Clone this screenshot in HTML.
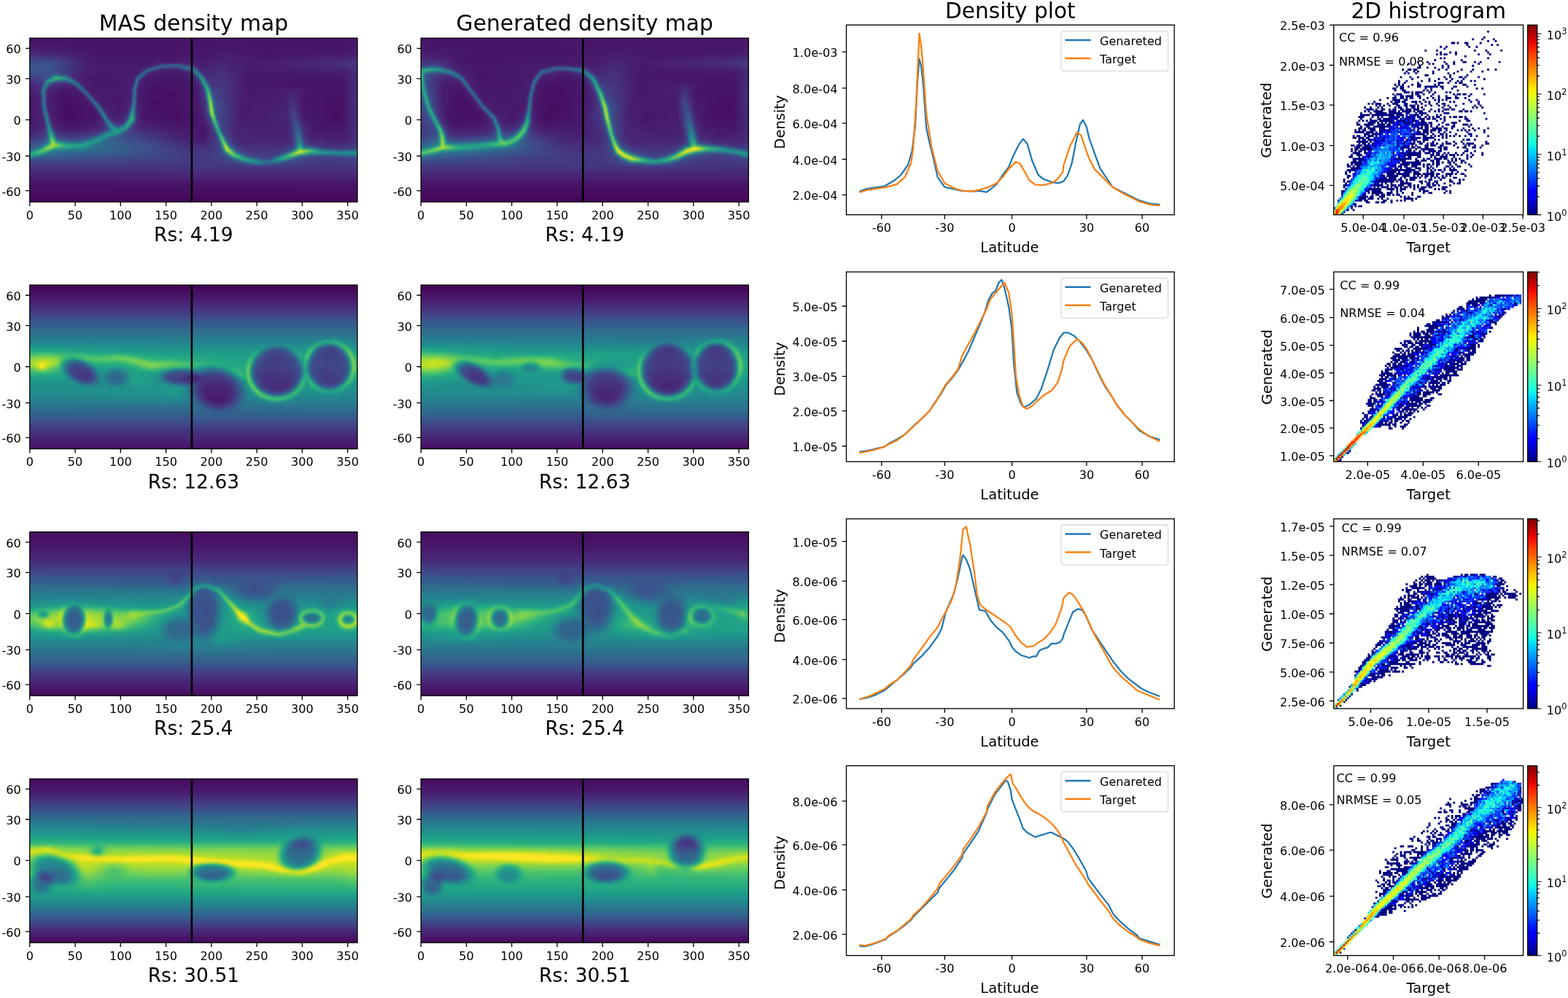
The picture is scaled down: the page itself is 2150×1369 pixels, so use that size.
<!DOCTYPE html><html><head><meta charset="utf-8"><title>figure</title><style>html,body{margin:0;padding:0;background:#fff;overflow:hidden}svg{display:block}#fig{position:relative;width:2150px;height:1369px;overflow:hidden;background:#fff}.mp{position:absolute;overflow:hidden}.mq{position:absolute}.mq i{display:block}</style></head><body><div id="fig"><div class="mp" style="left:40.8px;top:52.3px;width:449.2px;height:224.7px"><div class="mq" style="left:-4px;top:-4px;width:457.2px;filter:blur(0.9px)"><i style="height:7.00px;background:linear-gradient(90deg,#481366 5px,#481769 440px,#48196b 453px)"></i><i style="height:3.00px;background:linear-gradient(90deg,#481467 5px,#48186a 262px,#481669 439px,#481a6c 453px)"></i><i style="height:3.00px;background:linear-gradient(90deg,#481668 5px,#48176a 257px,#481669 438px,#481b6d 453px)"></i><i style="height:3.00px;background:linear-gradient(90deg,#48186a 5px,#481669 251px,#481769 438px,#481c6e 453px)"></i><i style="height:3.00px;background:linear-gradient(90deg,#481b6d 5px,#471265 211px,#48186a 281px,#481669 437px,#481d6e 453px)"></i><i style="height:3.00px;background:linear-gradient(90deg,#482071 5px,#471365 140px,#48196b 254px,#481568 289px,#481769 437px,#481e6f 453px)"></i><i style="height:3.00px;background:linear-gradient(90deg,#482676 5px,#481366 119px,#48196b 252px,#48196b 281px,#481668 433px,#481f71 453px)"></i><i style="height:3.00px;background:linear-gradient(90deg,#472d7c 5px,#482475 47px,#481466 108px,#48196b 250px,#481d6e 277px,#481567 332px,#481c6e 438px,#482273 453px)"></i><i style="height:3.00px;background:linear-gradient(90deg,#453681 5px,#46307e 39px,#481568 94px,#48196b 249px,#481f70 276px,#481668 321px,#482071 438px,#482676 453px)"></i><i style="height:3.00px;background:linear-gradient(90deg,#423f85 5px,#433d84 35px,#481769 91px,#481b6d 249px,#482172 275px,#48176a 314px,#482576 438px,#472b7a 453px)"></i><i style="height:3.00px;background:linear-gradient(90deg,#3f4788 5px,#3f4788 33px,#48196b 89px,#481a6c 191px,#481d6f 251px,#482474 274px,#48196b 310px,#472c7a 439px,#47307d 453px)"></i><i style="height:3.00px;background:linear-gradient(90deg,#3c4f8a 5px,#3c4f8b 32px,#481a6c 88px,#481a6c 172px,#472877 206px,#481b6d 232px,#482576 259px,#482071 282px,#481c6e 322px,#482979 422px,#463480 452px,#46337f 453px)"></i><i style="height:3.00px;background:linear-gradient(90deg,#3a538b 5px,#3a548c 31px,#481c6e 86px,#481a6c 162px,#482676 176px,#37598a 185px,#306a8d 206px,#472c7a 223px,#481c6e 241px,#482978 272px,#481a6c 306px,#482979 420px,#463480 442px,#463480 453px)"></i><i style="height:3.00px;background:linear-gradient(90deg,#39568c 5px,#39558c 31px,#481c6e 84px,#481a6c 157px,#472a78 167px,#2e6f8e 178px,#2f6b8e 182px,#38578a 186px,#404183 204px,#2c748e 214px,#2c728e 221px,#395489 229px,#482878 233px,#481e70 244px,#472b7a 272px,#481a6c 305px,#472b7a 437px,#453580 451px,#46337f 453px)"></i><i style="height:3.00px;background:linear-gradient(90deg,#39558c 5px,#3a538b 33px,#481d6f 81px,#481b6d 153px,#482475 160px,#3d4a87 163px,#34608c 165px,#2d718e 169px,#34608c 174px,#472a78 182px,#481f71 190px,#482474 209px,#3d4a87 218px,#25848e 229px,#2c738e 231px,#46327e 235px,#482374 239px,#472d7b 262px,#482173 284px,#481b6d 322px,#482676 436px,#46327f 451px,#46307d 453px)"></i><i style="height:3.00px;background:linear-gradient(90deg,#3b528b 5px,#3d4e8a 38px,#481d6e 78px,#481b6d 150px,#482373 156px,#45337e 158px,#2c738e 162px,#2e6d8e 164px,#3d4a86 167px,#482374 174px,#481a6c 198px,#482676 221px,#443781 226px,#3a538a 228px,#24878e 231px,#238b8d 232px,#2b758e 234px,#423f84 237px,#482978 240px,#482a79 256px,#472d7b 274px,#48196b 303px,#482071 435px,#472f7d 451px,#472d7b 453px)"></i><i style="height:3.00px;background:linear-gradient(90deg,#3d4d8a 5px,#3b528b 37px,#39558b 42px,#482374 68px,#481769 103px,#481d6f 150px,#462e7b 154px,#2d708e 158px,#2a778e 159px,#32668d 161px,#45327d 164px,#481f71 167px,#48186a 209px,#482777 227px,#443982 229px,#25858d 233px,#21918c 235px,#2b768e 237px,#414185 240px,#472b7a 243px,#472f7d 260px,#472b7a 277px,#48186b 304px,#481b6d 434px,#472d7b 451px,#472b7a 453px)"></i><i style="height:3.00px;background:linear-gradient(90deg,#404688 5px,#3c4f8b 31px,#2f6b8e 36px,#269588 40px,#34618c 53px,#3f4787 57px,#472b7a 62px,#481769 86px,#481d6f 147px,#472978 150px,#306b8d 154px,#2b768e 155px,#2a788e 156px,#355e8c 158px,#472c7a 161px,#481d6e 165px,#481668 210px,#482576 229px,#424085 232px,#218f8c 236px,#20968b 238px,#2a788e 240px,#424085 243px,#472c7b 246px,#47307d 273px,#48186b 301px,#48196b 434px,#472c7b 450px,#482a79 453px)"></i><i style="height:3.00px;background:linear-gradient(90deg,#433e85 5px,#3f4889 25px,#31668d 30px,#249489 34px,#37b877 38px,#3ebc74 40px,#20a187 51px,#20958b 55px,#3e4988 61px,#472a79 65px,#481769 84px,#481c6e 145px,#482978 148px,#365c8c 150px,#2c728e 151px,#297a8e 152px,#31678d 154px,#45327d 157px,#481f70 160px,#471365 196px,#481f70 228px,#472f7c 233px,#355e8c 236px,#1f9b8a 239px,#1fa088 240px,#20968b 241px,#3c4f8a 244px,#453580 246px,#472e7c 254px,#46317e 273px,#48186a 301px,#481669 433px,#472c7b 450px,#482a79 453px)"></i><i style="height:3.00px;background:linear-gradient(90deg,#453681 5px,#424186 23px,#3a548b 25px,#248e8b 28px,#26ab82 32px,#289e85 36px,#2c738d 41px,#2e6e8d 54px,#228d8c 58px,#25858d 61px,#443781 67px,#482172 71px,#481568 97px,#481e6f 145px,#482676 147px,#443882 148px,#2b748e 150px,#287d8e 151px,#2e6e8e 152px,#46337f 154px,#482172 156px,#471264 185px,#481c6e 228px,#472d7b 235px,#3e4988 237px,#20948b 240px,#20a486 241px,#21a287 242px,#297a8e 244px,#3e4b89 246px,#453681 248px,#453681 264px,#482374 285px,#48176a 315px,#481668 433px,#472d7b 450px,#482a79 453px)"></i><i style="height:3.00px;background:linear-gradient(90deg,#472f7d 5px,#433d84 22px,#39568c 24px,#1f9d89 27px,#1fa088 28px,#2e708d 32px,#414386 39px,#46337f 52px,#423e84 56px,#277f8e 63px,#287d8e 66px,#38578b 69px,#472978 72px,#481b6d 78px,#48186a 137px,#482475 146px,#46327f 147px,#2e6e8e 149px,#287d8e 150px,#2b748e 151px,#443882 153px,#482676 154px,#48186a 162px,#471365 214px,#482374 234px,#46317e 237px,#3a548b 239px,#238a8d 241px,#20a287 242px,#23a983 243px,#22a386 244px,#2c738e 246px,#3f4888 248px,#453580 251px,#46337f 274px,#48196b 300px,#481568 433px,#472d7b 450px,#472a79 453px)"></i><i style="height:3.00px;background:linear-gradient(90deg,#482979 5px,#463480 20px,#414487 22px,#238a8d 25px,#1f9a8a 26px,#20948b 27px,#424186 31px,#472f7c 38px,#482676 58px,#423c82 63px,#2a788e 68px,#287d8e 69px,#2f6b8d 71px,#45337e 74px,#481e70 77px,#481668 108px,#481e70 144px,#472d7c 146px,#31678e 148px,#287b8e 149px,#2a788e 150px,#423f85 152px,#482978 153px,#481c6e 156px,#471063 188px,#481a6c 230px,#472e7c 238px,#3f4988 240px,#209a89 243px,#25ab82 244px,#2aaf7f 245px,#229f87 246px,#2f6c8e 248px,#404688 250px,#453882 253px,#46337f 275px,#48196b 300px,#471265 405px,#481669 434px,#472d7c 450px,#472b7a 453px)"></i><i style="height:3.00px;background:linear-gradient(90deg,#482475 5px,#472f7d 19px,#404587 21px,#228b8d 24px,#20928c 25px,#2f6d8e 27px,#424085 29px,#472c7b 32px,#481d6f 58px,#482776 66px,#3c4e88 69px,#2d718e 71px,#29798e 72px,#2a778e 73px,#37598b 75px,#472777 78px,#481a6c 83px,#481a6c 139px,#482172 144px,#482979 145px,#423f85 146px,#2a788e 148px,#297b8e 149px,#31678e 150px,#472d7b 152px,#481e6f 154px,#471062 181px,#481a6c 231px,#472c7b 239px,#424086 241px,#2d708e 243px,#228e8c 244px,#24a784 245px,#31b57b 246px,#2aaf7f 247px,#229c88 248px,#3b518b 251px,#433e85 253px,#46317e 277px,#48196b 300px,#48186a 372px,#481466 432px,#472e7c 450px,#472b7a 453px)"></i><i style="height:3.00px;background:linear-gradient(90deg,#482071 5px,#472c7a 18px,#3f4888 20px,#287c8e 22px,#23898e 23px,#24878e 24px,#414286 27px,#472c7b 29px,#48186b 50px,#481e6f 68px,#45347f 71px,#30698d 74px,#2b768e 76px,#375b8b 78px,#472777 81px,#481a6c 85px,#481a6c 138px,#482676 144px,#453882 145px,#2b748e 147px,#287c8e 148px,#2e6e8e 149px,#46327e 151px,#481e70 153px,#470f62 178px,#481a6c 232px,#46317e 241px,#3e4b89 243px,#26828e 245px,#21a187 246px,#33b67a 247px,#3aba76 248px,#25aa83 249px,#238b8d 250px,#3a548b 252px,#424086 254px,#47307d 278px,#48196b 300px,#481d6e 356px,#481d6f 368px,#471063 428px,#472e7c 450px,#472b7a 453px)"></i><i style="height:3.00px;background:linear-gradient(90deg,#481d6f 5px,#472a79 18px,#453681 19px,#26828e 22px,#25848e 23px,#443b83 26px,#482777 28px,#481467 51px,#481e70 72px,#423c82 75px,#2d708e 78px,#2b748e 79px,#365c8c 81px,#482676 84px,#481a6c 88px,#481b6d 139px,#482172 143px,#472b7a 144px,#32648e 146px,#297b8e 147px,#2a798e 148px,#433d85 150px,#482878 151px,#481a6c 155px,#470e61 188px,#481a6c 233px,#46327e 242px,#3c4f8a 244px,#218e8d 246px,#29af7f 247px,#46c06f 248px,#43be71 249px,#24a784 250px,#25868e 251px,#3a528b 253px,#414286 255px,#46317e 278px,#48196b 300px,#481d6f 355px,#482575 365px,#481568 384px,#471365 432px,#472e7c 450px,#472b7a 453px)"></i><i style="height:3.00px;background:linear-gradient(90deg,#481b6d 5px,#482777 18px,#46327f 19px,#277f8e 22px,#25838e 23px,#2c718e 24px,#443983 26px,#482475 28px,#471265 50px,#481c6e 75px,#44357f 78px,#2e6f8e 81px,#2b748e 82px,#37598b 84px,#46307c 86px,#481c6e 89px,#48186a 135px,#482374 143px,#472f7d 144px,#306a8e 146px,#277e8e 147px,#2a778e 148px,#443b83 150px,#482777 151px,#48196b 156px,#470e61 194px,#481a6c 234px,#472f7d 242px,#414387 244px,#287b8e 246px,#20a187 247px,#42be72 248px,#5cc863 249px,#47c06f 250px,#22a386 251px,#33638d 253px,#3f4888 255px,#472a79 282px,#48186a 304px,#481d6e 354px,#482777 365px,#481668 381px,#471265 432px,#472e7c 450px,#472b7a 453px)"></i><i style="height:3.00px;background:linear-gradient(90deg,#481a6c 5px,#482576 18px,#472f7d 19px,#297b8e 22px,#26838e 23px,#2c738e 24px,#443a83 26px,#482374 28px,#471164 49px,#48196b 77px,#472877 80px,#33648d 83px,#2c738e 84px,#2b758e 85px,#3a548a 87px,#472c7a 89px,#481c6e 92px,#48186b 135px,#482575 143px,#463480 144px,#2d708e 146px,#27808e 147px,#2b768e 148px,#443982 150px,#482676 151px,#481769 157px,#470e61 200px,#481b6d 235px,#46327f 243px,#3d4d8a 245px,#228d8d 247px,#2fb37c 248px,#60ca61 249px,#6ece58 250px,#45bf70 251px,#209e88 252px,#34608d 254px,#3f4889 256px,#482978 283px,#48186a 305px,#481d6f 354px,#482a79 365px,#481668 380px,#471164 431px,#472f7c 450px,#472c7a 453px)"></i><i style="height:3.00px;background:linear-gradient(90deg,#48196b 5px,#482474 18px,#472c7b 19px,#423f85 20px,#2a788e 22px,#26828e 23px,#2b768e 24px,#433c84 26px,#472a79 27px,#481b6d 32px,#470f62 64px,#481c6e 81px,#472c7a 83px,#306a8d 86px,#2b768e 87px,#2b748e 88px,#433981 91px,#482172 93px,#481668 116px,#481e70 141px,#482777 143px,#443983 144px,#2b768e 146px,#26828e 147px,#2c748e 148px,#453781 150px,#482576 151px,#481668 158px,#470f61 206px,#481c6e 236px,#453781 244px,#37598c 246px,#20a087 248px,#4fc36a 249px,#7ed34e 250px,#79d152 251px,#3fbc73 252px,#20978a 253px,#2b758e 254px,#365d8d 255px,#3f4989 257px,#482475 286px,#48176a 312px,#481d6f 354px,#472e7c 364px,#481669 380px,#471163 431px,#472f7d 450px,#472c7a 453px)"></i><i style="height:3.00px;background:linear-gradient(90deg,#48186a 5px,#482374 18px,#472a79 19px,#443c84 20px,#2b748e 22px,#26828e 23px,#2a788e 24px,#423f85 26px,#472b7a 27px,#481d6f 30px,#470e61 58px,#481a6c 83px,#482474 85px,#3f4586 87px,#2d708e 89px,#2a798e 90px,#2c738e 91px,#45347f 94px,#482072 96px,#481668 124px,#482273 142px,#472b7a 143px,#423f86 144px,#297b8e 146px,#26838e 147px,#2c728e 148px,#453580 150px,#481f70 152px,#470e61 173px,#481769 233px,#472e7c 243px,#433d84 245px,#3d4c8a 246px,#238b8d 248px,#31b47b 249px,#76d053 250px,#9ad93d 251px,#7cd250 252px,#36b678 253px,#21908c 254px,#2d6f8e 255px,#3c4f8a 257px,#433e85 269px,#48196c 298px,#481e70 354px,#47307d 364px,#481769 379px,#471163 431px,#472f7d 450px,#472c7a 453px)"></i><i style="height:3.00px;background:linear-gradient(90deg,#48186a 5px,#482273 18px,#453882 20px,#2d718e 22px,#26818e 23px,#297a8e 24px,#414287 26px,#472d7b 27px,#481d6f 30px,#470d60 58px,#48196b 85px,#472877 88px,#31688d 91px,#2a788e 92px,#29798e 93px,#2f6d8e 94px,#462f7c 97px,#481d6f 100px,#48186a 133px,#482475 142px,#472f7d 143px,#31668e 145px,#277f8e 146px,#25838e 147px,#2d6f8e 148px,#463480 150px,#481f70 152px,#470e61 173px,#481769 233px,#46327e 244px,#414487 246px,#38588c 247px,#1f9f88 249px,#57c766 250px,#9eda3a 251px,#a9dc33 252px,#6dce59 253px,#26ab82 254px,#25848e 255px,#31678e 256px,#3d4d8a 258px,#48196c 298px,#481e70 354px,#46337f 364px,#481769 379px,#471063 431px,#472f7c 450px,#472c7a 453px)"></i><i style="height:3.00px;background:linear-gradient(90deg,#48186a 5px,#482172 18px,#453581 20px,#2e6e8e 22px,#27808e 23px,#287c8e 24px,#404688 26px,#472f7d 27px,#481f70 29px,#470e61 53px,#481668 84px,#482475 90px,#3f4787 92px,#2c738e 94px,#287c8e 95px,#2b768e 96px,#472b7a 100px,#481c6e 104px,#48196c 134px,#482878 142px,#453681 143px,#2e6f8e 145px,#25858e 146px,#25848e 147px,#3d4d8a 149px,#46337f 150px,#481f71 152px,#470e61 172px,#481669 233px,#46307e 244px,#423f85 246px,#3c4f8b 247px,#306a8e 248px,#21908c 249px,#3cbb75 250px,#91d743 251px,#bade28 252px,#96d83f 253px,#42be71 254px,#20958b 255px,#2c738e 256px,#365d8d 257px,#3e4b8a 259px,#48196c 298px,#482172 355px,#463480 365px,#481769 379px,#471063 431px,#472e7c 450px,#472b7a 453px)"></i><i style="height:3.00px;background:linear-gradient(90deg,#48186a 5px,#482072 18px,#46327f 20px,#306a8e 22px,#277f8e 23px,#277f8e 24px,#3d4c8a 26px,#46337f 27px,#482071 29px,#470e61 51px,#481467 84px,#482273 92px,#423e84 94px,#2f6c8e 96px,#297b8e 97px,#287d8e 98px,#365c8c 100px,#45347f 102px,#481f70 105px,#48186a 131px,#482978 141px,#3e4989 143px,#26828e 145px,#218e8d 146px,#25858e 147px,#3e4c8a 149px,#46337f 150px,#482072 152px,#470f61 170px,#481568 232px,#472b7a 243px,#443b84 246px,#355f8d 248px,#26818e 249px,#27ac81 250px,#78d152 251px,#bcdf27 252px,#b9de29 253px,#6ccd59 254px,#23a884 255px,#26818e 256px,#32668e 257px,#3d4e8a 259px,#481a6c 297px,#482273 355px,#453781 365px,#48176a 379px,#470f62 430px,#472e7c 450px,#472b7a 453px)"></i><i style="height:3.00px;background:linear-gradient(90deg,#48176a 5px,#482374 19px,#472b7a 20px,#365b8c 22px,#2a768e 23px,#26828e 24px,#297a8e 25px,#414387 27px,#472d7c 28px,#481d6e 31px,#470d60 57px,#481669 88px,#482172 94px,#443881 96px,#2a778e 99px,#277f8e 100px,#297a8e 101px,#443781 104px,#482273 106px,#481769 127px,#482475 139px,#463480 141px,#33628d 143px,#20938c 145px,#1f958c 146px,#25848e 147px,#463480 150px,#482173 152px,#470f62 168px,#481567 231px,#482a79 243px,#414287 247px,#39558c 248px,#2c738e 249px,#1f9c89 250px,#59c765 251px,#b3dd2d 252px,#cee11d 253px,#99d93d 254px,#3cbb75 255px,#21918c 256px,#2d708e 257px,#3b508b 259px,#481b6d 295px,#481d6f 331px,#482475 356px,#443a83 365px,#48186a 379px,#470f62 430px,#472e7c 450px,#472b7a 453px)"></i><i style="height:3.00px;background:linear-gradient(90deg,#48176a 5px,#482575 20px,#46307d 21px,#32658e 23px,#287c8e 24px,#26828e 25px,#2b758e 26px,#433d84 28px,#472a79 29px,#481b6d 33px,#470c5f 62px,#48196b 92px,#482777 97px,#3e4a88 99px,#297a8e 101px,#25838e 102px,#33638d 104px,#453580 106px,#482273 108px,#48186a 128px,#472a7a 139px,#404587 141px,#20928c 144px,#1f9e88 145px,#1f988b 146px,#3e4a89 149px,#482978 151px,#481466 160px,#470f62 211px,#481d6f 239px,#453580 246px,#3d4d8a 248px,#31668e 249px,#228c8d 250px,#39b976 251px,#9ad93c 252px,#d4e21a 253px,#c0df25 254px,#65cb5e 255px,#20a386 256px,#287c8e 257px,#33628d 258px,#3d4d8a 260px,#481a6c 296px,#481e70 329px,#482172 348px,#482878 357px,#433c84 365px,#48186b 379px,#470f62 430px,#472e7c 450px,#472b7a 453px)"></i><i style="height:3.00px;background:linear-gradient(90deg,#481769 5px,#482273 20px,#453781 22px,#2e6e8e 24px,#26818e 25px,#26828e 26px,#2d708e 27px,#453882 29px,#482172 31px,#470e61 50px,#481467 89px,#482273 98px,#433c83 100px,#26818e 103px,#26828e 104px,#2b768e 105px,#46337f 108px,#482072 111px,#481b6d 130px,#472c7b 138px,#404487 140px,#21908c 143px,#20a387 144px,#21a685 145px,#1f998a 146px,#3e4989 149px,#472a79 151px,#481568 159px,#470e61 207px,#481c6e 239px,#453882 247px,#375a8c 249px,#297a8e 250px,#23a485 251px,#6dcd59 252px,#c4e023 253px,#d1e11b 254px,#97d83e 255px,#3bba75 256px,#21908c 257px,#2e6f8e 258px,#3c4f8b 260px,#481b6d 294px,#481d6f 327px,#482475 345px,#482575 356px,#424086 366px,#48196b 379px,#470f62 430px,#472e7c 450px,#472b7a 453px)"></i><i style="height:3.00px;background:linear-gradient(90deg,#481769 5px,#482374 21px,#472c7a 22px,#375a8c 24px,#2b768e 25px,#25848e 26px,#277f8e 27px,#3d4c89 29px,#46337f 30px,#482071 32px,#470e61 52px,#481668 92px,#482676 100px,#404687 102px,#2a778e 104px,#25848e 105px,#25838e 106px,#414286 109px,#482878 111px,#481a6c 124px,#482878 136px,#414487 139px,#228c8d 142px,#20a386 143px,#28ae80 144px,#24aa83 145px,#1f988b 146px,#3f4989 149px,#472b7a 151px,#481769 158px,#470e61 202px,#481b6d 239px,#46327f 247px,#404588 249px,#2a788e 251px,#249e87 252px,#5cc662 253px,#a7db34 254px,#addc30 255px,#76d053 256px,#2baf7f 257px,#24868e 258px,#31688e 259px,#3d4c8a 261px,#481b6d 294px,#481d6f 326px,#482676 344px,#482474 356px,#414387 366px,#48196b 380px,#470f62 430px,#472d7c 450px,#472a7a 453px)"></i><i style="height:3.00px;background:linear-gradient(90deg,#481769 5px,#482172 21px,#46317e 23px,#287c8e 26px,#25858e 27px,#287c8e 28px,#472f7d 31px,#481d6f 34px,#470d60 58px,#48186a 95px,#482374 101px,#443982 103px,#277e8e 106px,#23888e 107px,#26818e 108px,#414185 111px,#472979 113px,#481d6e 125px,#472a7a 135px,#404587 138px,#24878e 141px,#20a087 142px,#2db27d 143px,#32b67a 144px,#25ac82 145px,#1f968b 146px,#3f4989 149px,#472c7b 151px,#48176a 158px,#470f62 205px,#481a6d 240px,#453882 249px,#3a548b 251px,#22948a 253px,#43bc71 254px,#84d34b 255px,#89d548 256px,#57c666 257px,#22a386 258px,#287d8e 259px,#34618d 260px,#3f4989 262px,#481b6d 294px,#481d6f 327px,#482676 344px,#482475 357px,#404788 367px,#481b6d 379px,#470f61 429px,#472d7b 450px,#472a79 453px)"></i><i style="height:3.00px;background:linear-gradient(90deg,#48186a 5px,#482374 22px,#453882 24px,#26828e 27px,#24868e 28px,#2a788e 29px,#424086 31px,#482475 33px,#471163 49px,#481669 93px,#482877 103px,#414386 105px,#25858e 108px,#238a8d 109px,#2d718e 111px,#443a82 114px,#482777 117px,#482576 130px,#453681 135px,#33638d 138px,#22908c 140px,#22a485 141px,#39ba76 143px,#34b679 144px,#23a884 145px,#20918c 146px,#3f4888 149px,#472d7b 151px,#48196b 158px,#471163 209px,#481a6c 241px,#453681 250px,#3c4e8a 252px,#24898d 254px,#31b17c 255px,#64cb5e 256px,#68cc5c 257px,#3ebc74 258px,#20988a 259px,#2b748e 260px,#375b8c 261px,#404788 263px,#481c6d 294px,#481e70 328px,#482374 346px,#482374 357px,#3e4a89 367px,#443b84 372px,#481d6f 379px,#470e61 424px,#481e6f 439px,#472d7c 450px,#472a7a 453px)"></i><i style="height:3.00px;background:linear-gradient(90deg,#48196b 5px,#482374 22px,#472f7d 24px,#365c8d 26px,#2a778e 27px,#24878e 28px,#24868e 29px,#38578c 31px,#472c7b 33px,#481c6e 38px,#471063 66px,#481f70 100px,#472d7c 105px,#3e4b89 107px,#24868e 110px,#218e8d 111px,#297a8e 113px,#443982 117px,#482a79 121px,#46317e 132px,#3d4d8a 135px,#238b8d 138px,#2aaf7f 140px,#32b67a 141px,#25a684 143px,#277f8e 145px,#443b83 149px,#482374 153px,#481466 175px,#48186a 241px,#453580 251px,#3e4989 253px,#27808e 255px,#26a683 256px,#49c06e 257px,#50c46a 258px,#33b57a 259px,#21928b 260px,#375a8c 262px,#404688 264px,#481d6f 293px,#481f71 330px,#482575 358px,#3c4f8a 368px,#453681 374px,#481c6e 381px,#471164 429px,#472e7c 450px,#472b7a 453px)"></i><i style="height:3.00px;background:linear-gradient(90deg,#481b6d 5px,#482676 23px,#453681 25px,#27808e 28px,#228b8d 29px,#25858e 30px,#443b83 33px,#482676 35px,#481466 52px,#481d6f 97px,#472d7b 106px,#423f85 108px,#238a8d 112px,#218f8c 114px,#404487 119px,#46337f 125px,#414286 131px,#365d8c 134px,#209c89 137px,#2ab07f 139px,#229e87 141px,#3a548b 145px,#463480 148px,#481e70 157px,#481567 214px,#48196b 243px,#443a83 253px,#375a8c 255px,#229c88 257px,#38b877 258px,#4dc36c 259px,#35b679 260px,#21968a 261px,#365d8d 263px,#404688 265px,#481f70 291px,#481f71 332px,#482475 358px,#3b528b 368px,#3f4989 372px,#482072 380px,#471164 415px,#481a6c 436px,#472e7c 450px,#472c7a 453px)"></i><i style="height:3.00px;background:linear-gradient(90deg,#481c6e 5px,#482777 23px,#46317e 25px,#38588c 27px,#23898d 29px,#21918c 30px,#24878e 31px,#424085 34px,#472a79 36px,#481769 51px,#481f71 96px,#463480 108px,#38578c 111px,#228e8d 114px,#1f978b 115px,#228d8c 117px,#38578b 123px,#3c4d89 126px,#27808d 132px,#26ac82 137px,#21988a 139px,#3c4f8a 143px,#453581 146px,#482071 160px,#481467 241px,#46337f 253px,#414286 255px,#3a548b 256px,#21928b 258px,#2cb07e 259px,#47c06f 260px,#36b778 261px,#209a89 262px,#355f8d 264px,#404688 266px,#482172 289px,#481f71 335px,#482374 358px,#404588 365px,#38578c 369px,#3e4b89 373px,#482374 380px,#481567 403px,#48186a 434px,#472f7c 450px,#472c7b 453px)"></i><i style="height:3.00px;background:linear-gradient(90deg,#481f70 5px,#482979 23px,#433c84 26px,#25838e 29px,#1f948c 30px,#1f988b 31px,#228c8d 32px,#404688 35px,#472f7d 37px,#481b6d 50px,#482374 94px,#443a83 109px,#3b508b 112px,#228e8c 116px,#1f9d89 119px,#228e8c 123px,#287e8e 125px,#22918b 128px,#21a685 132px,#229b89 135px,#30698e 139px,#414387 142px,#472e7c 149px,#48196b 198px,#481769 244px,#453782 255px,#3c4f8a 257px,#24898d 259px,#26a983 260px,#3fbc73 261px,#35b779 262px,#219f88 263px,#33628d 265px,#404688 267px,#482273 288px,#481f70 353px,#472b7a 361px,#365b8d 369px,#3a538b 373px,#482676 380px,#48186a 397px,#48196b 434px,#472f7d 450px,#472c7b 453px)"></i><i style="height:3.00px;background:linear-gradient(90deg,#482273 5px,#472d7b 23px,#443c84 26px,#34618d 28px,#20928c 30px,#1f9f88 31px,#1fa088 32px,#297a8e 34px,#423f85 37px,#472b7a 41px,#481f70 62px,#472f7c 98px,#3f4888 107px,#297a8e 116px,#1fa187 122px,#209e88 129px,#365d8c 136px,#423f85 141px,#482878 165px,#481567 243px,#453782 256px,#3d4c89 258px,#27808e 260px,#22a286 261px,#36b878 262px,#33b67a 263px,#22a386 264px,#31668e 266px,#3f4788 268px,#482575 286px,#481e70 336px,#482475 359px,#443a83 364px,#33628d 370px,#365c8d 373px,#482979 380px,#481a6c 393px,#48196b 433px,#472f7d 450px,#472d7b 453px)"></i><i style="height:3.00px;background:linear-gradient(90deg,#482676 5px,#46317e 23px,#433e85 26px,#365c8d 28px,#1fa187 31px,#25ab82 32px,#24a983 33px,#20998a 34px,#38578c 37px,#453882 40px,#482777 54px,#46327f 92px,#3f4788 101px,#21938b 113px,#1fa088 120px,#24878d 127px,#3c508b 134px,#443c84 145px,#481d6f 210px,#481668 244px,#433e85 258px,#355d8d 260px,#219b89 262px,#2eb27d 263px,#37b878 264px,#29ab81 265px,#228e8c 266px,#375b8c 268px,#414487 270px,#482575 287px,#482071 354px,#472c7b 362px,#31668e 370px,#32648e 373px,#472d7b 380px,#481d6e 390px,#481b6d 433px,#472f7d 451px,#472d7c 453px)"></i><i style="height:3.00px;background:linear-gradient(90deg,#472b7a 5px,#453882 23px,#3d4c8a 27px,#24878e 30px,#1f9f88 31px,#2bb07e 32px,#35b779 33px,#2eb27d 34px,#21a187 35px,#34618d 38px,#414286 41px,#46317e 54px,#443b83 88px,#3c4e8a 96px,#20958b 107px,#21938b 114px,#3d4c8a 133px,#482172 207px,#481568 243px,#453882 258px,#3f4889 260px,#2b748e 262px,#21968b 263px,#2cb17e 264px,#45c070 265px,#3ab976 266px,#23a186 267px,#31688e 269px,#3f4889 271px,#472c7a 282px,#481f71 310px,#482676 360px,#443b84 365px,#2e6d8e 371px,#31678e 374px,#46317e 380px,#482071 388px,#481c6e 433px,#47307d 451px,#472e7c 453px)"></i><i style="height:3.00px;background:linear-gradient(90deg,#46317e 5px,#423f85 23px,#3b518b 27px,#25838e 30px,#1e9b8a 31px,#2cb27e 32px,#44bf70 33px,#4ec36b 34px,#40bc73 35px,#27ab81 36px,#20948b 37px,#355e8d 40px,#404688 44px,#433c84 65px,#3e4a89 86px,#31678d 94px,#1f978b 102px,#21908c 107px,#2f6b8e 115px,#3b508b 131px,#482273 214px,#481668 242px,#443a83 259px,#3f4888 261px,#2d708e 263px,#21908c 264px,#2baf7f 265px,#50c46a 266px,#52c469 267px,#32b37b 268px,#22968a 269px,#34608d 271px,#404688 273px,#482878 286px,#482072 341px,#472a79 362px,#3e4a89 367px,#2d708e 371px,#2d708e 374px,#47307d 381px,#481f71 392px,#481e70 434px,#47307d 451px,#472e7c 453px)"></i><i style="height:3.00px;background:linear-gradient(90deg,#443982 5px,#3e4b89 24px,#34618d 28px,#1f998a 31px,#2bb17e 32px,#68cc5c 34px,#6ece58 35px,#57c665 36px,#35b679 37px,#21a087 38px,#2f6b8e 41px,#375a8c 44px,#3e4b89 61px,#3a538b 78px,#277f8e 90px,#1f9b8a 98px,#25838e 104px,#355f8d 112px,#472f7d 190px,#48196b 242px,#443b84 260px,#3f4888 262px,#2f6d8e 264px,#238b8d 265px,#29ac81 266px,#56c666 267px,#67cc5c 268px,#50c36a 269px,#2aaa81 270px,#24898d 271px,#38598c 273px,#423f85 276px,#482576 291px,#482676 359px,#453681 365px,#29798e 372px,#2c738e 375px,#453581 381px,#482475 390px,#481f71 433px,#46317e 451px,#472f7d 453px)"></i><i style="height:3.00px;background:linear-gradient(90deg,#424286 5px,#39558c 23px,#306a8e 28px,#25838e 30px,#1f988b 31px,#29af7f 32px,#7bd250 34px,#93d741 35px,#92d742 36px,#75d054 37px,#49c06e 38px,#28ac81 39px,#21998a 40px,#25878d 43px,#31678e 56px,#306a8e 75px,#1f9e89 89px,#20958b 96px,#32658e 106px,#424086 174px,#481c6e 241px,#433e85 261px,#39568c 264px,#24878d 266px,#27a982 267px,#57c666 268px,#7ad251 269px,#76d053 270px,#46bd6f 271px,#26a185 272px,#306a8e 274px,#3d4c8a 276px,#463380 283px,#482475 302px,#472a79 360px,#433c84 366px,#24878e 373px,#26828e 375px,#433e85 381px,#472c7b 388px,#482172 430px,#46337f 452px,#46327f 453px)"></i><i style="height:3.00px;background:linear-gradient(90deg,#3e4b89 5px,#355e8d 21px,#26818e 27px,#25a085 30px,#40bb73 32px,#5fc961 33px,#abdc32 35px,#bbde27 36px,#b3dd2d 37px,#6dcd58 39px,#36b578 46px,#229c88 53px,#22908c 69px,#21938b 75px,#20a387 83px,#26818e 94px,#32658e 104px,#3d4d8a 164px,#472c7b 218px,#482374 242px,#433e85 261px,#3e4b89 264px,#30698e 266px,#24a584 268px,#54c567 269px,#89d548 270px,#a0da39 271px,#7ad050 272px,#45bc70 273px,#259e87 274px,#306a8e 276px,#3f4788 279px,#472d7b 291px,#482979 354px,#443a83 365px,#3a538b 368px,#1f998a 373px,#20968b 375px,#3f4788 381px,#453781 387px,#482576 423px,#453681 445px,#453681 453px)"></i><i style="height:3.00px;background:linear-gradient(90deg,#3a548b 5px,#31678e 18px,#24888d 23px,#2ba981 26px,#4bbf6c 28px,#a5db35 32px,#bade28 34px,#b3dd2d 36px,#a7db34 37px,#8ed644 38px,#78d152 40px,#33b67a 52px,#26ac81 59px,#20a088 78px,#2e6f8e 94px,#3d4d8a 167px,#472e7c 222px,#472b7a 245px,#424086 262px,#3d4d8a 265px,#30688e 267px,#22a286 269px,#4dc26b 270px,#90d643 271px,#bedf26 272px,#afdc30 273px,#7fd14d 274px,#3fb973 275px,#249c87 276px,#306b8e 278px,#3e4b89 281px,#46317e 292px,#472a7a 344px,#443a83 363px,#3d4d8a 367px,#2a788e 370px,#1f9d89 372px,#2aaf7f 374px,#1f9e88 376px,#365d8d 380px,#3c4e8a 387px,#47307d 407px,#46317e 436px,#433c84 452px,#443b84 453px)"></i><i style="height:3.00px;background:linear-gradient(90deg,#365c8d 5px,#2b758e 15px,#228f8c 19px,#30b07d 22px,#87d549 27px,#95d840 29px,#8bd546 31px,#34b27a 37px,#28a782 39px,#22908c 62px,#238a8d 76px,#2e6e8e 88px,#3b518b 164px,#46317e 223px,#46337f 253px,#3f4889 265px,#38588c 267px,#277e8e 269px,#219d88 270px,#43bd71 271px,#8fd644 272px,#cde11e 273px,#d8e21b 274px,#bdde29 275px,#7bd04f 276px,#47bb6f 277px,#2da481 278px,#258f8a 279px,#355f8d 282px,#414487 286px,#472f7d 302px,#46337f 352px,#3f4889 364px,#33628d 368px,#20938c 371px,#23a983 372px,#48c16e 374px,#43be71 375px,#2db27d 376px,#23a385 377px,#279388 379px,#27818d 391px,#3f4788 404px,#453781 429px,#404588 453px)"></i><i style="height:3.00px;background:linear-gradient(90deg,#2e6d8e 5px,#249e87 14px,#40bc73 19px,#64cb5e 22px,#65cb5d 25px,#2aa882 31px,#238d8c 35px,#287c8e 40px,#3b518b 163px,#46337f 227px,#443983 258px,#3c4f8a 267px,#32668e 269px,#21968a 271px,#37b478 272px,#71cc55 273px,#a4d939 274px,#c2df27 275px,#cee11f 276px,#c5e022 277px,#a7da34 278px,#50c06a 280px,#32ac7d 281px,#259788 282px,#32658d 285px,#3f4788 289px,#46337f 305px,#453681 347px,#3e4a89 359px,#2a778e 365px,#289c86 368px,#42b673 370px,#95d540 373px,#b1db33 374px,#9bd73c 379px,#34b47a 393px,#239889 399px,#2a778e 406px,#365c8c 428px,#31698d 453px)"></i><i style="height:3.00px;background:linear-gradient(90deg,#229a89 5px,#3cbb75 13px,#3fbb73 19px,#239b88 25px,#2c748e 33px,#30688e 50px,#39568c 150px,#453581 226px,#433c84 260px,#3d4d8a 268px,#2b758e 272px,#269688 274px,#32a97e 275px,#6ac959 277px,#9fd939 279px,#a2da37 280px,#94d740 281px,#35b17a 284px,#269d86 285px,#2d718e 288px,#3e4989 294px,#453882 308px,#443983 343px,#3d4c8a 353px,#2b758e 359px,#269987 362px,#39b278 364px,#7dd14f 367px,#bbde27 370px,#cbe021 372px,#c0de2a 374px,#4cbe6c 384px,#29a483 390px,#20928c 415px,#238b8d 432px,#1f978b 453px)"></i><i style="height:3.00px;background:linear-gradient(90deg,#27ac81 5px,#27808e 21px,#31668e 29px,#3c4f8a 153px,#453580 233px,#424086 265px,#38578c 273px,#26838d 277px,#2ca482 279px,#69cb5b 282px,#75d054 283px,#72cf56 284px,#37b379 288px,#25928a 291px,#38598c 297px,#414387 303px,#453882 333px,#3f4888 345px,#2c738e 352px,#259a87 356px,#39b677 359px,#72cf56 363px,#7bd050 366px,#3cb177 372px,#289887 375px,#33648d 390px,#287d8e 453px)"></i><i style="height:3.00px;background:linear-gradient(90deg,#2a798e 5px,#355f8d 20px,#38578c 59px,#3e4a89 153px,#453581 241px,#414487 271px,#39568c 277px,#277f8d 281px,#279c86 283px,#45bd70 288px,#43be71 291px,#249c87 296px,#2f6b8d 301px,#404588 313px,#433c84 332px,#3b528b 340px,#238e8b 348px,#2fb37c 353px,#3fbb73 358px,#299e85 364px,#2c738e 370px,#39558b 378px,#414387 398px,#3c4e8a 442px,#3b508b 453px)"></i><i style="height:3.00px;background:linear-gradient(90deg,#3a538b 5px,#414487 155px,#453681 250px,#3f4888 278px,#297c8d 288px,#2aaa81 295px,#26ac82 299px,#26828d 309px,#38578b 320px,#3f4888 330px,#287d8e 339px,#20a386 346px,#249c87 352px,#3a538b 367px,#433e85 386px,#433e85 438px,#414387 453px)"></i><i style="height:3.00px;background:linear-gradient(90deg,#3f4788 5px,#424086 153px,#453882 257px,#3e4989 286px,#32668d 294px,#248d8b 301px,#1f9b8a 311px,#2f6c8e 329px,#24888d 338px,#297a8d 346px,#3c4f8a 357px,#443b83 382px,#443c84 439px,#424086 453px)"></i><i style="height:3.00px;background:linear-gradient(90deg,#424086 5px,#443983 171px,#443a83 274px,#3e4a89 297px,#2a788e 315px,#375b8c 337px,#423f85 357px,#463580 428px,#433d84 453px)"></i><i style="height:3.00px;background:linear-gradient(90deg,#453882 5px,#453681 281px,#404587 320px,#46317e 405px,#443882 453px)"></i><i style="height:3.00px;background:linear-gradient(90deg,#46327f 5px,#463480 297px,#46327f 440px,#463480 453px)"></i><i style="height:3.00px;background:linear-gradient(90deg,#472d7c 5px,#472f7d 441px,#46317e 453px)"></i><i style="height:3.00px;background:linear-gradient(90deg,#482979 5px,#472c7b 442px,#472d7c 453px)"></i><i style="height:3.00px;background:linear-gradient(90deg,#482576 5px,#482978 443px,#482979 453px)"></i><i style="height:3.00px;background:linear-gradient(90deg,#482172 5px,#482576 445px,#482575 453px)"></i><i style="height:3.00px;background:linear-gradient(90deg,#481d6f 5px,#482172 447px,#482172 453px)"></i><i style="height:3.00px;background:linear-gradient(90deg,#48196b 5px,#481c6e 453px)"></i><i style="height:3.00px;background:linear-gradient(90deg,#481567 5px,#48186a 453px)"></i><i style="height:3.00px;background:linear-gradient(90deg,#471265 5px,#481568 453px)"></i><i style="height:3.00px;background:linear-gradient(90deg,#471163 5px,#481366 453px)"></i><i style="height:3.00px;background:linear-gradient(90deg,#470f62 5px,#471164 453px)"></i><i style="height:3.00px;background:linear-gradient(90deg,#470d60 5px,#470f62 453px)"></i><i style="height:3.00px;background:linear-gradient(90deg,#460b5e 5px,#470d60 453px)"></i><i style="height:3.00px;background:linear-gradient(90deg,#46095c 5px,#460b5e 453px)"></i><i style="height:3.00px;background:linear-gradient(90deg,#46075b 5px,#46095c 453px)"></i><i style="height:7.00px;background:linear-gradient(90deg,#450559 5px,#46075a 453px)"></i></div></div><div class="mp" style="left:577.2px;top:52.3px;width:449.2px;height:224.7px"><div class="mq" style="left:-4px;top:-4px;width:457.2px;filter:blur(0.9px)"><i style="height:7.00px;background:linear-gradient(90deg,#481567 5px,#481769 446px,#48176a 453px)"></i><i style="height:3.00px;background:linear-gradient(90deg,#481668 5px,#48176a 261px,#481669 444px,#48186a 453px)"></i><i style="height:3.00px;background:linear-gradient(90deg,#481669 5px,#481769 256px,#481769 443px,#48196b 453px)"></i><i style="height:3.00px;background:linear-gradient(90deg,#48176a 5px,#481769 253px,#481769 442px,#481a6c 453px)"></i><i style="height:3.00px;background:linear-gradient(90deg,#48196b 5px,#481567 245px,#48186a 281px,#481769 441px,#481b6d 453px)"></i><i style="height:3.00px;background:linear-gradient(90deg,#481a6c 5px,#471265 193px,#48196b 280px,#481568 438px,#481c6e 453px)"></i><i style="height:3.00px;background:linear-gradient(90deg,#481c6e 5px,#481366 117px,#48196b 252px,#48196b 281px,#481668 436px,#481e70 453px)"></i><i style="height:3.00px;background:linear-gradient(90deg,#481f71 5px,#481366 94px,#48196b 250px,#481c6e 278px,#481568 336px,#481c6e 441px,#482172 453px)"></i><i style="height:3.00px;background:linear-gradient(90deg,#482474 5px,#481d6f 31px,#481466 96px,#48196c 249px,#481f70 276px,#481769 320px,#482273 442px,#482676 453px)"></i><i style="height:3.00px;background:linear-gradient(90deg,#482979 5px,#482576 26px,#481467 66px,#481b6d 249px,#482173 275px,#48186b 314px,#472a79 443px,#472d7b 453px)"></i><i style="height:3.00px;background:linear-gradient(90deg,#46307e 5px,#472e7c 24px,#481568 60px,#481b6d 248px,#482575 273px,#481a6c 309px,#472a7a 419px,#46337f 453px)"></i><i style="height:3.00px;background:linear-gradient(90deg,#443882 5px,#453781 23px,#481769 58px,#481b6d 246px,#482777 272px,#481a6c 307px,#472d7b 417px,#463480 444px,#453681 453px)"></i><i style="height:3.00px;background:linear-gradient(90deg,#414286 5px,#414387 25px,#482172 46px,#481568 83px,#481c6d 183px,#481d6f 228px,#482273 253px,#482878 274px,#481a6c 306px,#482978 420px,#46327f 444px,#463480 453px)"></i><i style="height:3.00px;background:linear-gradient(90deg,#365c8c 5px,#2a7a8d 25px,#443a83 37px,#481e70 53px,#481668 94px,#481c6e 171px,#462b79 181px,#375a8a 189px,#385689 207px,#481f70 234px,#482777 257px,#482878 276px,#48196b 306px,#482777 439px,#46317e 453px)"></i><i style="height:3.00px;background:linear-gradient(90deg,#29a383 5px,#2aaf7f 16px,#20978a 31px,#3f4786 45px,#482777 50px,#481668 75px,#481c6e 165px,#3c4d87 175px,#2d718e 182px,#306b8d 187px,#365b8a 191px,#355f8b 205px,#2a788e 215px,#2f6c8d 227px,#46307d 232px,#482273 238px,#472c7a 273px,#48196b 304px,#482072 438px,#472d7b 453px)"></i><i style="height:3.00px;background:linear-gradient(90deg,#38b977 5px,#26a484 7px,#2e6e8d 22px,#31678d 25px,#218f8c 40px,#238a8d 45px,#414084 51px,#482676 55px,#481668 79px,#481c6e 162px,#482575 165px,#3f4686 167px,#2d708e 169px,#2e6f8e 174px,#472877 187px,#482172 198px,#472b79 209px,#2d708e 226px,#25848e 228px,#27808e 230px,#45347f 236px,#482575 241px,#472d7c 273px,#48186a 303px,#481c6d 437px,#472b7a 453px)"></i><i style="height:3.00px;background:linear-gradient(90deg,#38b977 5px,#2bb17e 6px,#1f998a 7px,#30698e 9px,#38598c 12px,#433d84 29px,#3d4c88 39px,#34618c 44px,#24868d 48px,#277f8e 51px,#443680 57px,#482172 61px,#481668 87px,#481b6d 159px,#482877 163px,#3c4d89 165px,#2b768e 167px,#2a788e 168px,#423e83 171px,#482374 177px,#481a6c 201px,#472979 223px,#443982 226px,#25868e 231px,#228d8d 233px,#2f6c8d 236px,#443881 240px,#482777 245px,#472f7d 273px,#48186a 302px,#48186b 436px,#472a7a 453px)"></i><i style="height:3.00px;background:linear-gradient(90deg,#31b57b 5px,#2fb37c 6px,#1fa088 7px,#2f6b8e 9px,#3b528b 11px,#472a7a 36px,#46307d 45px,#3a5189 49px,#287c8e 53px,#277e8e 56px,#414184 61px,#482172 64px,#481568 87px,#481b6d 157px,#482273 160px,#423d83 162px,#2f6c8e 164px,#297a8e 165px,#2b748e 166px,#45347f 169px,#482071 171px,#48186a 205px,#482777 227px,#423f84 230px,#228e8c 235px,#20958b 237px,#2d728d 240px,#453480 244px,#472a79 249px,#46317e 272px,#48186a 301px,#481669 435px,#472b7a 452px,#472b7a 453px)"></i><i style="height:3.00px;background:linear-gradient(90deg,#28ae80 5px,#2fb37c 6px,#21a685 7px,#2d708e 9px,#3b518b 11px,#482777 33px,#482576 49px,#433a81 53px,#287b8e 59px,#27808e 60px,#2b768e 61px,#453580 64px,#482172 66px,#481567 87px,#481b6d 155px,#482475 158px,#404486 160px,#2c738e 162px,#29798e 163px,#2d718e 164px,#462f7c 167px,#481e70 169px,#481567 201px,#482374 229px,#443a82 233px,#228d8c 238px,#1fa088 240px,#20968b 241px,#3d4d8a 244px,#463480 246px,#472f7d 255px,#46317e 273px,#48186a 301px,#481668 435px,#472c7b 452px,#472b7a 453px)"></i><i style="height:3.00px;background:linear-gradient(90deg,#21a685 5px,#2db27d 6px,#25ab82 7px,#20938c 8px,#34608d 10px,#3e4b89 12px,#482172 35px,#482374 55px,#472b7a 57px,#3e4a88 59px,#2b758e 61px,#277e8e 62px,#2a798e 63px,#443781 66px,#482172 68px,#481567 88px,#481c6e 154px,#482374 156px,#3d4b88 158px,#2b768e 160px,#297a8e 161px,#3a548a 163px,#472a79 165px,#481c6d 168px,#481366 202px,#482172 230px,#46307d 235px,#3e4b89 237px,#20978b 240px,#21a585 241px,#21a287 242px,#2b768e 244px,#3f4888 246px,#453580 248px,#46317e 275px,#48186a 301px,#471365 405px,#481769 436px,#472d7b 452px,#472c7b 453px)"></i><i style="height:3.00px;background:linear-gradient(90deg,#1f9c89 5px,#29af80 6px,#28ae80 7px,#1f9b8a 8px,#31668e 10px,#3d4c8a 12px,#481f70 34px,#481d6f 56px,#482676 59px,#414285 61px,#2e6e8e 63px,#287c8e 64px,#2a788e 65px,#3b518a 67px,#472a79 69px,#481b6d 73px,#481568 137px,#481d6f 154px,#46307e 156px,#2e6d8e 158px,#287c8e 159px,#2c738e 160px,#443982 162px,#482777 163px,#481a6c 167px,#471264 200px,#481f71 231px,#472b7a 236px,#414286 238px,#218f8c 241px,#22a685 242px,#25aa82 243px,#219f88 244px,#39558b 247px,#443a83 249px,#453581 258px,#46327f 275px,#48196b 300px,#481e6f 363px,#471365 432px,#472d7c 452px,#472d7b 453px)"></i><i style="height:3.00px;background:linear-gradient(90deg,#20918c 5px,#23a983 6px,#2aaf7f 7px,#20a387 8px,#2e6d8e 10px,#3c4e8a 12px,#481e70 33px,#48196b 54px,#482273 61px,#433a82 63px,#31688d 65px,#2a778e 66px,#297a8e 67px,#39558b 69px,#472b7a 71px,#481b6d 74px,#481668 113px,#481b6d 152px,#482072 154px,#472c7a 155px,#31668e 157px,#297b8e 158px,#2a788e 159px,#433d84 161px,#482777 162px,#481a6c 165px,#471063 194px,#481d6e 231px,#46307d 238px,#3c4f8a 240px,#25868d 242px,#21a287 243px,#28ae80 244px,#27ac81 245px,#219989 246px,#3c4e8a 249px,#443b83 251px,#46317e 276px,#48196b 300px,#481d6f 357px,#482273 368px,#481567 390px,#481568 435px,#472e7c 452px,#472d7c 453px)"></i><i style="height:3.00px;background:linear-gradient(90deg,#24868e 5px,#1fa187 6px,#29af7f 7px,#23a983 8px,#20928c 9px,#345f8d 11px,#3e4b89 13px,#481b6d 35px,#48186a 57px,#481f70 63px,#45337e 65px,#2c738e 68px,#2a788e 69px,#2e6e8e 70px,#472d7b 73px,#481d6f 75px,#481568 103px,#481b6d 151px,#482877 154px,#433e84 155px,#2a788e 157px,#297b8e 158px,#31668e 159px,#472b7a 161px,#481c6d 163px,#470f62 188px,#481c6e 232px,#472e7c 239px,#404688 241px,#297b8e 243px,#209a89 244px,#29ae80 245px,#33b67a 246px,#26a982 247px,#22908b 248px,#365b8c 250px,#424186 252px,#443b84 264px,#482475 285px,#48176a 312px,#481e6f 356px,#472b7a 366px,#481669 381px,#481466 434px,#472e7c 452px,#472e7c 453px)"></i><i style="height:3.00px;background:linear-gradient(90deg,#297a8e 5px,#1f978b 6px,#25ab82 7px,#28ae80 8px,#1f9f88 9px,#306a8e 11px,#3c4f8a 13px,#481c6e 34px,#481567 57px,#482273 66px,#413f84 68px,#2f6c8e 70px,#2b768e 71px,#2d718e 72px,#462f7c 75px,#481d6f 77px,#481568 105px,#481c6e 151px,#482475 153px,#453781 154px,#2c748e 156px,#287c8e 157px,#2e6d8e 158px,#46307d 160px,#481c6e 162px,#470f62 185px,#481c6e 233px,#472c7b 240px,#424085 242px,#2e6f8e 244px,#228f8c 245px,#26aa82 246px,#3bbb75 247px,#34b679 248px,#24a385 249px,#25868d 250px,#39568c 252px,#414286 254px,#47307d 278px,#48196b 300px,#481d6f 355px,#47307d 366px,#481769 380px,#471265 433px,#472f7d 452px,#472e7c 453px)"></i><i style="height:3.00px;background:linear-gradient(90deg,#30688e 5px,#1f9d89 7px,#28ae80 8px,#27ad81 9px,#1f9c89 10px,#31678e 12px,#3d4e8a 14px,#481c6e 34px,#481366 58px,#481f70 68px,#443881 70px,#32668d 72px,#2b748e 73px,#2d718e 74px,#3f4787 76px,#482475 78px,#48186b 83px,#481a6c 148px,#482273 152px,#46317e 153px,#2e6e8e 155px,#287c8e 156px,#2c748e 157px,#453681 159px,#482374 160px,#481467 167px,#471264 212px,#481f71 236px,#46317e 242px,#3d4c89 244px,#26838d 246px,#23a286 247px,#3cbb75 248px,#44bf71 249px,#34b57a 250px,#229989 251px,#33628d 253px,#404788 255px,#482a79 282px,#48186a 304px,#481e6f 355px,#463380 366px,#48176a 380px,#471265 433px,#472f7d 452px,#472e7c 453px)"></i><i style="height:3.00px;background:linear-gradient(90deg,#365b8d 5px,#24878e 7px,#20a187 8px,#29af7f 9px,#26ac81 10px,#1f988a 11px,#32648d 13px,#3d4d8a 15px,#481c6e 34px,#471264 58px,#481c6e 70px,#46317d 72px,#34608d 74px,#2d708e 75px,#2c748e 76px,#3c4e89 78px,#482676 80px,#48196b 84px,#481a6c 148px,#482071 151px,#472c7a 152px,#31678e 154px,#287c8e 155px,#2a788e 156px,#433d84 158px,#482677 159px,#48196b 162px,#470e61 188px,#481c6e 235px,#46317e 243px,#404688 245px,#297a8e 247px,#209d88 248px,#3bba75 249px,#55c667 250px,#46bf6f 251px,#24a584 252px,#25848e 253px,#39558c 255px,#414487 258px,#472c7b 281px,#48186a 303px,#481c6e 354px,#453782 366px,#48186a 380px,#471264 433px,#472f7d 452px,#472e7c 453px)"></i><i style="height:3.00px;background:linear-gradient(90deg,#3a548b 5px,#2d718e 7px,#21a585 9px,#2ab07f 10px,#25aa83 11px,#20938c 12px,#34618d 14px,#3d4c8a 16px,#481b6d 35px,#471164 61px,#481b6d 72px,#472c7a 74px,#2e6e8e 77px,#2c748e 78px,#306a8e 79px,#472a79 82px,#481a6c 85px,#48186a 145px,#481e70 150px,#482777 151px,#433c84 152px,#2a798e 154px,#287c8e 155px,#31678e 156px,#472b7a 158px,#481b6d 160px,#470d60 183px,#481b6d 235px,#46327f 244px,#3f4788 246px,#287d8e 248px,#21a187 249px,#43be71 250px,#68cd5c 251px,#58c665 252px,#2aac80 253px,#238c8d 254px,#375a8c 256px,#3f4989 258px,#482374 287px,#48176a 316px,#481e70 355px,#443b83 366px,#48186a 380px,#471163 432px,#472f7d 452px,#472f7d 453px)"></i><i style="height:3.00px;background:linear-gradient(90deg,#3c4f8b 5px,#34618d 7px,#21908c 9px,#23a884 10px,#2bb07f 11px,#23a884 12px,#218f8c 13px,#355e8d 15px,#404788 18px,#481a6c 36px,#471063 63px,#481e70 75px,#433a82 77px,#306a8e 79px,#2b748e 80px,#2e6f8e 81px,#472d7b 84px,#481c6e 86px,#481568 124px,#481d6f 149px,#472e7c 151px,#2f6b8e 153px,#277e8e 154px,#2a778e 155px,#443882 157px,#482475 158px,#481669 163px,#470d60 193px,#481d6f 237px,#463480 245px,#3f4989 247px,#27808e 249px,#23a585 250px,#50c36a 251px,#7dd24f 252px,#6acc5a 253px,#33b47a 254px,#21938b 255px,#355e8d 257px,#3d4c8a 259px,#48196c 298px,#481c6e 354px,#433e85 366px,#48186b 380px,#471063 432px,#472f7d 452px,#472f7d 453px)"></i><i style="height:3.00px;background:linear-gradient(90deg,#3d4d8a 5px,#38578c 7px,#29798e 9px,#20958b 10px,#25ab82 11px,#2ab07f 12px,#21a486 13px,#2e6f8e 15px,#3c508b 17px,#481e70 33px,#470e61 57px,#48196b 76px,#482575 78px,#32658d 81px,#2b748e 82px,#2d718e 83px,#3f4787 85px,#482475 87px,#48196b 92px,#481a6c 146px,#482575 150px,#453781 151px,#2b758e 153px,#26818e 154px,#2c728e 155px,#46327f 157px,#482273 158px,#471163 168px,#481467 226px,#482475 241px,#433e85 247px,#33638d 249px,#25838e 250px,#26a983 251px,#5fc961 252px,#91d743 253px,#7cd24f 254px,#41bc72 255px,#219a89 256px,#29798e 257px,#39558c 259px,#404588 265px,#481a6c 297px,#481c6e 354px,#414286 366px,#48196b 380px,#470f62 431px,#472f7d 452px,#472f7c 453px)"></i><i style="height:3.00px;background:linear-gradient(90deg,#3e4b8a 5px,#38588c 8px,#287d8e 10px,#1f998a 11px,#27ad81 12px,#29af7f 13px,#20a187 14px,#2f6b8e 16px,#3d4e8a 18px,#481d6e 34px,#470e61 59px,#481b6d 79px,#46317d 81px,#34618d 83px,#2d718e 84px,#2b758e 85px,#3c4f89 87px,#482777 89px,#481a6c 93px,#481a6c 145px,#482071 149px,#472a79 150px,#424186 151px,#287d8e 153px,#26818e 154px,#2f6b8e 155px,#472e7c 157px,#481b6d 159px,#470d60 180px,#481b6d 236px,#453882 247px,#3c4e8a 249px,#24868d 251px,#29ac80 252px,#6ece58 253px,#a3db37 254px,#8ed644 255px,#53c468 256px,#23a186 257px,#277e8e 258px,#38588c 260px,#3f4788 265px,#481a6c 296px,#481c6e 354px,#404588 366px,#46337f 372px,#481a6c 380px,#470f62 431px,#472f7d 452px,#472e7c 453px)"></i><i style="height:3.00px;background:linear-gradient(90deg,#3e4a89 5px,#375a8c 9px,#26828e 11px,#1f9d89 12px,#28ae80 13px,#28ae80 14px,#1f9d89 15px,#31678e 17px,#3d4c8a 19px,#481d6f 34px,#470d60 59px,#481b6d 81px,#472c7a 83px,#2d708e 86px,#2b768e 87px,#2f6c8e 88px,#472b7a 91px,#481c6e 94px,#48186b 143px,#482374 149px,#46317e 150px,#2e6e8e 152px,#25838e 153px,#277f8e 154px,#414286 156px,#482a79 157px,#481b6d 159px,#470d60 180px,#481b6d 236px,#453580 247px,#414287 249px,#30688e 251px,#23898d 252px,#2fb17d 253px,#7dd24f 254px,#b4dd2c 255px,#a6db35 256px,#66ca5d 257px,#27a882 258px,#25848e 259px,#375a8c 261px,#3f4989 265px,#481b6d 295px,#481c6e 354px,#443983 362px,#3f4889 367px,#472d7c 374px,#48186a 382px,#470f62 432px,#472f7d 452px,#472e7c 453px)"></i><i style="height:3.00px;background:linear-gradient(90deg,#3f4889 5px,#3b528b 9px,#2f6c8e 11px,#20a087 13px,#29af80 14px,#27ad81 15px,#209a8a 16px,#31678e 18px,#3d4c8a 20px,#481d6f 34px,#470d60 58px,#48186a 82px,#472978 85px,#2f6c8e 88px,#2a768e 89px,#2d718e 90px,#472a79 94px,#481c6d 98px,#48196b 143px,#482071 148px,#482878 149px,#443b83 150px,#29798e 152px,#24868e 153px,#297b8e 154px,#443c84 156px,#482777 157px,#48186a 161px,#470c5f 186px,#481d6f 236px,#453782 248px,#404588 250px,#2f6b8e 252px,#238b8d 253px,#35b579 254px,#8ad547 255px,#c3e023 256px,#bcde27 257px,#72cf55 258px,#28ab81 259px,#24868e 260px,#306a8e 261px,#3b518b 263px,#481d6f 292px,#481b6d 353px,#46327f 361px,#3d4c8a 367px,#433d85 372px,#481c6e 380px,#470d60 428px,#482374 443px,#472e7c 453px)"></i><i style="height:3.00px;background:linear-gradient(90deg,#404688 5px,#3a528b 10px,#2f6b8e 12px,#209a89 14px,#26ab82 15px,#2bb17e 16px,#22a386 17px,#2d728e 19px,#3c4e8a 21px,#46317e 27px,#481466 41px,#471062 75px,#481e6f 86px,#44357f 88px,#2d718e 91px,#2a788e 92px,#2c728e 93px,#472c7a 97px,#481c6e 101px,#48186a 141px,#482374 148px,#472e7c 149px,#31678e 151px,#26828e 152px,#24888e 153px,#2b758e 154px,#453681 156px,#482575 157px,#481567 163px,#470d60 195px,#481e70 235px,#453681 248px,#3f4889 251px,#38588c 252px,#2c728e 253px,#20978b 254px,#4bc26c 255px,#a6db35 256px,#cde11d 257px,#addc31 258px,#54c567 259px,#209e88 260px,#297a8e 261px,#33638d 262px,#3c4f8b 264px,#481e6f 291px,#48196b 351px,#472b7a 360px,#3c4e8a 367px,#414387 372px,#481d6f 380px,#470d60 419px,#481769 438px,#472e7c 452px,#472d7c 453px)"></i><i style="height:3.00px;background:linear-gradient(90deg,#414387 5px,#38578c 12px,#2b768e 14px,#22a485 16px,#2cb17e 17px,#26ab82 18px,#20988a 19px,#3a538b 22px,#443a83 25px,#481769 38px,#470d60 70px,#481c6e 88px,#472978 90px,#33638d 93px,#2b758e 94px,#297b8e 95px,#32668d 97px,#462f7c 100px,#481e70 103px,#481669 137px,#482273 147px,#443a83 149px,#2a778e 151px,#228b8d 152px,#24878e 153px,#3d4e8a 155px,#46327f 156px,#481e6f 158px,#470d60 176px,#48186a 226px,#46327f 247px,#414387 251px,#33618d 253px,#27808e 254px,#25a983 255px,#72cf56 256px,#c0df24 257px,#cae11f 258px,#8dd645 259px,#35b679 260px,#218e8d 261px,#2d6f8e 262px,#3a538b 264px,#482374 286px,#48176a 314px,#481d6f 356px,#443b83 363px,#3b528b 368px,#414387 373px,#481f70 380px,#470f62 406px,#471265 435px,#472d7c 452px,#472d7b 453px)"></i><i style="height:3.00px;background:linear-gradient(90deg,#424186 5px,#3a538b 13px,#2f6c8e 15px,#209a89 17px,#28ae80 18px,#29af7f 19px,#22a486 20px,#2d708e 22px,#3e4a89 24px,#46317e 28px,#481466 41px,#470f62 77px,#481d6f 91px,#472c7a 93px,#32668d 96px,#277e8e 98px,#30698d 100px,#46317d 103px,#481f71 106px,#481769 136px,#482374 146px,#453882 148px,#2d718e 150px,#228c8d 151px,#20948c 152px,#25858e 153px,#3f4889 155px,#47307d 156px,#481e70 158px,#470d60 175px,#48176a 224px,#453782 249px,#3f4788 252px,#2f6d8e 254px,#21908c 255px,#3cba75 256px,#98d83e 257px,#cce11e 258px,#bade28 259px,#67cc5c 260px,#22a685 261px,#27808e 262px,#31668e 263px,#3c4f8b 265px,#482273 287px,#48176a 319px,#481e70 357px,#423f85 364px,#39568c 369px,#414287 374px,#481e6f 381px,#470e61 411px,#481366 436px,#472d7b 452px,#472c7b 453px)"></i><i style="height:3.00px;background:linear-gradient(90deg,#423f85 5px,#3c508b 14px,#33648d 16px,#228f8c 18px,#23a685 19px,#2aaf7f 20px,#27ac81 21px,#21968a 22px,#3c4f8a 25px,#463480 28px,#481467 41px,#470f62 78px,#481f71 94px,#462f7c 96px,#306a8d 99px,#26818e 101px,#2f6c8d 103px,#45337f 106px,#481f71 109px,#481769 135px,#482475 145px,#453681 147px,#2f6b8e 149px,#23898d 150px,#1f9b8a 151px,#1f978b 152px,#33628d 154px,#472e7c 156px,#481c6e 159px,#470d60 177px,#48196b 224px,#443983 250px,#3d4c8a 253px,#365d8d 254px,#29798e 255px,#20a087 256px,#5ec961 257px,#b5dd2b 258px,#cce11e 259px,#9dd93b 260px,#42be71 261px,#20958b 262px,#2c748e 263px,#3a528b 265px,#472a79 281px,#48186a 304px,#481e6f 357px,#453681 363px,#38588c 369px,#3c4f8a 373px,#482071 381px,#471163 401px,#471265 435px,#472c7b 452px,#472b7a 453px)"></i><i style="height:3.00px;background:linear-gradient(90deg,#433d84 5px,#3b528b 16px,#2f6c8e 18px,#209b89 20px,#27ac81 21px,#2ab07f 22px,#21a187 23px,#2e6e8e 25px,#404688 27px,#472c7a 31px,#471264 45px,#471264 84px,#482172 97px,#45327e 99px,#2e6e8e 102px,#25848e 104px,#277e8e 105px,#453681 108px,#482273 110px,#481769 132px,#482576 144px,#453681 146px,#32658e 148px,#1f9c89 150px,#20a486 151px,#1f978b 152px,#365c8d 154px,#472e7c 156px,#481b6d 160px,#470e60 180px,#48186a 223px,#472d7b 242px,#433f85 252px,#3b518b 254px,#31678e 255px,#24878e 256px,#2eb17d 257px,#83d44b 258px,#c5e021 259px,#bfdf25 260px,#77d053 261px,#28ad80 262px,#25868e 263px,#30698e 264px,#3c4e8a 266px,#482575 284px,#48176a 311px,#481d6f 357px,#46337f 363px,#375a8c 369px,#39558c 373px,#482273 381px,#471265 396px,#471164 434px,#472b7a 452px,#472b7a 453px)"></i><i style="height:3.00px;background:linear-gradient(90deg,#443c84 5px,#3c4e8a 17px,#33628d 19px,#228f8c 21px,#23a585 22px,#2bb07e 23px,#25aa83 24px,#21978a 25px,#3d4d8a 28px,#46307d 31px,#481466 44px,#471365 85px,#482575 100px,#433b83 102px,#2c748e 104px,#25858e 105px,#24888e 106px,#433e84 109px,#482575 111px,#48186a 129px,#482878 143px,#453781 145px,#34618d 147px,#1f9b89 149px,#26ab82 150px,#22a884 151px,#20948c 152px,#433e85 155px,#482676 157px,#471164 169px,#481769 221px,#472d7c 241px,#443982 251px,#3f4889 254px,#2e6e8e 256px,#21918c 257px,#3eba74 258px,#93d741 259px,#bedf26 260px,#a3da37 261px,#53c568 262px,#209e88 263px,#29798e 264px,#34618d 265px,#3e4b89 267px,#482474 285px,#48186a 315px,#481e70 358px,#453782 364px,#355f8d 370px,#39568c 374px,#482576 381px,#481467 393px,#471265 434px,#472b7a 452px,#472b7a 453px)"></i><i style="height:3.00px;background:linear-gradient(90deg,#443b83 5px,#3b508b 19px,#2f6c8e 21px,#209c89 23px,#27ad81 24px,#2ab07f 25px,#24a585 26px,#228d8c 27px,#3f4888 30px,#472e7c 33px,#481467 46px,#481668 89px,#482575 101px,#443b83 103px,#24868e 106px,#228c8d 107px,#34618d 109px,#46337f 111px,#482273 114px,#481c6e 133px,#46317e 143px,#3f4989 145px,#297b8e 147px,#1f998a 148px,#2aaf7f 149px,#31b57b 150px,#23a983 151px,#21908d 152px,#433d84 155px,#482777 157px,#481366 169px,#48186a 221px,#472d7b 241px,#443983 252px,#3e4a89 255px,#2c738e 257px,#20978a 258px,#47bf6f 259px,#95d840 260px,#acdc31 261px,#82d44c 262px,#35b778 263px,#218f8c 264px,#2e6f8e 265px,#3c4e8a 267px,#482878 282px,#48196b 308px,#481f70 358px,#453580 364px,#34608d 370px,#33628d 373px,#482979 381px,#48176a 390px,#481366 434px,#472b7a 452px,#472b7a 453px)"></i><i style="height:3.00px;background:linear-gradient(90deg,#443a83 5px,#3d4c8a 20px,#33638d 22px,#21918c 24px,#24a884 25px,#2fb47c 26px,#2eb27d 27px,#22a187 28px,#2f6d8e 30px,#404487 32px,#472c7b 35px,#481568 48px,#48196b 92px,#482777 102px,#443b83 104px,#24878e 107px,#21908c 108px,#2f6b8e 110px,#443a83 112px,#482878 114px,#481f70 130px,#46337f 141px,#38578c 144px,#229e87 147px,#31b37b 148px,#3fbc73 149px,#36b878 150px,#21a585 151px,#306a8e 153px,#433c84 155px,#482575 158px,#481467 174px,#481c6e 224px,#472b7a 243px,#433e85 254px,#3d4c8a 256px,#2a778e 258px,#219d88 259px,#4fc36a 260px,#91d742 261px,#96d83f 262px,#61ca60 263px,#24a884 264px,#26818e 265px,#32658e 266px,#3e4a89 268px,#482676 284px,#481a6c 315px,#482072 359px,#443a83 365px,#32668e 371px,#32648e 374px,#482978 382px,#48176a 392px,#481467 434px,#472b7a 453px)"></i><i style="height:3.00px;background:linear-gradient(90deg,#443a83 5px,#3f4989 21px,#365b8c 23px,#219f87 26px,#2eb27d 27px,#3bba76 28px,#2eb17d 29px,#229e87 30px,#3b528b 33px,#47307d 36px,#48186a 48px,#481c6e 93px,#482a79 103px,#433d84 105px,#24888d 108px,#20938c 109px,#238b8d 110px,#414386 113px,#472d7b 115px,#482374 129px,#453681 139px,#39578c 142px,#229b88 145px,#2eb17d 146px,#46bf6f 147px,#4bc26c 148px,#22a386 150px,#2f6c8e 152px,#414286 154px,#482979 157px,#48176a 172px,#481c6e 224px,#453580 252px,#414487 256px,#34608d 258px,#287c8e 259px,#22a286 260px,#55c567 261px,#88d548 262px,#7dd24f 263px,#42be71 264px,#1f988a 265px,#2b758e 266px,#365c8d 267px,#3f4788 269px,#482475 286px,#481b6d 330px,#482273 360px,#453781 365px,#2e6d8e 372px,#31688e 375px,#482878 383px,#48176a 395px,#481669 435px,#472b7a 453px)"></i><i style="height:3.00px;background:linear-gradient(90deg,#443a83 5px,#3d4c8a 23px,#32658d 25px,#21958b 27px,#29ad80 28px,#40bd72 29px,#41bd72 30px,#30b17c 31px,#229989 32px,#3c4f8a 35px,#472f7d 38px,#481a6c 50px,#482273 96px,#463480 105px,#3a548b 107px,#23898d 109px,#1f968b 110px,#20938c 111px,#3e4a89 114px,#46327f 116px,#472b7a 129px,#433c84 137px,#38588c 140px,#21978a 143px,#2daf7e 144px,#5ac864 146px,#53c568 147px,#33b67a 148px,#209f88 149px,#39558c 152px,#443983 154px,#482374 161px,#48176a 200px,#482979 246px,#433f85 256px,#3c508b 258px,#33638d 259px,#27808e 260px,#24a784 261px,#58c765 262px,#7bd251 263px,#63cb5f 264px,#2bb07e 265px,#238a8d 266px,#306a8e 267px,#3e4a89 269px,#482878 283px,#481c6e 314px,#482273 360px,#463480 365px,#2c728e 372px,#2c728e 375px,#46327e 382px,#481d6f 389px,#481668 433px,#472b7a 453px)"></i><i style="height:3.00px;background:linear-gradient(90deg,#443b84 5px,#3e4b89 24px,#355f8d 26px,#238b8d 28px,#24a584 29px,#3ebc73 30px,#50c46a 31px,#48c06e 32px,#2aad80 33px,#21908c 34px,#38588c 36px,#443a83 38px,#482475 45px,#481f70 77px,#472f7d 102px,#433d85 106px,#32648e 108px,#1f978b 110px,#1f9e89 111px,#20928c 112px,#3e4989 115px,#453882 117px,#453681 130px,#404587 135px,#32648d 138px,#239c87 141px,#31b07c 142px,#65cb5d 144px,#6acd5b 145px,#56c666 146px,#31b47b 147px,#209b89 148px,#39568c 151px,#453882 154px,#482273 167px,#481c6e 222px,#472f7d 251px,#404688 258px,#32668e 260px,#25858e 261px,#27ab81 262px,#58c765 263px,#6acd5b 264px,#49c16e 265px,#20a187 266px,#34618d 268px,#404788 270px,#482676 285px,#481d6f 329px,#482475 361px,#453882 366px,#297a8e 373px,#2b768e 376px,#47307d 383px,#481d6f 391px,#48196b 435px,#472b7a 453px)"></i><i style="height:3.00px;background:linear-gradient(90deg,#433d84 5px,#3d4c8a 25px,#34618d 27px,#20918c 29px,#29af7f 30px,#50c46a 31px,#61ca60 32px,#4ec36b 33px,#28ac81 34px,#228d8d 35px,#38588c 37px,#433e85 39px,#482878 47px,#482978 88px,#433d84 105px,#3c508b 107px,#1f988b 110px,#21a586 111px,#20a187 112px,#2c738e 114px,#3d4d8a 116px,#433e85 120px,#404688 131px,#33648d 135px,#229789 138px,#2aaa81 139px,#5ac764 141px,#69cc5c 142px,#67cc5c 143px,#3ab876 145px,#27a683 146px,#22918b 147px,#38588c 150px,#433e85 153px,#482777 167px,#481d6f 220px,#472d7c 251px,#3f4788 259px,#30698e 261px,#238a8d 262px,#2bae7f 263px,#56c666 264px,#5ec962 265px,#3cba75 266px,#21998a 267px,#355e8d 269px,#404688 271px,#482676 286px,#481e70 349px,#472b7a 364px,#404688 368px,#287e8e 373px,#26808e 376px,#433d85 382px,#482475 387px,#481769 418px,#482172 441px,#472b7a 453px)"></i><i style="height:3.00px;background:linear-gradient(90deg,#424086 5px,#3c4f8a 25px,#355f8d 27px,#23898e 29px,#21a685 30px,#47c06f 31px,#6cce59 32px,#70cf57 33px,#4ec36b 34px,#25a983 35px,#238a8d 36px,#375b8c 38px,#433e85 41px,#472d7b 54px,#443a83 98px,#3e4b8a 106px,#31688e 108px,#1f9a8a 110px,#25ac82 111px,#29ae80 112px,#20a287 113px,#355f8d 116px,#3d4c8a 119px,#3a538b 128px,#2c748e 133px,#22928b 135px,#26a484 136px,#61ca60 139px,#67cc5d 140px,#43bd71 142px,#2dae7e 143px,#229b88 144px,#365d8d 148px,#424086 153px,#482878 175px,#481f71 227px,#472e7c 252px,#3f4889 260px,#2f6c8e 262px,#228e8c 263px,#2fb27d 264px,#5bc863 265px,#66cc5d 266px,#41bd72 267px,#219c88 268px,#34608d 270px,#404588 272px,#482677 286px,#481f71 351px,#472a79 364px,#424186 368px,#24878e 374px,#238b8d 376px,#2f6d8e 379px,#443b83 383px,#482676 388px,#48196b 424px,#482777 445px,#472b7a 453px)"></i><i style="height:3.00px;background:linear-gradient(90deg,#404588 5px,#3a548b 25px,#34608d 27px,#25838e 29px,#1f9e88 30px,#3cbb75 31px,#6fce58 32px,#89d547 33px,#7ed24f 34px,#4fc36a 35px,#25a883 36px,#238a8d 37px,#355f8d 39px,#404788 42px,#453882 56px,#3f4788 99px,#39558c 106px,#2e6d8e 108px,#1e9c89 110px,#2cb17e 111px,#38b977 112px,#2fb37c 113px,#20a087 114px,#2c738e 116px,#355f8d 118px,#33648d 125px,#248c8c 130px,#30ae7d 133px,#62cb5f 137px,#5cc863 138px,#24a385 141px,#27808e 143px,#39568c 147px,#443c84 158px,#482172 204px,#482979 249px,#414286 260px,#38588c 262px,#2d6f8e 263px,#21918c 264px,#34b57a 265px,#64cb5e 266px,#6ece58 267px,#48c06e 268px,#229f87 269px,#33628d 271px,#404688 273px,#482777 286px,#482072 349px,#472d7b 365px,#3f4788 369px,#238a8d 374px,#20948c 376px,#24878e 378px,#414387 383px,#472d7b 387px,#481d6f 411px,#482273 440px,#472b7a 453px)"></i><i style="height:3.00px;background:linear-gradient(90deg,#3e4b89 5px,#355e8d 26px,#2d708e 28px,#1e9b8a 30px,#35b779 31px,#6dce59 32px,#99d93e 33px,#9bd93c 34px,#74d055 35px,#3cbb75 36px,#1f9f88 37px,#2d6f8e 39px,#3a548b 42px,#404688 57px,#39568c 96px,#306a8e 107px,#24868e 109px,#1f9f88 110px,#31b57b 111px,#49c16e 112px,#4bc26c 113px,#2cab80 115px,#23908b 117px,#287e8e 119px,#239b88 126px,#3bb875 129px,#5bc863 132px,#56c666 134px,#28a683 138px,#24888d 140px,#355e8d 144px,#414487 155px,#482475 202px,#482878 248px,#414387 261px,#375b8c 263px,#2c738e 264px,#20958b 265px,#3ab976 266px,#6dce59 267px,#78d152 268px,#50c369 269px,#24a385 270px,#32658d 272px,#3f4788 274px,#482979 286px,#482172 337px,#472a79 363px,#443b84 368px,#2f6b8e 372px,#1f968b 375px,#1f9e89 377px,#297b8e 380px,#414387 384px,#472f7d 389px,#481e70 426px,#472c7b 453px)"></i><i style="height:3.00px;background:linear-gradient(90deg,#3a538b 5px,#31678e 26px,#2a778e 28px,#1f9d89 30px,#36b878 31px,#6ece58 32px,#a0da39 33px,#aedc30 34px,#90d743 35px,#2aaf7f 37px,#20958b 38px,#2d718e 40px,#33628d 44px,#365b8c 63px,#2d718e 91px,#249c87 109px,#28ac81 111px,#5ec962 114px,#67cc5d 115px,#62ca5f 116px,#3fba73 118px,#5ac864 128px,#32b27b 132px,#22938b 135px,#32658e 141px,#3d4c8a 152px,#482878 202px,#472b7a 249px,#404688 262px,#355f8d 264px,#2a778e 265px,#209a89 266px,#43be71 267px,#7ad151 268px,#85d44a 269px,#5cc863 270px,#27a982 271px,#25858d 272px,#38578c 274px,#424186 277px,#482777 292px,#482978 358px,#433d85 368px,#38598c 371px,#1f9c89 375px,#2bb07e 377px,#22a486 379px,#26818e 381px,#3b528b 384px,#423f85 387px,#482878 410px,#482777 440px,#472f7d 453px)"></i><i style="height:3.00px;background:linear-gradient(90deg,#365c8d 5px,#2b748e 26px,#228c8d 29px,#1fa088 30px,#38b977 31px,#a4db36 33px,#bbde27 34px,#a9dc33 35px,#40bd72 37px,#21a585 38px,#23928b 40px,#287d8e 57px,#229d88 89px,#39b976 104px,#64cb5e 116px,#72cf56 117px,#54c567 122px,#28a882 128px,#238b8c 131px,#31678e 137px,#404788 160px,#482a79 211px,#472f7d 252px,#3f4889 263px,#33638d 265px,#219f87 267px,#4dc26b 268px,#87d549 269px,#9bd93c 270px,#79d051 271px,#3fb974 272px,#249a88 273px,#31678d 275px,#3f4788 278px,#472b7a 292px,#472b7a 354px,#424186 367px,#38588c 371px,#23898d 374px,#1f9e88 375px,#42be71 377px,#4ec36b 378px,#44be71 379px,#209c89 381px,#2b758e 383px,#34618d 387px,#443a83 406px,#472a7a 435px,#46337f 453px)"></i><i style="height:3.00px;background:linear-gradient(90deg,#32658e 5px,#297a8e 20px,#249c87 26px,#39b477 29px,#5bc663 31px,#7ad150 32px,#a4db36 33px,#bedf26 34px,#b7de2a 35px,#7ed14e 37px,#3bb975 48px,#27aa82 56px,#28a782 111px,#26a085 119px,#2b768e 129px,#355e8d 138px,#46317e 196px,#472f7d 249px,#404688 263px,#3a548b 265px,#287c8e 267px,#219d88 268px,#48c06e 269px,#8cd646 270px,#bddf26 271px,#b1dc2f 272px,#7bd050 273px,#3db775 274px,#239889 275px,#31688e 277px,#3e4a89 280px,#472f7d 294px,#472d7b 348px,#424086 362px,#2c728e 370px,#269b87 374px,#2ba980 375px,#3dba74 376px,#7ad151 378px,#87d449 379px,#60c55f 381px,#36ab7b 387px,#268b8b 395px,#433d84 424px,#463480 441px,#453882 453px)"></i><i style="height:3.00px;background:linear-gradient(90deg,#2d708e 5px,#249a88 18px,#33b07b 21px,#88d448 27px,#a3da37 30px,#9fd939 33px,#46be6f 47px,#28ac81 56px,#238b8d 91px,#2e6e8e 123px,#424186 170px,#472e7c 227px,#453882 257px,#3d4d8a 265px,#32648d 267px,#21998a 269px,#40bc72 270px,#8ad547 271px,#d1e11d 272px,#dde31c 273px,#bfde29 274px,#79cf51 275px,#3ab577 276px,#239789 277px,#2e708e 279px,#3c4f8a 283px,#453581 295px,#472f7c 339px,#424186 357px,#365c8c 362px,#258c8b 366px,#37ac7b 368px,#70c955 371px,#bddd34 374px,#e2e327 376px,#fde725 379px,#f0e521 383px,#cae021 386px,#55c567 395px,#2bad7f 405px,#238d8c 417px,#3e4988 438px,#433e85 453px)"></i><i style="height:3.00px;background:linear-gradient(90deg,#249988 5px,#43bb71 12px,#7cd250 22px,#69cb5a 26px,#2da980 33px,#249b88 38px,#2c748e 85px,#3a548c 141px,#46327f 209px,#453681 255px,#3d4e8a 266px,#33648d 268px,#21958b 270px,#38b777 271px,#84d34a 272px,#d7e21d 273px,#fae723 274px,#f2e620 275px,#a2d73c 277px,#4ab96e 279px,#31a67f 280px,#269389 281px,#355f8d 285px,#414487 292px,#46327f 318px,#443b84 348px,#3d4d8a 355px,#2e6f8e 359px,#289a86 362px,#33aa7d 363px,#49ba6e 364px,#b6dc31 367px,#eee522 369px,#fde724 371px,#ede523 375px,#bfdd32 379px,#51bf69 389px,#2ea880 395px,#219989 416px,#1f9a8a 428px,#2b768e 441px,#3b518a 453px)"></i><i style="height:3.00px;background:linear-gradient(90deg,#59c765 5px,#5fc961 10px,#34af7b 20px,#23908b 26px,#2b758e 36px,#3a538b 136px,#463480 212px,#443983 257px,#3d4e8a 267px,#33628d 269px,#238b8c 271px,#2ca681 272px,#50bd6a 273px,#b3db35 275px,#dbe226 276px,#f4e621 277px,#fbe723 278px,#ede522 279px,#d3e129 280px,#7bcd4f 282px,#51bd69 283px,#35ab7c 284px,#26908a 286px,#365c8c 292px,#414487 300px,#453781 329px,#404688 347px,#33638d 353px,#269788 357px,#43b772 359px,#a2d938 362px,#d2e11e 364px,#dce31f 366px,#c0de2f 368px,#77cb51 371px,#37ac7b 376px,#25918a 380px,#33638d 397px,#34608d 416px,#1f9e89 442px,#238d8c 451px,#25858d 453px)"></i><i style="height:3.00px;background:linear-gradient(90deg,#2aa283 5px,#277f8e 16px,#32658e 33px,#3c4e8a 134px,#463480 219px,#433c84 261px,#3c4f8a 269px,#2b758e 273px,#279987 275px,#37ae7a 276px,#59c164 277px,#badd33 279px,#dee325 280px,#f5e621 281px,#fce724 282px,#dee326 284px,#acda38 286px,#55be66 289px,#32a67f 291px,#27828d 294px,#32668d 298px,#414387 311px,#433e85 333px,#3d4d8a 342px,#297b8d 349px,#289a86 352px,#3ab377 354px,#89d447 357px,#addc31 359px,#afdc2f 360px,#99d73d 362px,#42b573 366px,#2a9d84 368px,#2b778e 372px,#39558b 383px,#424186 406px,#3f4888 426px,#34618d 437px,#209b89 451px,#209f88 453px)"></i><i style="height:3.00px;background:linear-gradient(90deg,#31688e 5px,#39578c 53px,#414387 149px,#463480 241px,#414286 267px,#37598c 274px,#297a8e 277px,#299d85 279px,#3bb177 280px,#7ccd4e 282px,#c9df2d 285px,#e8e423 287px,#eae51d 289px,#cfe126 291px,#64c65d 295px,#36ab7b 299px,#26898b 304px,#37598c 314px,#404688 326px,#34608d 338px,#25918a 344px,#34af7b 347px,#72cf56 352px,#80d24d 355px,#43b672 359px,#269488 362px,#355f8d 368px,#3e4a89 376px,#443982 413px,#414487 439px,#2f6c8d 453px)"></i><i style="height:3.00px;background:linear-gradient(90deg,#3a538b 5px,#443a83 167px,#453882 258px,#3e4c8a 275px,#2c748e 281px,#279189 284px,#42b374 287px,#afdb33 292px,#cde122 294px,#afdd2f 298px,#48be6e 307px,#2da980 311px,#25878c 318px,#2f6c8d 325px,#259f86 338px,#42be71 344px,#43bc71 348px,#279288 355px,#37598c 362px,#414287 372px,#453681 421px,#404688 453px)"></i><i style="height:3.00px;background:linear-gradient(90deg,#3e4a89 5px,#453681 249px,#404688 277px,#33638d 286px,#279588 292px,#35a87d 294px,#35b07b 308px,#21a486 322px,#20a386 328px,#26a384 340px,#2d708e 349px,#3f4888 360px,#453681 391px,#443b84 444px,#433e85 453px)"></i><i style="height:3.00px;background:linear-gradient(90deg,#414387 5px,#453681 256px,#3f4889 286px,#34618d 297px,#2a788d 320px,#2a798d 327px,#38578c 343px,#424086 357px,#46337f 406px,#443a83 453px)"></i><i style="height:3.00px;background:linear-gradient(90deg,#443b83 5px,#463580 265px,#3f4788 327px,#46317e 390px,#453581 453px)"></i><i style="height:3.00px;background:linear-gradient(90deg,#453580 5px,#46327f 278px,#463480 348px,#46317e 447px,#46317e 453px)"></i><i style="height:3.00px;background:linear-gradient(90deg,#47307d 5px,#46307d 299px,#472e7c 453px)"></i><i style="height:3.00px;background:linear-gradient(90deg,#472c7b 5px,#472a79 453px)"></i><i style="height:3.00px;background:linear-gradient(90deg,#482777 5px,#482676 453px)"></i><i style="height:3.00px;background:linear-gradient(90deg,#482374 5px,#482273 453px)"></i><i style="height:3.00px;background:linear-gradient(90deg,#481f70 5px,#481e70 453px)"></i><i style="height:3.00px;background:linear-gradient(90deg,#481a6c 5px,#481a6c 453px)"></i><i style="height:3.00px;background:linear-gradient(90deg,#481668 5px,#481668 453px)"></i><i style="height:3.00px;background:linear-gradient(90deg,#481366 5px,#481366 453px)"></i><i style="height:3.00px;background:linear-gradient(90deg,#471264 5px,#471164 453px)"></i><i style="height:3.00px;background:linear-gradient(90deg,#471062 5px,#470f62 453px)"></i><i style="height:3.00px;background:linear-gradient(90deg,#470e60 5px,#470d60 453px)"></i><i style="height:3.00px;background:linear-gradient(90deg,#460c5f 5px,#460b5f 453px)"></i><i style="height:3.00px;background:linear-gradient(90deg,#46095d 5px,#46095d 453px)"></i><i style="height:3.00px;background:linear-gradient(90deg,#46075b 5px,#46075b 453px)"></i><i style="height:7.00px;background:linear-gradient(90deg,#450659 5px,#450659 453px)"></i></div></div><div class="mp" style="left:40.8px;top:391.0px;width:449.2px;height:224.7px"><div class="mq" style="left:-4px;top:-4px;width:457.2px;filter:blur(0.9px)"><i style="height:7.00px;background:linear-gradient(90deg,#450356 5px,#450356 453px)"></i><i style="height:3.00px;background:linear-gradient(90deg,#46075a 5px,#46075a 453px)"></i><i style="height:3.00px;background:linear-gradient(90deg,#460b5e 5px,#460b5e 453px)"></i><i style="height:3.00px;background:linear-gradient(90deg,#470f62 5px,#470f62 453px)"></i><i style="height:3.00px;background:linear-gradient(90deg,#471365 5px,#471365 453px)"></i><i style="height:3.00px;background:linear-gradient(90deg,#481669 5px,#481669 453px)"></i><i style="height:3.00px;background:linear-gradient(90deg,#481a6c 5px,#481a6c 453px)"></i><i style="height:3.00px;background:linear-gradient(90deg,#482071 5px,#482071 453px)"></i><i style="height:3.00px;background:linear-gradient(90deg,#482676 5px,#482676 453px)"></i><i style="height:3.00px;background:linear-gradient(90deg,#472b7a 5px,#472b7a 453px)"></i><i style="height:3.00px;background:linear-gradient(90deg,#46317e 5px,#46317e 453px)"></i><i style="height:3.00px;background:linear-gradient(90deg,#453781 5px,#453781 453px)"></i><i style="height:3.00px;background:linear-gradient(90deg,#433c84 5px,#433c84 453px)"></i><i style="height:3.00px;background:linear-gradient(90deg,#414286 5px,#414286 453px)"></i><i style="height:3.00px;background:linear-gradient(90deg,#3f4889 5px,#3f4889 453px)"></i><i style="height:3.00px;background:linear-gradient(90deg,#3d4e8a 5px,#3d4e8a 453px)"></i><i style="height:3.00px;background:linear-gradient(90deg,#3a548b 5px,#3a548b 453px)"></i><i style="height:3.00px;background:linear-gradient(90deg,#37598c 5px,#37598c 453px)"></i><i style="height:3.00px;background:linear-gradient(90deg,#355f8d 5px,#355f8d 453px)"></i><i style="height:3.00px;background:linear-gradient(90deg,#32648e 5px,#32648e 453px)"></i><i style="height:3.00px;background:linear-gradient(90deg,#30698e 5px,#30698e 453px)"></i><i style="height:3.00px;background:linear-gradient(90deg,#2e6e8e 5px,#2e6e8e 453px)"></i><i style="height:3.00px;background:linear-gradient(90deg,#2c738e 5px,#2c738e 453px)"></i><i style="height:3.00px;background:linear-gradient(90deg,#2a788e 5px,#2a788e 453px)"></i><i style="height:3.00px;background:linear-gradient(90deg,#287d8e 5px,#277e8e 402px,#23898d 419px,#287d8e 438px,#287d8e 453px)"></i><i style="height:3.00px;background:linear-gradient(90deg,#26838e 5px,#26818e 376px,#24878e 398px,#24a883 411px,#23a585 423px,#26828e 436px,#26818e 453px)"></i><i style="height:3.00px;background:linear-gradient(90deg,#23898e 5px,#24868e 390px,#24a983 400px,#24a884 407px,#23a086 416px,#34b679 427px,#209a89 434px,#24878e 440px,#24868e 453px)"></i><i style="height:3.00px;background:linear-gradient(90deg,#21908d 5px,#228c8d 323px,#228c8d 334px,#25858e 346px,#228d8d 360px,#238a8d 375px,#21918c 389px,#2aaf7f 396px,#21a187 401px,#2d718e 410px,#2e6e8e 417px,#238d8c 424px,#2aac80 428px,#41be72 432px,#24a684 437px,#228e8d 442px,#228c8d 453px)"></i><i style="height:3.00px;background:linear-gradient(90deg,#1f988b 5px,#218f8d 231px,#21918c 317px,#1f968b 325px,#306a8e 340px,#2c738e 350px,#1f978b 362px,#228d8d 375px,#1f968b 386px,#29ae80 390px,#33b67a 393px,#23a684 396px,#287e8e 400px,#39568c 406px,#3f4989 415px,#38598c 423px,#287c8e 428px,#239e87 431px,#47c06f 435px,#49c16e 437px,#23a685 441px,#21918c 446px,#20918c 453px)"></i><i style="height:3.00px;background:linear-gradient(90deg,#20a387 5px,#1f958b 143px,#1f968b 313px,#1fa088 319px,#287d8e 326px,#39578c 335px,#3b518b 347px,#2f6b8e 356px,#1f9b8a 365px,#1f958b 372px,#1f958b 382px,#25aa82 386px,#3fbc73 389px,#39b976 391px,#209b89 394px,#33628d 399px,#3f4788 405px,#424086 419px,#3a528b 427px,#297b8e 432px,#24a585 435px,#4fc46a 438px,#56c666 439px,#48c06e 441px,#23a784 444px,#1f968b 448px,#1f978b 453px)"></i><i style="height:3.00px;background:linear-gradient(90deg,#2aaf7f 5px,#27ad81 39px,#1f9e89 108px,#1f9a8a 309px,#23a983 315px,#20958b 319px,#365c8d 327px,#404688 337px,#3e4a89 352px,#32658e 360px,#1f9f88 368px,#20a386 372px,#20938c 379px,#22a784 383px,#4dc36c 387px,#3fbc73 389px,#22a485 391px,#2a788e 394px,#39558c 398px,#424086 407px,#414487 425px,#365d8d 432px,#238b8d 436px,#219c89 437px,#29ad80 438px,#60ca61 441px,#61ca60 442px,#27ac81 446px,#1f9b8a 450px,#1f9c89 453px)"></i><i style="height:3.00px;background:linear-gradient(90deg,#40bd72 5px,#48c06e 29px,#2fb37c 59px,#30b47b 71px,#24a983 101px,#2cb17e 128px,#1f9f88 170px,#1f9e89 306px,#2cb17e 312px,#20a386 315px,#33628d 322px,#3f4889 330px,#414286 349px,#38588c 361px,#26818e 367px,#21a586 371px,#25ab82 374px,#1f968b 379px,#20a486 381px,#37b877 383px,#56c666 385px,#56c666 386px,#35b679 388px,#23a784 389px,#25858e 391px,#375a8c 395px,#414487 403px,#414487 426px,#365c8d 434px,#297a8e 437px,#209c89 439px,#2aae7f 440px,#5dc962 442px,#6cce59 443px,#6dce59 444px,#29ae80 448px,#1fa187 452px,#1fa287 453px)"></i><i style="height:3.00px;background:linear-gradient(90deg,#5bc864 5px,#6ece58 25px,#5bc864 42px,#33b67a 57px,#45bf70 78px,#35b779 97px,#54c568 126px,#24a983 159px,#1fa088 304px,#34b779 310px,#20a287 313px,#33628d 319px,#404688 327px,#433e85 349px,#3b528b 363px,#2d708e 368px,#21a586 373px,#26ad81 376px,#1f9b8a 379px,#27ad81 381px,#4cc26c 383px,#56c667 384px,#50c46a 385px,#29ad80 387px,#209c89 388px,#2e6d8e 391px,#3b518b 395px,#424086 407px,#3f4788 430px,#365c8d 436px,#287d8e 439px,#21a286 441px,#33b57a 442px,#6acd5a 444px,#74d055 445px,#6cce59 446px,#2fb47c 449px,#21a586 452px,#20a586 453px)"></i><i style="height:3.00px;background:linear-gradient(90deg,#76d054 5px,#95d840 23px,#87d549 39px,#62ca60 46px,#2cb17e 54px,#22a187 64px,#32b47b 73px,#53c568 82px,#51c469 99px,#6cce59 135px,#5bc864 147px,#2fb37c 163px,#28ae80 179px,#26ac82 203px,#1fa188 279px,#1fa188 302px,#2ab07f 305px,#3dbb74 308px,#21a486 311px,#31668e 316px,#3e4a89 322px,#443c84 339px,#404688 361px,#355d8d 368px,#218f8c 373px,#25ab82 376px,#1fa187 379px,#21a685 380px,#42be71 382px,#4cc26c 383px,#47c06f 384px,#23a784 386px,#26828e 388px,#355e8d 391px,#404688 398px,#414387 428px,#3a548b 436px,#306a8e 439px,#1f9c89 442px,#2cb07e 443px,#6acd5b 445px,#77d153 446px,#71cf56 447px,#33b67a 450px,#23a983 452px,#22a784 453px)"></i><i style="height:3.00px;background:linear-gradient(90deg,#8bd646 5px,#b9de29 21px,#a0da39 39px,#7bd250 44px,#2ab07f 51px,#1f9a8a 55px,#29798e 65px,#22908c 74px,#2bad7f 80px,#4ac16d 88px,#51c469 126px,#7ad151 146px,#68cc5c 156px,#3ebc74 171px,#41bd72 197px,#26ac81 222px,#20a387 301px,#33b679 304px,#45bf70 306px,#35b779 308px,#1f9d89 310px,#31678e 314px,#3e4a89 320px,#443b84 337px,#414387 362px,#355e8d 370px,#1f9c89 376px,#22a784 378px,#23a983 380px,#40bd72 382px,#3ebc74 383px,#21a486 385px,#32658e 389px,#3d4c8a 394px,#424186 411px,#3f4889 433px,#34608d 439px,#24888e 442px,#1f9d89 443px,#2eb27d 444px,#6ece58 446px,#7cd250 447px,#74d055 448px,#33b67a 451px,#25ab82 453px)"></i><i style="height:3.00px;background:linear-gradient(90deg,#95d840 5px,#bddf26 14px,#dfe31a 20px,#d4e21b 25px,#b0dd2f 34px,#94d841 41px,#63cb5f 45px,#29af80 49px,#1f978b 52px,#31678e 61px,#375b8c 68px,#2d718e 77px,#22a186 85px,#34b679 92px,#31b57b 127px,#58c765 144px,#7cd250 154px,#76d054 164px,#65cb5e 172px,#58c765 199px,#37b877 224px,#23a983 266px,#1fa287 299px,#2eb37d 302px,#49c16e 304px,#4ec36b 305px,#48c16e 306px,#25aa82 308px,#1f998a 309px,#2e6d8e 312px,#3c4e8a 317px,#433d84 330px,#414387 363px,#375a8c 371px,#287c8e 375px,#1f9e89 378px,#24aa83 380px,#36b878 382px,#21a585 384px,#26818e 386px,#365c8d 389px,#404788 396px,#404688 432px,#375a8d 439px,#287c8e 442px,#21a585 444px,#3bba76 445px,#60ca61 446px,#79d152 447px,#7dd24f 448px,#55c667 450px,#2fb47c 452px,#28ae80 453px)"></i><i style="height:3.00px;background:linear-gradient(90deg,#8fd744 5px,#abdc32 11px,#dfe318 16px,#fae722 19px,#f5e61f 23px,#d8e219 26px,#abdc32 31px,#7ed24f 41px,#4dc36b 45px,#25aa82 48px,#218e8d 51px,#34618d 58px,#3e4a89 68px,#39558c 78px,#238b8d 87px,#23a884 93px,#27ad81 134px,#3bba75 146px,#7bd250 162px,#7ed34e 172px,#34b779 234px,#21a585 249px,#24aa83 280px,#21a685 299px,#30b47b 301px,#50c46a 303px,#58c765 304px,#52c569 305px,#28ad80 307px,#1f9b89 308px,#2f6d8e 311px,#3d4e8a 316px,#433d85 329px,#414487 365px,#365d8d 373px,#1f9b8a 379px,#2eb37d 381px,#2fb37c 382px,#1f9b8a 384px,#306a8e 387px,#3c508b 391px,#414387 406px,#3f4989 434px,#345f8d 440px,#24888e 443px,#1f9d89 444px,#2fb37c 445px,#76d153 447px,#83d44b 448px,#79d151 449px,#35b779 452px,#2bb17e 453px)"></i><i style="height:3.00px;background:linear-gradient(90deg,#7cd24f 5px,#96d83f 11px,#dee31a 17px,#f2e61f 20px,#e8e41c 23px,#c2df24 26px,#8cd646 31px,#5ac864 42px,#26ac82 47px,#218f8d 50px,#365b8d 57px,#404688 67px,#3e4989 80px,#2e6d8e 87px,#1f9d89 94px,#21a585 104px,#1f9d89 127px,#2db27d 149px,#72cf56 170px,#36b678 206px,#32b57b 227px,#1f998a 241px,#228e8c 254px,#26ac81 274px,#23a983 291px,#21a685 298px,#2db27d 300px,#5fca61 303px,#5fca61 304px,#32b57b 306px,#20a287 307px,#2d708e 310px,#3b528b 314px,#433e85 325px,#414387 365px,#365c8d 374px,#24878e 378px,#22a785 380px,#29af7f 382px,#1f968b 384px,#31668e 387px,#3c4f8a 391px,#414387 408px,#3e4b89 435px,#355f8d 440px,#24868e 443px,#1e9b8a 444px,#2bb17e 445px,#72cf56 447px,#82d34c 448px,#7ad251 449px,#37b878 452px,#2cb17e 453px)"></i><i style="height:3.00px;background:linear-gradient(90deg,#5fc961 5px,#75d054 12px,#abdb32 19px,#a9db33 22px,#63cb5f 31px,#37b878 44px,#1fa088 48px,#365c8d 56px,#414487 64px,#414286 82px,#365c8d 88px,#1f9b8a 97px,#1f9f88 106px,#25858e 123px,#22a884 146px,#37b878 163px,#48c06e 170px,#29ac80 190px,#248a8c 203px,#25878d 215px,#20988a 230px,#2c728e 250px,#287c8e 264px,#22a685 277px,#2eb37c 287px,#22a785 298px,#33b679 300px,#5bc863 302px,#65cc5d 303px,#5dc962 304px,#28ae80 306px,#1f9a8a 307px,#30688e 310px,#3e4a89 315px,#443b84 328px,#424186 366px,#365d8d 375px,#27808e 378px,#1fa188 380px,#26ac81 382px,#1f968b 384px,#32668e 387px,#3d4d8a 391px,#424186 408px,#3f4788 434px,#355e8d 440px,#24878e 443px,#1f9d89 444px,#2eb37d 445px,#70cf57 447px,#7ad251 448px,#6fce58 449px,#31b57b 452px,#28ae80 453px)"></i><i style="height:3.00px;background:linear-gradient(90deg,#44bf70 5px,#60c960 21px,#39b977 37px,#22a884 47px,#238a8d 51px,#3d4e8a 59px,#433d84 68px,#424086 85px,#355f8d 91px,#1f978b 99px,#1f9a8a 105px,#2b748e 119px,#287c8e 130px,#20a386 143px,#27ad81 176px,#209c89 186px,#33628d 200px,#38598c 213px,#2b758e 235px,#38598c 253px,#32668e 267px,#21a286 281px,#36b878 289px,#28ae80 296px,#22a884 298px,#37b878 300px,#61ca60 302px,#69cd5b 303px,#5dc962 304px,#25ab82 306px,#1f968b 307px,#32658e 310px,#3f4788 315px,#443882 328px,#433e85 366px,#375a8c 375px,#228b8d 379px,#21a585 381px,#21a685 383px,#228c8d 385px,#345f8d 388px,#3e4a89 392px,#433e85 409px,#404688 434px,#38598c 439px,#287b8e 442px,#20a486 444px,#56c666 446px,#6ccd5a 447px,#6dce59 448px,#34b779 451px,#24aa83 453px)"></i><i style="height:3.00px;background:linear-gradient(90deg,#30b47b 5px,#34b679 26px,#20a486 48px,#287d8e 54px,#3e4a89 61px,#443983 70px,#433c84 86px,#38598c 92px,#20928c 100px,#20928c 105px,#2e6d8e 116px,#2d708e 130px,#20a287 144px,#1f9f88 179px,#287d8e 187px,#3b528b 196px,#404688 211px,#3d4c89 230px,#38588c 239px,#404788 257px,#39578c 270px,#228e8c 282px,#25aa82 287px,#3bbb75 293px,#2cb17e 298px,#27ad81 299px,#4ac16d 301px,#61ca60 302px,#6ccd5a 303px,#62ca60 304px,#27ae80 306px,#1f988b 307px,#32648e 310px,#404588 315px,#453681 327px,#443c84 366px,#3a548b 374px,#2d718e 377px,#1f9c89 380px,#26ac82 383px,#1f998a 385px,#355f8d 389px,#3f4788 394px,#433c84 412px,#414487 433px,#355d8d 439px,#24888e 442px,#1f9c89 443px,#2ab07f 444px,#5fca61 446px,#66cc5d 447px,#47c06f 449px,#28ae80 451px,#21a585 453px)"></i><i style="height:3.00px;background:linear-gradient(90deg,#25ab82 5px,#20a586 46px,#20948c 53px,#3f4788 64px,#453681 73px,#443c84 87px,#355f8d 94px,#228d8d 101px,#24878e 106px,#30698e 115px,#2f6c8e 131px,#1fa187 144px,#1fa088 164px,#1f978b 179px,#3e4b8a 194px,#424186 210px,#472e7c 230px,#404688 241px,#433c84 262px,#3b528b 275px,#21928c 287px,#29ae80 292px,#35b779 297px,#27ae80 299px,#2cb17e 300px,#69cd5c 303px,#67cc5d 304px,#31b47b 306px,#1fa088 307px,#30688e 310px,#3f4989 314px,#453580 324px,#443982 365px,#3b518b 373px,#2f6c8e 376px,#1f998a 379px,#24a983 381px,#29af7f 384px,#1f9d89 386px,#33638d 390px,#404788 395px,#443a83 411px,#414287 432px,#39558c 437px,#2b768e 440px,#1f9b8a 442px,#28ad80 443px,#55c667 445px,#5bc863 446px,#42be71 448px,#26ac81 450px,#1fa188 453px)"></i><i style="height:3.00px;background:linear-gradient(90deg,#20a386 5px,#1e9c89 52px,#25858e 58px,#404688 68px,#453581 78px,#423f85 88px,#2f6b8e 96px,#238b8d 102px,#287c8e 108px,#32658e 116px,#2f6a8e 131px,#1fa187 144px,#1fa188 160px,#20918c 180px,#3f4989 194px,#433d85 212px,#482677 224px,#482172 231px,#443b83 241px,#453681 267px,#3c4f8a 279px,#1f9d89 293px,#24a983 297px,#20a387 299px,#23a983 300px,#48c16e 302px,#5fca61 303px,#69cd5b 304px,#60ca61 305px,#28ad80 307px,#1f988a 308px,#33638d 311px,#404688 315px,#46327f 326px,#453681 364px,#3c4f8a 372px,#306a8e 375px,#1f9a8a 378px,#2ab07f 380px,#23a884 383px,#30b47c 385px,#23a685 387px,#24888d 389px,#38578c 393px,#423f85 400px,#443a83 424px,#3d4c8a 434px,#2e6e8e 438px,#20a088 441px,#41bd72 443px,#4fc46a 444px,#52c569 445px,#22a784 449px,#1f9d89 453px)"></i><i style="height:3.00px;background:linear-gradient(90deg,#1f9d89 5px,#1f968b 57px,#2d718e 65px,#404688 74px,#423f85 84px,#38578c 92px,#238a8d 102px,#277f8e 108px,#32658e 117px,#306a8e 130px,#1fa187 144px,#1f9e89 161px,#21918c 181px,#3e4b89 196px,#472f7d 221px,#482273 229px,#453581 241px,#46327f 270px,#3f4989 281px,#20938c 296px,#1f968b 299px,#23a984 301px,#4ac16d 303px,#61ca60 304px,#6acd5b 305px,#5ec962 306px,#27ac81 308px,#20978b 309px,#33638d 312px,#404588 316px,#47307d 327px,#463480 363px,#3c4e8a 371px,#2f6b8e 374px,#1f9d89 377px,#33b67a 379px,#37b878 380px,#1f9d89 383px,#36b878 386px,#2db27d 388px,#20978a 390px,#34618d 394px,#404588 399px,#453782 414px,#414387 429px,#38598c 434px,#23898d 438px,#26aa82 440px,#44bf70 442px,#4ac26d 443px,#1fa187 448px,#1f9a8a 453px)"></i><i style="height:3.00px;background:linear-gradient(90deg,#1f998a 5px,#20918c 62px,#3a548b 79px,#38578c 88px,#218e8d 103px,#287c8e 111px,#30688e 121px,#2b758e 131px,#1f9f88 143px,#1e9d89 160px,#228d8d 185px,#3b518b 202px,#453882 233px,#472b7a 260px,#453681 278px,#33638d 289px,#1f9b8a 301px,#2eb37c 303px,#5dc963 305px,#68cc5c 306px,#61ca60 307px,#2db17d 309px,#209d88 310px,#31678e 313px,#404688 317px,#472f7d 327px,#46317e 360px,#3e4989 369px,#2d718e 373px,#21a386 376px,#3cbb75 378px,#40bd73 379px,#20a287 382px,#1f968b 383px,#2aaf7f 386px,#3bba75 388px,#30b37c 390px,#219c89 392px,#355e8d 397px,#414387 403px,#443a83 419px,#3d4c8a 429px,#2c738e 434px,#219c88 437px,#3dbc74 440px,#3ebc74 442px,#1fa088 446px,#1f968b 451px,#1f988b 453px)"></i><i style="height:3.00px;background:linear-gradient(90deg,#1f958b 5px,#218f8d 67px,#2f6b8e 84px,#277e8e 95px,#21908c 105px,#2a768e 123px,#1f9e89 145px,#218f8d 191px,#2f6b8e 209px,#365c8d 224px,#472c7b 242px,#472d7b 276px,#3f4989 286px,#1f988b 302px,#29ae80 304px,#65cb5e 307px,#68cc5c 308px,#59c765 309px,#28aa81 311px,#21978a 312px,#32658d 315px,#404487 319px,#472d7b 330px,#47307d 358px,#3f4888 367px,#2f6d8e 371px,#209d88 374px,#38b877 376px,#42be71 377px,#37b878 379px,#21a486 381px,#21908d 384px,#22a685 387px,#38b977 390px,#33b67a 392px,#219a89 395px,#33638d 400px,#3f4888 406px,#424186 419px,#39568c 427px,#26818e 432px,#23a585 435px,#39b976 438px,#24a983 442px,#20948c 447px,#1f958b 453px)"></i><i style="height:3.00px;background:linear-gradient(90deg,#20928c 5px,#228c8d 75px,#25848e 91px,#218f8d 109px,#23898e 127px,#1f9b8a 152px,#1f958b 182px,#20958b 202px,#277e8e 220px,#443882 235px,#482676 247px,#472b7a 278px,#3d4c8a 288px,#24868e 300px,#1f9b8a 304px,#2eb27d 306px,#67cc5d 309px,#67cc5c 310px,#59c764 311px,#2aac80 313px,#219a89 314px,#365d8d 318px,#433e85 323px,#472b7a 336px,#46317e 357px,#3e4a89 365px,#2d708e 369px,#219d88 372px,#40bd72 375px,#3aba76 377px,#1fa088 380px,#228d8d 384px,#23a784 390px,#32b67a 394px,#21a087 398px,#31678d 405px,#3b528b 412px,#375a8c 421px,#287c8e 427px,#21a087 431px,#32b67a 435px,#1f978b 442px,#20928c 453px)"></i><i style="height:3.00px;background:linear-gradient(90deg,#218f8d 5px,#20918c 135px,#20928c 162px,#1f998a 189px,#1f998a 209px,#25838e 220px,#443b84 234px,#482575 244px,#482777 278px,#3f4788 288px,#26828e 300px,#1f9c89 306px,#2eb27d 308px,#64cb5e 311px,#6acd5b 312px,#4dc26b 314px,#27a583 316px,#25848d 318px,#39558b 322px,#443983 328px,#472c7b 344px,#443b83 358px,#37598c 364px,#21978a 369px,#2db17d 371px,#40bd73 373px,#2cb17e 376px,#1f988b 379px,#228d8d 385px,#1f9c89 392px,#2bb17e 398px,#219b89 404px,#297a8e 412px,#277f8e 419px,#23a585 427px,#2bb07e 432px,#20938c 439px,#218f8d 453px)"></i><i style="height:3.00px;background:linear-gradient(90deg,#228d8d 5px,#20938c 182px,#1e9d89 204px,#24888e 219px,#433c84 234px,#482374 244px,#482575 278px,#404588 288px,#25838e 301px,#1f998a 308px,#28ac81 310px,#67cc5d 314px,#69cd5b 315px,#4dc26b 317px,#2baa81 319px,#238c8c 321px,#38578c 326px,#443b83 333px,#453580 348px,#3e4989 357px,#2f6c8e 362px,#229c88 366px,#38b977 369px,#3ebc74 371px,#21a286 375px,#218e8d 379px,#21908c 394px,#25ab82 404px,#21a386 417px,#24a983 427px,#228c8d 438px,#228d8d 453px)"></i><i style="height:3.00px;background:linear-gradient(90deg,#238a8d 5px,#21918c 182px,#1e9c89 204px,#25858e 220px,#443b84 235px,#482172 245px,#482172 276px,#443b84 286px,#26828e 301px,#20948c 310px,#27ab81 313px,#5fc961 317px,#62ca60 319px,#2dac7f 323px,#24898c 326px,#375a8c 332px,#404587 341px,#3b518a 351px,#2a798e 358px,#24a086 362px,#3dbc74 366px,#35b779 369px,#1f9a8a 373px,#238a8d 378px,#21908c 401px,#1f9e88 414px,#20928c 427px,#238b8d 441px,#238a8d 453px)"></i><i style="height:3.00px;background:linear-gradient(90deg,#24878e 5px,#228d8d 182px,#1f978b 205px,#277f8e 222px,#433c84 236px,#481e70 247px,#481d6f 274px,#453882 285px,#287e8e 300px,#21908c 313px,#29ab81 317px,#5bc864 322px,#50c36a 325px,#28a384 330px,#297b8d 337px,#2c728e 345px,#248a8c 352px,#2daf7e 358px,#3fbc73 362px,#26a982 367px,#228d8d 372px,#23898d 409px,#24878e 453px)"></i><i style="height:3.00px;background:linear-gradient(90deg,#25848e 5px,#238a8d 183px,#21908c 207px,#297a8e 224px,#443a83 238px,#481c6e 249px,#481b6d 272px,#46337f 283px,#2c748e 297px,#25858e 308px,#228d8d 317px,#27a982 322px,#4ec36b 328px,#4bc26c 332px,#31b07c 341px,#39b877 351px,#3cbb75 357px,#209c89 364px,#24868e 370px,#25848e 453px)"></i><i style="height:3.00px;background:linear-gradient(90deg,#26818e 5px,#24868e 186px,#24878e 212px,#2c738e 227px,#46337f 242px,#48196b 255px,#481e70 273px,#414287 285px,#2a778e 298px,#26828e 316px,#218f8c 324px,#2aab80 331px,#3dbb74 340px,#2fb17d 351px,#21938b 359px,#26818e 368px,#26818e 453px)"></i><i style="height:3.00px;background:linear-gradient(90deg,#287d8e 5px,#25838e 192px,#29798e 225px,#3a548b 237px,#482575 251px,#481c6e 266px,#463480 279px,#2c738e 296px,#277e8e 315px,#23898d 332px,#21948b 344px,#277e8e 365px,#287d8e 453px)"></i><i style="height:3.00px;background:linear-gradient(90deg,#297a8e 5px,#297a8e 223px,#33638d 236px,#472c7b 254px,#482878 268px,#3e4b89 282px,#2b748e 296px,#297b8e 368px,#297a8e 453px)"></i><i style="height:3.00px;background:linear-gradient(90deg,#2b758e 5px,#2c738e 229px,#3b528b 245px,#453580 260px,#424086 274px,#2c728e 295px,#2b758e 453px)"></i><i style="height:3.00px;background:linear-gradient(90deg,#2d708e 5px,#2f6c8e 235px,#414487 262px,#39568c 278px,#2d6f8e 296px,#2d708e 453px)"></i><i style="height:3.00px;background:linear-gradient(90deg,#2f6b8e 5px,#31668e 241px,#3a538b 266px,#2f6b8e 298px,#2f6b8e 453px)"></i><i style="height:3.00px;background:linear-gradient(90deg,#32658e 5px,#34608d 250px,#355f8d 276px,#32658e 369px,#32658e 453px)"></i><i style="height:3.00px;background:linear-gradient(90deg,#34608d 5px,#34608d 453px)"></i><i style="height:3.00px;background:linear-gradient(90deg,#375a8c 5px,#375a8c 453px)"></i><i style="height:3.00px;background:linear-gradient(90deg,#3a548c 5px,#3a548c 453px)"></i><i style="height:3.00px;background:linear-gradient(90deg,#3c4e8a 5px,#3c4e8a 453px)"></i><i style="height:3.00px;background:linear-gradient(90deg,#3f4889 5px,#3f4889 453px)"></i><i style="height:3.00px;background:linear-gradient(90deg,#414287 5px,#414287 453px)"></i><i style="height:3.00px;background:linear-gradient(90deg,#433c84 5px,#433c84 453px)"></i><i style="height:3.00px;background:linear-gradient(90deg,#453681 5px,#453681 453px)"></i><i style="height:3.00px;background:linear-gradient(90deg,#46317e 5px,#46317e 453px)"></i><i style="height:3.00px;background:linear-gradient(90deg,#472d7b 5px,#472d7b 453px)"></i><i style="height:3.00px;background:linear-gradient(90deg,#482978 5px,#482978 453px)"></i><i style="height:3.00px;background:linear-gradient(90deg,#482475 5px,#482475 453px)"></i><i style="height:3.00px;background:linear-gradient(90deg,#482071 5px,#482071 453px)"></i><i style="height:3.00px;background:linear-gradient(90deg,#481c6e 5px,#481c6e 453px)"></i><i style="height:3.00px;background:linear-gradient(90deg,#481769 5px,#481769 453px)"></i><i style="height:7.00px;background:linear-gradient(90deg,#471365 5px,#471365 453px)"></i></div></div><div class="mp" style="left:577.2px;top:391.0px;width:449.2px;height:224.7px"><div class="mq" style="left:-4px;top:-4px;width:457.2px;filter:blur(0.9px)"><i style="height:7.00px;background:linear-gradient(90deg,#450356 5px,#450356 453px)"></i><i style="height:3.00px;background:linear-gradient(90deg,#46075a 5px,#46075a 453px)"></i><i style="height:3.00px;background:linear-gradient(90deg,#460b5e 5px,#460b5e 453px)"></i><i style="height:3.00px;background:linear-gradient(90deg,#470f62 5px,#470f62 453px)"></i><i style="height:3.00px;background:linear-gradient(90deg,#471365 5px,#471365 453px)"></i><i style="height:3.00px;background:linear-gradient(90deg,#481669 5px,#481669 453px)"></i><i style="height:3.00px;background:linear-gradient(90deg,#481a6c 5px,#481a6c 453px)"></i><i style="height:3.00px;background:linear-gradient(90deg,#482071 5px,#482071 453px)"></i><i style="height:3.00px;background:linear-gradient(90deg,#482676 5px,#482676 453px)"></i><i style="height:3.00px;background:linear-gradient(90deg,#472b7a 5px,#472b7a 453px)"></i><i style="height:3.00px;background:linear-gradient(90deg,#46317e 5px,#46317e 453px)"></i><i style="height:3.00px;background:linear-gradient(90deg,#453781 5px,#453781 453px)"></i><i style="height:3.00px;background:linear-gradient(90deg,#433c84 5px,#433c84 453px)"></i><i style="height:3.00px;background:linear-gradient(90deg,#414286 5px,#414286 453px)"></i><i style="height:3.00px;background:linear-gradient(90deg,#3f4889 5px,#3f4889 453px)"></i><i style="height:3.00px;background:linear-gradient(90deg,#3d4e8a 5px,#3d4e8a 453px)"></i><i style="height:3.00px;background:linear-gradient(90deg,#3a548b 5px,#3a548b 453px)"></i><i style="height:3.00px;background:linear-gradient(90deg,#37598c 5px,#37598c 453px)"></i><i style="height:3.00px;background:linear-gradient(90deg,#355f8d 5px,#355f8d 453px)"></i><i style="height:3.00px;background:linear-gradient(90deg,#32648e 5px,#32648e 453px)"></i><i style="height:3.00px;background:linear-gradient(90deg,#30698e 5px,#30698e 453px)"></i><i style="height:3.00px;background:linear-gradient(90deg,#2e6e8e 5px,#2e6e8e 453px)"></i><i style="height:3.00px;background:linear-gradient(90deg,#2c738e 5px,#2c738e 453px)"></i><i style="height:3.00px;background:linear-gradient(90deg,#2a788e 5px,#2c728e 334px,#2a788e 453px)"></i><i style="height:3.00px;background:linear-gradient(90deg,#287d8e 5px,#2a788e 324px,#297a8e 365px,#26818e 399px,#228f8c 412px,#287c8e 430px,#287c8e 453px)"></i><i style="height:3.00px;background:linear-gradient(90deg,#26838e 5px,#287c8e 319px,#26808e 373px,#25858e 392px,#20a287 403px,#22a486 419px,#26818e 431px,#26818e 453px)"></i><i style="height:3.00px;background:linear-gradient(90deg,#23898d 5px,#26818e 315px,#26828e 330px,#2e6e8e 343px,#24868e 360px,#25848e 374px,#228c8d 388px,#20a486 396px,#25868d 409px,#21978a 416px,#2bb17e 423px,#21a087 428px,#24878e 434px,#24868e 453px)"></i><i style="height:3.00px;background:linear-gradient(90deg,#21918c 5px,#23898d 317px,#23898d 324px,#39568c 338px,#39568c 347px,#218e8d 363px,#23888e 377px,#20938c 385px,#24a983 391px,#22908c 396px,#33628d 403px,#39558b 410px,#306a8e 417px,#219b88 423px,#33b67a 427px,#2db17d 430px,#1f978b 434px,#228b8d 440px,#238b8d 453px)"></i><i style="height:3.00px;background:linear-gradient(90deg,#1f9a8a 5px,#21908d 155px,#218f8d 313px,#20938c 319px,#3d4c89 332px,#433d84 343px,#3c4f8a 354px,#20938c 366px,#228b8d 379px,#24a883 385px,#2ab07f 388px,#209b89 391px,#355e8d 397px,#424186 404px,#414286 415px,#365b8c 421px,#219b89 427px,#37b878 430px,#3dbb74 432px,#21a287 436px,#21908c 441px,#21908d 453px)"></i><i style="height:3.00px;background:linear-gradient(90deg,#21a585 5px,#1f958c 115px,#20928c 309px,#1e9d89 315px,#2c728e 321px,#3f4888 328px,#453581 341px,#414286 355px,#33628d 362px,#1f998a 369px,#1f9a8a 373px,#228c8d 378px,#23a884 382px,#33b67a 385px,#21a187 388px,#38598c 394px,#433e85 400px,#453882 414px,#3f4989 422px,#31668e 426px,#219d88 430px,#42be72 433px,#48c16e 434px,#20a287 439px,#1f958b 444px,#1f958b 453px)"></i><i style="height:3.00px;background:linear-gradient(90deg,#2eb37d 5px,#20a387 56px,#1f9c89 132px,#1f998a 307px,#21a685 312px,#238a8d 316px,#3a548c 322px,#443a83 331px,#453781 351px,#3c4f8a 362px,#277f8e 368px,#1fa188 372px,#1f9e89 375px,#20918c 378px,#21a585 380px,#36b878 383px,#20a087 386px,#365d8d 391px,#414287 396px,#453681 411px,#414387 423px,#34608d 428px,#209a8a 432px,#26aa82 433px,#49c16e 435px,#52c568 436px,#43be71 438px,#21a585 441px,#1f9a8a 446px,#1f9a8a 453px)"></i><i style="height:3.00px;background:linear-gradient(90deg,#49c16e 5px,#45bf70 29px,#23a884 70px,#20a386 125px,#20a486 188px,#1f9c89 304px,#28ae80 310px,#1f978b 313px,#37598c 319px,#433e85 327px,#453581 349px,#3f4788 362px,#30688e 368px,#1fa187 374px,#1f9a8a 378px,#32b57a 381px,#28ae80 383px,#21938c 385px,#355e8d 389px,#414287 395px,#443983 414px,#3f4889 426px,#34618d 430px,#228c8d 433px,#209e88 434px,#2cb07e 435px,#57c766 437px,#5ec962 438px,#46c06f 440px,#28ae80 442px,#1f9f88 446px,#1f9f88 453px)"></i><i style="height:3.00px;background:linear-gradient(90deg,#68cc5c 5px,#6dce59 25px,#35b779 69px,#22a784 106px,#34b779 157px,#2db27d 184px,#1fa287 211px,#1fa088 303px,#2fb47c 308px,#1f9c89 311px,#355f8d 316px,#424186 323px,#463480 342px,#423f85 361px,#38578c 368px,#1f9c89 376px,#1f9f88 378px,#28ae80 380px,#21a386 382px,#355e8d 387px,#404588 392px,#443983 409px,#414487 426px,#375b8d 431px,#26828e 434px,#20958b 435px,#24a883 436px,#52c568 438px,#62ca60 439px,#5fc961 440px,#2db27d 443px,#1fa287 446px,#1fa187 453px)"></i><i style="height:3.00px;background:linear-gradient(90deg,#89d548 5px,#97d83e 23px,#77d153 44px,#4fc46a 60px,#44bf70 82px,#33b57a 108px,#55c667 149px,#4dc26b 182px,#28ae80 200px,#1f9f88 273px,#1f9f88 301px,#37b877 306px,#2ab07f 308px,#1f968b 310px,#34618d 314px,#414387 320px,#463480 336px,#433d84 362px,#365c8d 371px,#1fa088 378px,#20a287 380px,#2f6c8e 384px,#3c508b 387px,#443b84 398px,#424186 426px,#38588c 432px,#287e8e 435px,#22a585 437px,#52c568 439px,#62cb5f 440px,#62ca60 441px,#2eb37d 444px,#20a287 447px,#1fa287 453px)"></i><i style="height:3.00px;background:linear-gradient(90deg,#a5db35 5px,#bade28 22px,#a6db35 38px,#86d54a 47px,#40bd72 57px,#32b47b 64px,#5ac864 80px,#54c567 109px,#6acd5a 146px,#60ca61 156px,#74d055 169px,#6ece58 182px,#2fb37c 206px,#1f9b8a 263px,#1fa187 300px,#30b47c 303px,#3fbc73 305px,#2cb17e 307px,#21a486 308px,#31688e 312px,#3f4889 317px,#453681 329px,#443b83 362px,#38578c 372px,#1e9c89 378px,#20928c 380px,#3a538b 385px,#414287 390px,#433c84 422px,#3d4c8a 431px,#33628d 434px,#20938c 437px,#23a884 438px,#59c764 440px,#67cc5c 441px,#62ca60 442px,#2cb17e 445px,#20a287 449px,#20a386 453px)"></i><i style="height:3.00px;background:linear-gradient(90deg,#b6de2b 5px,#cde11d 21px,#bcdf27 36px,#9eda3a 44px,#6bcd5a 49px,#30b47b 54px,#219e88 58px,#238a8d 66px,#27a783 75px,#4cc26c 84px,#61ca60 113px,#60ca60 141px,#32b47b 151px,#36b678 158px,#65cb5e 165px,#7bd251 170px,#7dd24f 182px,#3ebc73 211px,#1f9f88 247px,#1f988b 267px,#1fa088 296px,#22a784 300px,#47c06f 304px,#42be72 305px,#22a884 307px,#25848e 309px,#355e8d 312px,#414287 318px,#453681 335px,#433d84 364px,#3c4e8a 371px,#2e6d8e 374px,#20948c 377px,#21918c 379px,#34608d 384px,#404688 387px,#443c84 408px,#404487 429px,#365c8d 434px,#24878e 437px,#1f9d89 438px,#2cb27d 439px,#62cb5f 441px,#68cc5c 442px,#47c06f 444px,#28ae80 446px,#20a386 450px,#20a586 453px)"></i><i style="height:3.00px;background:linear-gradient(90deg,#b7de2a 5px,#cce11e 20px,#bbde28 34px,#9eda3a 42px,#7cd250 46px,#29ae80 52px,#20968b 55px,#2f6b8e 63px,#31678e 70px,#25858d 78px,#26a982 84px,#3bba76 93px,#47c06f 110px,#42be72 139px,#21a286 146px,#1f988b 154px,#23a784 162px,#40bc73 166px,#61ca60 170px,#6fce58 183px,#5ac864 203px,#43be71 216px,#32b57a 232px,#1f9b8a 247px,#20928c 263px,#20a387 294px,#22a785 299px,#33b67a 301px,#4ec36b 303px,#4ec36b 304px,#29af7f 306px,#1f9e89 307px,#2f6c8e 310px,#3d4d8a 314px,#443982 324px,#433c84 364px,#3d4d8a 371px,#2e6e8e 374px,#20938c 377px,#238a8d 379px,#26808e 380px,#287d8e 382px,#3f4788 387px,#433e85 397px,#414287 428px,#37598c 434px,#26818e 437px,#1f968b 438px,#25ac82 439px,#60ca60 441px,#6dce59 442px,#65cb5e 443px,#2bb17e 446px,#20a486 450px,#21a685 453px)"></i><i style="height:3.00px;background:linear-gradient(90deg,#a8db34 5px,#b8de2a 20px,#a0da39 34px,#7cd250 43px,#4bc26d 48px,#25ab82 51px,#218f8d 54px,#355f8d 61px,#3c4e8a 70px,#365b8c 78px,#21a087 89px,#29af80 98px,#29af7f 139px,#20938c 145px,#24868e 151px,#20938c 162px,#24aa83 166px,#44bf70 172px,#51c469 196px,#3cba75 203px,#26a584 211px,#2db07e 220px,#38b977 227px,#1f9c89 241px,#25858e 257px,#20948c 273px,#22a785 292px,#21a685 298px,#2fb37c 300px,#4fc46a 302px,#58c765 303px,#50c46a 304px,#24aa83 306px,#1f978b 307px,#31668e 310px,#3f4788 315px,#453882 327px,#433d84 365px,#3e4c8a 371px,#287d8e 375px,#20918c 377px,#24878e 379px,#287d8e 380px,#26808e 382px,#3e4a89 387px,#423f85 392px,#414287 428px,#38598c 434px,#277f8e 437px,#20938c 438px,#23a983 439px,#5cc963 441px,#6bcd5a 442px,#65cb5e 443px,#2cb27d 446px,#20a586 450px,#21a685 453px)"></i><i style="height:3.00px;background:linear-gradient(90deg,#89d548 5px,#91d742 21px,#70cf57 37px,#4ac26d 46px,#21a685 51px,#2b768e 56px,#3b518b 62px,#414387 74px,#3c4e8a 82px,#1f9e89 94px,#20a486 105px,#1f9e89 121px,#20a486 140px,#277f8e 151px,#24868e 160px,#22a785 167px,#30b47c 180px,#30b37c 196px,#22908b 203px,#2b768e 210px,#287d8e 218px,#23a684 228px,#218f8c 238px,#2d708e 253px,#2b748e 266px,#20a386 283px,#26ac82 293px,#21a585 298px,#31b57b 300px,#54c667 302px,#5ac864 303px,#4fc46a 304px,#21a685 306px,#277f8e 308px,#38598c 311px,#433c84 318px,#463580 346px,#433e85 368px,#3c4f8b 372px,#228d8d 377px,#24868e 379px,#287b8e 380px,#26828e 382px,#414387 388px,#443b83 415px,#404588 430px,#38588c 434px,#26808e 437px,#1f958b 438px,#24ab82 439px,#5ac864 441px,#64cb5e 442px,#5cc863 443px,#28ae80 446px,#20a387 450px,#20a486 453px)"></i><i style="height:3.00px;background:linear-gradient(90deg,#67cc5d 5px,#69cd5b 22px,#3bba75 45px,#22a785 51px,#25848e 55px,#3a538b 61px,#423f85 69px,#414286 84px,#33638d 90px,#1f988a 97px,#1f9c89 104px,#23898d 117px,#1fa187 137px,#20948c 148px,#228d8d 157px,#21a585 170px,#21a685 194px,#287d8e 200px,#365d8d 206px,#375a8c 218px,#2b758e 225px,#228c8d 230px,#365c8d 250px,#375a8c 265px,#218e8d 280px,#25ab82 287px,#30b47b 294px,#22a785 298px,#30b47c 300px,#54c568 302px,#5bc864 303px,#50c46a 304px,#22a785 306px,#277e8e 308px,#38578c 311px,#443a83 318px,#46327f 345px,#443a83 367px,#3e4b89 372px,#23898d 377px,#23888e 379px,#287e8e 380px,#25838e 382px,#414287 388px,#453882 406px,#423f85 428px,#3b528b 433px,#2b748e 436px,#1f9b8a 438px,#29af80 439px,#57c766 441px,#5bc863 442px,#2cb17e 445px,#1fa187 448px,#1fa287 453px)"></i><i style="height:3.00px;background:linear-gradient(90deg,#48c16e 5px,#45bf70 26px,#22a884 51px,#24878e 56px,#3d4c8a 63px,#443a83 71px,#433d85 87px,#34618d 93px,#21908c 99px,#20928c 104px,#287d8e 115px,#23898d 126px,#1f9d89 136px,#1f9d89 193px,#2a788e 198px,#3a538b 203px,#3f4989 215px,#3c508a 224px,#2c738e 231px,#3e4a89 250px,#3d4c8a 267px,#2c728e 279px,#20a287 288px,#36b878 295px,#22a785 299px,#3dbb74 301px,#5bc863 303px,#54c667 304px,#25ab82 306px,#1f978b 307px,#33628d 310px,#404588 314px,#46317e 324px,#453581 365px,#3f4788 372px,#228c8d 378px,#24868e 382px,#3f4989 387px,#443a83 392px,#443a83 425px,#3c4e8a 432px,#2e6e8e 435px,#20928c 437px,#22a685 438px,#4bc26c 440px,#53c568 441px,#3dbb74 443px,#24aa83 445px,#1f9e89 449px,#1f9f88 453px)"></i><i style="height:3.00px;background:linear-gradient(90deg,#32b57a 5px,#2bb07f 35px,#1f9f88 54px,#2b758e 60px,#404688 66px,#453681 74px,#443a83 89px,#365b8d 95px,#24868e 101px,#277e8e 108px,#297a8e 123px,#1e9b8a 137px,#1e9b8a 192px,#25848e 196px,#3b518b 202px,#404587 210px,#423f85 224px,#33628d 231px,#424086 249px,#414387 270px,#33648d 281px,#21a386 292px,#27ac81 296px,#1fa088 299px,#32b57a 301px,#58c765 303px,#5ac864 304px,#4ac26d 305px,#1fa187 307px,#30688e 310px,#404588 314px,#472f7d 324px,#46327f 364px,#404688 372px,#34618d 375px,#21908c 379px,#238a8d 382px,#3e4a89 387px,#443982 394px,#453782 423px,#3d4d8a 431px,#2f6c8e 434px,#20a387 437px,#42be72 439px,#4bc26c 440px,#48c16e 441px,#23a983 444px,#1e9c89 448px,#1e9d89 453px)"></i><i style="height:3.00px;background:linear-gradient(90deg,#25ab82 5px,#1f9f88 54px,#228c8d 60px,#404588 69px,#46337f 77px,#443983 91px,#33638d 98px,#287c8e 103px,#2a788e 124px,#1f998a 137px,#1f988b 193px,#2a768e 198px,#3d4c8a 204px,#443a83 223px,#375a8c 231px,#443b83 247px,#433e85 273px,#375b8d 283px,#1f988a 295px,#1f998a 299px,#25ab82 301px,#59c765 304px,#56c666 305px,#2bb07f 307px,#1f9b89 308px,#32648e 311px,#414387 315px,#472d7b 325px,#47307d 363px,#3f4989 372px,#33638d 375px,#1f978b 379px,#20938c 382px,#3c4e8a 388px,#453782 396px,#453580 421px,#3f4989 429px,#2d708e 433px,#21a486 436px,#3ebc74 438px,#44bf70 439px,#21a685 443px,#1f9a8a 447px,#1f9b8a 453px)"></i><i style="height:3.00px;background:linear-gradient(90deg,#20a387 5px,#1f978b 60px,#2a788e 66px,#414186 74px,#46327f 83px,#433e85 93px,#2b748e 103px,#2a788e 125px,#1f968b 136px,#1f978b 195px,#3a538b 206px,#414387 219px,#38598c 230px,#453882 244px,#443a83 275px,#38588c 285px,#238b8d 296px,#1f988b 300px,#26ac81 302px,#59c765 305px,#56c666 306px,#2bb07e 308px,#1f9c89 309px,#32658e 312px,#414287 316px,#472b7a 326px,#472d7b 361px,#404688 370px,#306a8e 374px,#20a287 378px,#20a387 380px,#1f988a 384px,#3b528b 390px,#453882 397px,#46337f 417px,#3f4788 427px,#2f6b8e 431px,#209b89 434px,#3bbb75 437px,#35b779 439px,#1fa187 442px,#1f988b 447px,#1f988b 453px)"></i><i style="height:3.00px;background:linear-gradient(90deg,#1f9c89 5px,#20918c 65px,#355f8d 74px,#433e85 82px,#433e85 91px,#2a788e 105px,#2a778e 123px,#1f948c 136px,#1f978b 198px,#32648d 210px,#33638d 221px,#355f8d 228px,#453882 240px,#463480 273px,#3e4b8a 284px,#23898e 298px,#1f9f88 302px,#33b67a 304px,#57c666 306px,#58c765 307px,#4bc26c 308px,#22a386 310px,#2f6b8e 313px,#414487 317px,#472b7a 326px,#482978 357px,#433e85 367px,#375a8c 371px,#20958b 375px,#29ae80 377px,#28ae80 379px,#1f978b 381px,#24aa83 384px,#21938b 387px,#38578c 392px,#443b84 398px,#46337f 414px,#404587 424px,#34618d 428px,#20988a 432px,#34b679 435px,#31b57b 437px,#1fa088 440px,#1f958b 445px,#1f968b 453px)"></i><i style="height:3.00px;background:linear-gradient(90deg,#1f978b 5px,#218e8d 70px,#3a538b 85px,#3a548b 93px,#277e8e 105px,#297a8e 121px,#20928c 136px,#1e9b8a 196px,#21908c 207px,#2b768e 223px,#443a83 237px,#472e7c 254px,#453581 278px,#38598c 288px,#23898e 299px,#1f9b8a 303px,#2bb07f 305px,#50c46a 307px,#5ac864 308px,#55c667 309px,#2caf7e 311px,#219d88 312px,#365b8d 316px,#443983 321px,#482576 334px,#472b7a 358px,#424186 366px,#32648d 370px,#21938b 373px,#2bb07e 375px,#37b977 377px,#1f9d89 380px,#20918c 381px,#29af80 386px,#209b89 389px,#37598c 395px,#433e85 401px,#453882 414px,#3d4c89 422px,#2a778e 427px,#209d88 430px,#2fb37c 433px,#21a486 437px,#20938c 442px,#20938c 453px)"></i><i style="height:3.00px;background:linear-gradient(90deg,#20938c 5px,#228c8d 76px,#2f6c8e 91px,#24878e 108px,#25858e 122px,#21908c 140px,#1f998a 195px,#1f958b 214px,#2a788e 223px,#443a83 236px,#472c7a 250px,#46327f 278px,#39568c 288px,#24878e 299px,#1f968b 304px,#23a884 306px,#52c569 309px,#5bc864 310px,#54c567 311px,#229f87 314px,#355f8d 318px,#443b83 323px,#482676 335px,#472b7a 356px,#414387 364px,#31678e 368px,#21958b 371px,#2db17d 373px,#3ebc74 375px,#23a884 378px,#228c8d 381px,#1f988a 384px,#28ae80 388px,#22a585 391px,#2b758e 396px,#3c4e8a 402px,#414387 411px,#38578c 419px,#24898d 425px,#25ab82 429px,#27ad81 432px,#20928c 438px,#20918c 453px)"></i><i style="height:3.00px;background:linear-gradient(90deg,#21908d 5px,#23898d 85px,#24868e 99px,#218e8d 146px,#1f988b 197px,#20938c 215px,#2f6d8e 225px,#453581 237px,#482978 252px,#46317e 278px,#39558c 288px,#24868e 299px,#1f968b 306px,#23a784 308px,#59c764 312px,#58c765 313px,#28a982 316px,#24888d 318px,#39558b 322px,#453681 328px,#482777 343px,#453580 357px,#3b528b 363px,#228f8c 368px,#27aa82 370px,#3bba75 372px,#37b877 374px,#20a187 377px,#238a8d 381px,#1f998a 387px,#24aa83 392px,#20968b 397px,#30698e 405px,#32648d 412px,#26818e 419px,#24aa83 426px,#1f9e88 431px,#228e8d 437px,#218e8d 453px)"></i><i style="height:3.00px;background:linear-gradient(90deg,#228d8d 5px,#20918c 191px,#20928c 214px,#2a778e 223px,#453681 237px,#482676 251px,#472e7c 277px,#3b528b 287px,#25858e 299px,#20938c 308px,#28ac81 311px,#52c469 314px,#55c667 316px,#2aab80 319px,#238e8c 321px,#39568b 326px,#453781 333px,#46307d 347px,#414286 356px,#33648d 361px,#22a087 366px,#38b977 369px,#38b877 371px,#1f9c89 375px,#238b8d 380px,#20938c 390px,#20a586 398px,#228e8c 410px,#21a586 423px,#228b8d 434px,#228c8d 453px)"></i><i style="height:3.00px;background:linear-gradient(90deg,#238a8d 5px,#21908d 195px,#238a8d 217px,#31668e 227px,#46327f 239px,#482474 255px,#472d7c 276px,#39568c 287px,#25838e 298px,#20938c 311px,#27ab82 314px,#51c469 318px,#4bc26c 320px,#249e87 324px,#33648d 330px,#404687 337px,#414487 347px,#34618d 355px,#23a186 362px,#39ba76 366px,#26aa82 370px,#21908c 374px,#23898d 391px,#1f9d89 407px,#20958b 421px,#23898e 432px,#238a8d 453px)"></i><i style="height:3.00px;background:linear-gradient(90deg,#24878e 5px,#24888e 217px,#306a8e 227px,#47307d 241px,#482173 258px,#472d7c 275px,#34608d 288px,#25848e 299px,#228c8d 313px,#22a286 317px,#48c06e 322px,#42be71 325px,#259f86 330px,#2b768e 337px,#2e6d8e 345px,#25868d 352px,#2aac80 358px,#37b877 362px,#209c89 368px,#24878e 373px,#24878e 453px)"></i><i style="height:3.00px;background:linear-gradient(90deg,#25848e 5px,#26828e 219px,#34618d 230px,#472d7b 244px,#482172 261px,#46327e 275px,#2a778e 293px,#25848e 306px,#23888e 317px,#25a684 323px,#40bd73 329px,#28a882 343px,#32b57a 357px,#20968b 364px,#25848e 370px,#25848e 453px)"></i><i style="height:3.00px;background:linear-gradient(90deg,#26818e 5px,#277e8e 221px,#365c8d 233px,#472e7c 247px,#482576 263px,#433d84 276px,#297a8e 294px,#24878e 323px,#26a883 332px,#31b47b 342px,#24a485 353px,#26818e 365px,#26818e 453px)"></i><i style="height:3.00px;background:linear-gradient(90deg,#287d8e 5px,#29798e 224px,#3c4f8a 239px,#472f7d 253px,#463480 268px,#2a788e 292px,#25838e 331px,#228f8c 344px,#287d8e 365px,#287d8e 453px)"></i><i style="height:3.00px;background:linear-gradient(90deg,#297a8e 5px,#2b768e 227px,#443b84 254px,#414286 268px,#2a768e 291px,#297a8e 453px)"></i><i style="height:3.00px;background:linear-gradient(90deg,#2b758e 5px,#2d718e 231px,#3f4989 257px,#37598c 273px,#2b748e 291px,#2b758e 453px)"></i><i style="height:3.00px;background:linear-gradient(90deg,#2d708e 5px,#2f6b8e 236px,#39568c 260px,#2d708e 293px,#2d708e 453px)"></i><i style="height:3.00px;background:linear-gradient(90deg,#2f6b8e 5px,#32658e 243px,#33618d 268px,#2f6b8e 310px,#2f6b8e 453px)"></i><i style="height:3.00px;background:linear-gradient(90deg,#32658e 5px,#32658e 453px)"></i><i style="height:3.00px;background:linear-gradient(90deg,#34608d 5px,#34608d 453px)"></i><i style="height:3.00px;background:linear-gradient(90deg,#375a8c 5px,#375a8c 453px)"></i><i style="height:3.00px;background:linear-gradient(90deg,#3a548c 5px,#3a548c 453px)"></i><i style="height:3.00px;background:linear-gradient(90deg,#3c4e8a 5px,#3c4e8a 453px)"></i><i style="height:3.00px;background:linear-gradient(90deg,#3f4889 5px,#3f4889 453px)"></i><i style="height:3.00px;background:linear-gradient(90deg,#414287 5px,#414287 453px)"></i><i style="height:3.00px;background:linear-gradient(90deg,#433c84 5px,#433c84 453px)"></i><i style="height:3.00px;background:linear-gradient(90deg,#453681 5px,#453681 453px)"></i><i style="height:3.00px;background:linear-gradient(90deg,#46317e 5px,#46317e 453px)"></i><i style="height:3.00px;background:linear-gradient(90deg,#472c7b 5px,#472c7b 453px)"></i><i style="height:3.00px;background:linear-gradient(90deg,#482877 5px,#482877 453px)"></i><i style="height:3.00px;background:linear-gradient(90deg,#482374 5px,#482374 453px)"></i><i style="height:3.00px;background:linear-gradient(90deg,#481e70 5px,#481e70 453px)"></i><i style="height:3.00px;background:linear-gradient(90deg,#48196b 5px,#48196b 453px)"></i><i style="height:3.00px;background:linear-gradient(90deg,#481467 5px,#481467 453px)"></i><i style="height:7.00px;background:linear-gradient(90deg,#470f62 5px,#470f62 453px)"></i></div></div><div class="mp" style="left:40.8px;top:729.7px;width:449.2px;height:224.7px"><div class="mq" style="left:-4px;top:-4px;width:457.2px;filter:blur(0.9px)"><i style="height:7.00px;background:linear-gradient(90deg,#470d60 5px,#470d60 453px)"></i><i style="height:3.00px;background:linear-gradient(90deg,#470f62 5px,#470f62 453px)"></i><i style="height:3.00px;background:linear-gradient(90deg,#471163 5px,#471163 453px)"></i><i style="height:3.00px;background:linear-gradient(90deg,#471265 5px,#471265 453px)"></i><i style="height:3.00px;background:linear-gradient(90deg,#481466 5px,#481466 453px)"></i><i style="height:3.00px;background:linear-gradient(90deg,#481568 5px,#481568 453px)"></i><i style="height:3.00px;background:linear-gradient(90deg,#481769 5px,#481769 453px)"></i><i style="height:3.00px;background:linear-gradient(90deg,#481a6c 5px,#481a6c 453px)"></i><i style="height:3.00px;background:linear-gradient(90deg,#481d6f 5px,#481d6f 453px)"></i><i style="height:3.00px;background:linear-gradient(90deg,#482071 5px,#482071 453px)"></i><i style="height:3.00px;background:linear-gradient(90deg,#482374 5px,#482374 453px)"></i><i style="height:3.00px;background:linear-gradient(90deg,#482676 5px,#482676 453px)"></i><i style="height:3.00px;background:linear-gradient(90deg,#482978 5px,#482978 453px)"></i><i style="height:3.00px;background:linear-gradient(90deg,#472c7b 5px,#472c7b 453px)"></i><i style="height:3.00px;background:linear-gradient(90deg,#46327f 5px,#46327f 453px)"></i><i style="height:3.00px;background:linear-gradient(90deg,#453882 5px,#453882 453px)"></i><i style="height:3.00px;background:linear-gradient(90deg,#433e85 5px,#433e85 453px)"></i><i style="height:3.00px;background:linear-gradient(90deg,#414487 5px,#414487 453px)"></i><i style="height:3.00px;background:linear-gradient(90deg,#3e4a89 5px,#404588 191px,#404588 214px,#3e4a89 453px)"></i><i style="height:3.00px;background:linear-gradient(90deg,#3c4f8b 5px,#3e4b89 189px,#424186 206px,#3c4f8b 229px,#3c4f8b 453px)"></i><i style="height:3.00px;background:linear-gradient(90deg,#39558c 5px,#3b518b 188px,#414287 201px,#3d4d8a 215px,#3a548c 233px,#39558c 453px)"></i><i style="height:3.00px;background:linear-gradient(90deg,#375a8c 5px,#39568c 188px,#414487 201px,#3c508b 214px,#375a8c 226px,#3a538b 302px,#375a8c 453px)"></i><i style="height:3.00px;background:linear-gradient(90deg,#355f8d 5px,#375a8d 189px,#404788 201px,#3a538b 213px,#345f8d 224px,#38598c 292px,#3b518b 322px,#355f8d 358px,#355f8d 453px)"></i><i style="height:3.00px;background:linear-gradient(90deg,#32648e 5px,#34608d 190px,#3d4c8a 203px,#32658e 222px,#2f6b8e 238px,#26818d 245px,#31678e 252px,#365b8d 290px,#3c4f8a 316px,#32648e 355px,#32648e 453px)"></i><i style="height:3.00px;background:linear-gradient(90deg,#30698e 5px,#32648e 192px,#38588c 205px,#306a8e 222px,#2c728e 228px,#1f9c89 242px,#20988a 249px,#2d718e 259px,#365c8d 290px,#3c4f8a 312px,#375a8c 334px,#30698e 354px,#30698e 453px)"></i><i style="height:3.00px;background:linear-gradient(90deg,#2e6e8e 5px,#30688e 196px,#30698e 209px,#2b758e 225px,#21a386 230px,#22908c 238px,#2b758e 244px,#20a287 253px,#229c88 258px,#2c738e 268px,#365d8d 290px,#3c4f8b 309px,#38588c 332px,#2e6d8e 351px,#2e6e8e 453px)"></i><i style="height:3.00px;background:linear-gradient(90deg,#2c738e 5px,#2b748e 216px,#287c8e 223px,#22a884 228px,#209d88 230px,#297a8e 233px,#355d8d 241px,#355f8d 247px,#25858d 254px,#25a983 259px,#2eb17d 263px,#21948b 266px,#29798e 270px,#365c8d 292px,#3c508b 312px,#375a8c 332px,#2c728e 350px,#2c738e 453px)"></i><i style="height:3.00px;background:linear-gradient(90deg,#2a778e 5px,#287b8e 218px,#228d8d 222px,#24a983 225px,#22a685 227px,#287d8e 230px,#34608d 233px,#3a548c 245px,#33648d 254px,#24888d 260px,#21a087 262px,#36b778 264px,#38b877 266px,#21988a 269px,#26818e 272px,#3b528b 304px,#37598c 329px,#2c748e 348px,#2a778e 453px)"></i><i style="height:3.00px;background:linear-gradient(90deg,#287c8e 5px,#26818e 215px,#21908c 219px,#2bb07f 223px,#23a684 225px,#297a8e 228px,#34608d 231px,#3b518b 242px,#355e8d 255px,#2a798e 261px,#209c88 264px,#37b877 266px,#47c06f 267px,#4ac26d 268px,#26a783 271px,#238a8d 274px,#39568c 304px,#375b8d 326px,#2c728e 344px,#287c8e 396px,#2a788e 423px,#287c8e 453px)"></i><i style="height:3.00px;background:linear-gradient(90deg,#26818e 5px,#24868e 212px,#20978b 216px,#35b779 220px,#2db27d 222px,#20988a 224px,#2d6f8e 227px,#38578c 232px,#3b508b 248px,#32648e 258px,#25848e 264px,#209a8a 266px,#25a883 267px,#58c765 270px,#58c765 271px,#28aa81 274px,#228d8d 277px,#365c8d 307px,#32648e 326px,#2d718e 340px,#2d708e 356px,#26818e 375px,#297a8e 404px,#29798e 424px,#26818e 453px)"></i><i style="height:3.00px;background:linear-gradient(90deg,#24868e 5px,#238b8d 209px,#209c89 213px,#39b876 216px,#45bf70 218px,#22a486 221px,#2c728e 225px,#38578c 231px,#3c4f8a 248px,#34618d 258px,#218f8d 267px,#23a585 269px,#46bf6f 271px,#67cc5c 273px,#64cb5e 274px,#2bad80 277px,#20988a 279px,#24878e 285px,#31668e 311px,#2c748e 335px,#33638d 351px,#24868e 374px,#27808e 401px,#2a788e 420px,#24868e 441px,#24868e 453px)"></i><i style="height:3.00px;background:linear-gradient(90deg,#238a8d 5px,#20928c 59px,#228b8d 174px,#20918c 207px,#27aa82 211px,#50c46a 214px,#54c568 215px,#3cba75 217px,#21a187 219px,#2a768e 223px,#3a558c 231px,#3c508b 251px,#31688e 260px,#1f998a 270px,#2aae7f 272px,#6dce59 275px,#77d153 276px,#70cf57 277px,#2fb07d 280px,#209d89 282px,#228b8d 289px,#2a778e 314px,#297b8e 331px,#375a8c 347px,#32648e 359px,#23898e 373px,#25858e 400px,#297a8e 415px,#24868e 430px,#238b8d 453px)"></i><i style="height:3.00px;background:linear-gradient(90deg,#218e8d 5px,#1f978b 52px,#20a386 61px,#20928c 90px,#20938c 200px,#25a783 207px,#36b678 209px,#55c667 211px,#5ac864 212px,#45bf70 214px,#26aa82 216px,#20948b 218px,#355e8d 227px,#3d4e8a 237px,#3a548c 255px,#1f9f88 273px,#25a983 274px,#35b679 275px,#82d34c 278px,#86d449 279px,#7ad151 280px,#33b47a 283px,#20a187 285px,#20918c 291px,#24868e 319px,#26808e 329px,#39568c 343px,#38588c 357px,#228d8d 375px,#23898e 400px,#287b8e 415px,#238a8d 430px,#218e8d 453px)"></i><i style="height:3.00px;background:linear-gradient(90deg,#20938c 5px,#21a386 49px,#2db27d 55px,#20998a 61px,#218f8c 66px,#24a983 75px,#1f978b 125px,#1f968b 193px,#28ab81 200px,#58c765 207px,#58c765 210px,#2aae7f 213px,#1f968b 216px,#39568c 229px,#3d4e8a 247px,#38588c 257px,#20918c 270px,#1fa088 275px,#33b57a 277px,#87d549 280px,#96d83f 281px,#93d741 282px,#67cb5c 284px,#37b778 286px,#22a685 288px,#1f968b 294px,#23898e 326px,#39558c 340px,#3a538b 357px,#2f6c8e 366px,#218e8d 375px,#218f8d 399px,#277e8e 415px,#20928c 440px,#20918c 453px)"></i><i style="height:3.00px;background:linear-gradient(90deg,#1f9c89 5px,#2db17e 45px,#4ec36b 52px,#2eb27d 55px,#209d89 57px,#297b8e 62px,#29798e 68px,#1f9a8a 73px,#36b878 77px,#21a486 127px,#1f9b8a 168px,#21a386 190px,#3ab876 195px,#5bc863 200px,#50c369 204px,#25a983 210px,#20918c 216px,#39558c 229px,#3c4e8a 250px,#355f8d 259px,#20928c 270px,#20a287 277px,#32b57a 279px,#6acd5a 281px,#a1da38 283px,#aadc32 284px,#a1da38 285px,#40bb73 289px,#27ac81 291px,#1f9b8a 298px,#228b8d 325px,#39558c 338px,#3c508b 357px,#31668e 366px,#20928c 376px,#20a088 393px,#25848e 415px,#1f998a 442px,#1f958b 453px)"></i><i style="height:3.00px;background:linear-gradient(90deg,#24a983 5px,#38b977 28px,#50c46a 44px,#7ad151 49px,#7ad151 50px,#56c666 52px,#27ac81 54px,#21908c 56px,#2d718e 60px,#30688e 67px,#297a8e 72px,#1f9b89 75px,#24a983 76px,#57c765 79px,#62ca60 81px,#44bf70 106px,#26ac82 110px,#29af80 114px,#3bba75 118px,#30b47b 136px,#3dbb74 146px,#32b37b 173px,#4ac06d 189px,#5fc961 193px,#4fc36a 197px,#25a983 203px,#20928c 216px,#39558c 229px,#3c4e8a 251px,#355f8d 259px,#20918c 269px,#20a486 279px,#33b57a 281px,#6acc5b 283px,#acdc31 285px,#bedf26 286px,#c1df24 287px,#b5dd2c 288px,#50c36a 292px,#30b37c 295px,#1fa187 302px,#228b8d 325px,#3a558c 337px,#3c4f8b 358px,#33638d 366px,#1f9d89 377px,#42bd71 386px,#42bd71 394px,#1f9c89 404px,#228d8d 415px,#22a585 434px,#29ad80 443px,#1f9b8a 453px)"></i><i style="height:3.00px;background:linear-gradient(90deg,#36b778 5px,#41bd72 14px,#22a485 20px,#24a684 25px,#39b976 28px,#5bc864 31px,#75d054 43px,#a3da37 48px,#99d93e 49px,#5bc863 51px,#36b778 52px,#22a585 53px,#287b8e 56px,#33638d 61px,#32648e 70px,#297a8e 74px,#22a685 77px,#54c667 79px,#71cf57 80px,#83d44c 81px,#89d548 83px,#75d054 95px,#6ccd59 104px,#54c568 106px,#29ae80 108px,#1f998a 110px,#1f998a 113px,#27ac81 115px,#57c766 118px,#56c666 124px,#50c46a 135px,#74d055 144px,#68cc5c 178px,#50c36a 190px,#25aa83 196px,#1f998a 207px,#21908d 217px,#39558c 229px,#3c4e8a 250px,#345f8d 259px,#20938c 269px,#22a784 281px,#36b778 283px,#4dc26b 284px,#b9de29 287px,#d4e21b 288px,#e2e419 289px,#e1e31c 290px,#c2df28 292px,#6ccc59 296px,#38b877 300px,#22a784 304px,#1f988b 317px,#228c8d 325px,#39568c 336px,#3c4e8a 356px,#365d8d 365px,#21908c 373px,#28ac81 376px,#5ac764 380px,#59c765 383px,#3cb975 388px,#3ab776 393px,#54c667 400px,#3ebb74 403px,#23a784 406px,#1f978b 412px,#1fa088 427px,#30b37c 431px,#63ca5f 437px,#63ca5e 444px,#26ab82 452px,#22a785 453px)"></i><i style="height:3.00px;background:linear-gradient(90deg,#4dc36b 5px,#59c765 13px,#40bd73 15px,#22a784 17px,#1f958b 20px,#1f9a8a 26px,#25ab82 28px,#50c46a 30px,#77d153 32px,#95d840 43px,#b7de2a 46px,#bade28 47px,#addc30 48px,#8ed645 49px,#36b878 51px,#21a386 52px,#2a768e 55px,#355f8d 60px,#34618d 71px,#2a788e 75px,#20958b 77px,#23a983 78px,#40bd73 79px,#8ad547 81px,#9fda39 82px,#a4db36 84px,#91d743 91px,#87d549 103px,#80d34d 104px,#6bcd5a 105px,#28ad81 107px,#1f9a8a 108px,#25848e 110px,#25848e 113px,#1f998a 115px,#26ab82 116px,#61ca60 118px,#73d055 119px,#72cf56 125px,#6dce59 134px,#8dd645 140px,#9fda3a 144px,#89d547 159px,#32b57a 182px,#1e9c89 197px,#218f8d 217px,#39568c 229px,#3c4e8a 248px,#365d8d 258px,#1f958b 269px,#21a685 282px,#2db27d 284px,#3dbb74 285px,#79d151 287px,#cae021 289px,#eae51b 290px,#fce724 291px,#f6e621 294px,#dde322 296px,#afdc30 298px,#48c16e 302px,#28ae80 305px,#1e9b8a 315px,#20928c 324px,#39558c 336px,#3c4f8a 357px,#365d8d 365px,#25858e 371px,#1f9e88 373px,#28ad80 374px,#54c567 376px,#62cb5f 377px,#63cb5f 378px,#29a981 382px,#24878d 387px,#25848d 393px,#239d87 398px,#3cba75 401px,#57c766 403px,#52c469 405px,#27ac81 408px,#1e9c89 413px,#20a486 425px,#37b778 428px,#7dd24f 432px,#85d44a 434px,#5dc762 440px,#67cb5c 443px,#87d549 447px,#81d34c 449px,#3dbb74 453px)"></i><i style="height:3.00px;background:linear-gradient(90deg,#60ca60 5px,#6fce58 13px,#5ec961 15px,#2daf7e 18px,#209e88 22px,#28aa82 26px,#44bd70 28px,#88d548 31px,#95d840 34px,#a1da38 42px,#c5e022 46px,#bddf26 47px,#a1da38 48px,#41bd72 50px,#22a784 51px,#26828e 53px,#31678e 56px,#375b8d 64px,#32648e 73px,#297b8e 76px,#1f9e89 78px,#30b47c 79px,#88d548 81px,#a9dc33 82px,#b7de2a 83px,#acdc31 86px,#9cd93c 94px,#93d741 103px,#84d44a 104px,#33b67a 106px,#1f9e89 107px,#277f8e 109px,#297a8e 113px,#238a8d 115px,#1f9d89 116px,#31b57b 117px,#7cd250 119px,#88d548 120px,#81d34c 135px,#a5db36 144px,#7dd24f 156px,#33b679 172px,#1f9e88 191px,#228c8d 210px,#25858e 219px,#39558c 230px,#3b508b 252px,#30688e 260px,#1f978b 269px,#22a784 283px,#38b977 286px,#66cc5d 288px,#d9e21d 291px,#f5e620 292px,#fde725 294px,#fae722 298px,#e9e41e 299px,#c7e023 300px,#5ec961 303px,#37b878 305px,#23a983 308px,#21908c 325px,#38578c 336px,#3c4e8a 353px,#38588c 363px,#2a788e 369px,#1f9e89 372px,#2ab07f 373px,#61ca60 375px,#66cc5d 376px,#55c667 377px,#25a883 379px,#238a8d 381px,#2b748e 385px,#2c738e 396px,#24888d 400px,#22a386 402px,#5ac864 405px,#5dc962 406px,#2ab07f 409px,#1f9f88 413px,#20a486 423px,#29af80 425px,#4bc26d 427px,#80d34d 429px,#90d743 430px,#92d742 431px,#69cc5b 433px,#38b677 435px,#25a484 437px,#21998a 441px,#2cad7f 445px,#50c269 447px,#87d548 449px,#99d93d 450px,#99d93d 451px,#8ad547 452px,#71cf57 453px)"></i><i style="height:3.00px;background:linear-gradient(90deg,#67cc5d 5px,#7bd250 16px,#6bcc59 22px,#7cd14f 25px,#a2da37 29px,#a5db36 35px,#a3db37 41px,#c3e023 45px,#c4e022 46px,#b3dd2c 47px,#8ed645 48px,#2eb37c 50px,#1f9c89 51px,#2d708e 54px,#365c8d 59px,#355f8d 72px,#2a788e 76px,#1f9a8a 78px,#2bb07f 79px,#88d548 81px,#b1dd2e 82px,#c4e022 83px,#c1df24 85px,#abdc31 89px,#96d840 103px,#83d44c 104px,#59c765 105px,#2ab07f 106px,#1f978b 107px,#287c8e 109px,#287c8e 114px,#1f968b 116px,#29af7f 117px,#56c666 118px,#7ed34e 119px,#8fd744 120px,#87d549 137px,#8fd744 144px,#36b878 168px,#1f9b8a 189px,#277f8e 206px,#287c8e 220px,#3a528b 232px,#3a548b 254px,#2a768e 262px,#1f988b 269px,#22a784 284px,#33b67a 287px,#55c667 289px,#b5dd2c 292px,#d6e220 293px,#ece51f 294px,#fde725 296px,#fae723 300px,#e5e41c 301px,#bfdf26 302px,#70cf57 304px,#3cbb75 306px,#27ad81 308px,#1f9e89 318px,#218f8d 326px,#39578c 337px,#3c4f8a 355px,#355f8d 364px,#24878e 370px,#21a585 372px,#35b878 373px,#56c666 374px,#6bcd5a 375px,#66cc5d 376px,#2ab07f 378px,#1f9c89 379px,#29798e 382px,#2e6e8e 392px,#2a788e 399px,#1f978b 402px,#24aa83 403px,#55c667 405px,#5fc961 406px,#55c667 407px,#2eb37c 409px,#20a486 411px,#1fa088 421px,#26ad81 424px,#32b67a 425px,#67cc5c 427px,#86d549 428px,#99d93d 429px,#95d840 430px,#7ad151 431px,#2fb37c 433px,#20a287 434px,#24878e 437px,#24888e 444px,#21a386 447px,#31b47b 448px,#81d34d 450px,#9eda3a 451px,#a4db36 452px,#93d741 453px)"></i><i style="height:3.00px;background:linear-gradient(90deg,#64cb5e 5px,#8bd647 19px,#c4e023 29px,#b7de2a 35px,#a7db34 41px,#c0df25 45px,#bedf25 46px,#acdc31 47px,#86d44a 48px,#2ab07f 50px,#1f9a8a 51px,#2e6e8e 54px,#365c8d 59px,#34608d 72px,#297b8e 76px,#1f9e89 78px,#32b57a 79px,#9ad93d 81px,#c3e023 82px,#d7e21a 83px,#d2e21b 85px,#bddf26 89px,#99d93d 103px,#87d549 104px,#5fca61 105px,#30b47c 106px,#1f9b8a 107px,#287e8e 109px,#297a8e 113px,#24888e 115px,#1f9b8a 116px,#31b47b 117px,#61ca60 118px,#89d548 119px,#9ad93d 120px,#92d742 129px,#6acd5b 148px,#32b57a 168px,#1f978b 187px,#2b758e 202px,#2d718e 222px,#3b508b 235px,#39568c 254px,#297a8e 262px,#1f998a 269px,#21a685 285px,#36b778 289px,#76d053 293px,#d0e124 297px,#ede51f 299px,#f7e621 301px,#ebe51a 302px,#d2e21d 303px,#62ca5f 306px,#44bf70 307px,#2aaf7f 309px,#1fa088 316px,#20938c 326px,#38598c 338px,#3c508b 353px,#34618d 363px,#228c8d 370px,#20a486 372px,#30b47b 373px,#6bcd5a 375px,#79d152 376px,#6fce57 377px,#39b777 379px,#27a882 380px,#25868d 383px,#2c748e 389px,#287e8e 397px,#24a385 401px,#30b27c 402px,#5cc863 404px,#65cc5d 405px,#5ec961 406px,#28ae80 409px,#1f9f88 413px,#20a387 422px,#27ad81 424px,#33b67a 425px,#6acd5b 427px,#8ad547 428px,#9eda3a 429px,#9dd93b 430px,#81d34d 431px,#33b57a 433px,#21a486 434px,#23898d 437px,#23898d 444px,#22a585 447px,#35b779 448px,#88d548 450px,#a6db35 451px,#aadc33 452px,#97d83f 453px)"></i><i style="height:3.00px;background:linear-gradient(90deg,#58c765 5px,#79d151 17px,#aadc32 23px,#d7e21a 28px,#d8e21a 32px,#a6db35 40px,#a8db33 43px,#b7de2a 46px,#aadc32 47px,#8bd646 48px,#31b57b 50px,#1f9f88 51px,#2d718e 54px,#365d8d 59px,#34608d 71px,#2a768e 75px,#20958b 77px,#25ab82 78px,#4cc26c 79px,#bcdf27 81px,#dee319 82px,#eae51a 83px,#d1e11c 89px,#9ad93d 103px,#8fd744 104px,#72cf56 105px,#46c06f 106px,#25aa83 107px,#24888e 109px,#277e8e 112px,#23888d 114px,#1f978b 115px,#27ac81 116px,#4dc26b 117px,#7dd24f 118px,#9cd93b 119px,#aadc32 121px,#9bd93c 129px,#5bc864 146px,#2bb07e 168px,#1f988b 184px,#2d6f8e 199px,#306a8e 224px,#3c508b 238px,#39568c 253px,#287e8e 262px,#1f9a8a 269px,#23a983 288px,#40bc73 294px,#72ce55 298px,#c0df27 302px,#cbe021 303px,#cbe11f 304px,#bedf25 305px,#4ac06d 310px,#28ad81 313px,#1f9d89 323px,#24868e 330px,#375b8d 340px,#3a548c 354px,#306a8e 363px,#20a386 372px,#34b779 374px,#77d053 377px,#81d34c 379px,#37b279 384px,#269c86 388px,#269e86 394px,#3bb676 398px,#6dce59 402px,#63cb5f 404px,#2fb37c 407px,#1fa287 410px,#1fa187 422px,#2ab07f 425px,#50c469 427px,#8dd645 429px,#a1da38 430px,#a6db35 431px,#97d83e 432px,#46bd6f 435px,#2cab80 437px,#24a086 441px,#2cab7f 444px,#48be6e 446px,#9dd93b 449px,#aedc30 450px,#abdc32 451px,#98d83e 452px,#7bd250 453px)"></i><i style="height:3.00px;background:linear-gradient(90deg,#44bf70 5px,#65cb5e 17px,#8dd645 22px,#cbe11f 28px,#d0e11d 31px,#96d83f 40px,#99d93d 44px,#a4db36 46px,#a0da39 47px,#8ed644 48px,#45bf70 50px,#25ab82 51px,#1f978b 52px,#2e6f8e 55px,#355d8d 61px,#32648e 71px,#2a778e 74px,#20938c 76px,#23a884 77px,#42be71 78px,#b0dd2f 80px,#d6e21a 81px,#e8e419 82px,#e4e419 84px,#d2e21b 88px,#bfdf25 94px,#8ad547 104px,#7dd24f 105px,#28ad80 108px,#20968b 110px,#20978b 113px,#21a187 114px,#2db07e 115px,#74d054 117px,#94d840 118px,#a5db36 119px,#acdc31 124px,#8ed644 131px,#52c469 142px,#2db27d 159px,#1f998a 181px,#2f6c8e 197px,#32668e 226px,#3b508b 241px,#365c8d 254px,#1f998a 268px,#24aa83 293px,#34b679 299px,#53c467 302px,#a0d939 306px,#b1dd2e 308px,#a0da39 310px,#3dba74 315px,#25aa83 318px,#21908c 330px,#34608d 342px,#365d8d 354px,#2c748e 362px,#209d88 368px,#35b679 371px,#7fd24e 377px,#8bd646 380px,#7dd24f 382px,#81d34c 386px,#75d054 391px,#75d054 398px,#5ac764 401px,#29ae80 405px,#1f9e89 411px,#20a386 424px,#30b47c 427px,#55c567 429px,#9cd93b 432px,#addc31 434px,#8dd445 440px,#95d73f 443px,#b0dd2f 447px,#a2da38 449px,#48c06e 453px)"></i><i style="height:3.00px;background:linear-gradient(90deg,#30b47b 5px,#4ac16d 18px,#97d83f 29px,#92d741 33px,#70cf57 41px,#78d152 45px,#83d44c 48px,#75d054 49px,#3cbb75 51px,#24a983 52px,#24878e 54px,#2f6c8e 57px,#34608d 65px,#2e6e8e 71px,#23898d 74px,#1f988a 75px,#26ab82 76px,#43be71 77px,#9fda39 79px,#bfdf25 80px,#cde11e 81px,#aedc30 86px,#9fda39 93px,#71cf56 103px,#64cb5e 106px,#2cb17e 110px,#2fb37c 113px,#50c46a 115px,#7ad251 117px,#8fd644 120px,#8bd646 126px,#3dbb74 141px,#25ab82 156px,#1f978b 180px,#306a8e 196px,#32648e 228px,#3b528b 243px,#34618d 254px,#1f998a 267px,#24aa83 302px,#35b679 305px,#63ca5e 308px,#9dd93a 311px,#a9dc33 313px,#94d740 315px,#45be70 319px,#2db17d 321px,#20958b 332px,#2f6a8e 344px,#2f6c8e 354px,#24898d 361px,#24a285 364px,#43bc71 367px,#7fd34e 371px,#8ed644 374px,#77d053 378px,#3cba75 383px,#55c566 389px,#4dc16b 394px,#23a884 402px,#1e9d89 416px,#21a685 427px,#32b57a 430px,#88d448 436px,#a0d939 439px,#9bd83c 443px,#6fcd57 447px,#36b778 451px,#28ad81 453px)"></i><i style="height:3.00px;background:linear-gradient(90deg,#23a983 5px,#35b779 21px,#52c469 30px,#46bf6f 43px,#5fc961 49px,#4fc36a 51px,#29ae80 53px,#21918c 55px,#2d708e 59px,#306a8e 66px,#277e8e 71px,#21a286 74px,#2fb27c 75px,#88d548 78px,#97d83f 79px,#8ed644 81px,#70ce57 84px,#55c667 97px,#38b977 112px,#58c765 119px,#55c567 127px,#29ae80 141px,#1f988b 178px,#30698e 196px,#32648e 230px,#39568c 245px,#2f6b8e 255px,#1f998a 266px,#21a685 306px,#2db17d 309px,#56c566 312px,#a2da38 316px,#a6db35 318px,#7bd050 322px,#28a982 334px,#23898d 341px,#277f8e 347px,#23948a 355px,#33b17b 360px,#75d054 365px,#83d44b 368px,#69cc5b 372px,#34b679 378px,#21a685 385px,#1f9f88 426px,#2baf7f 434px,#40bb73 441px,#20a486 452px,#20a386 453px)"></i><i style="height:3.00px;background:linear-gradient(90deg,#1f9f88 5px,#2cb17e 47px,#3fbc73 52px,#27ac81 55px,#228e8c 58px,#2a788e 63px,#26828e 68px,#23a485 72px,#3dbb74 74px,#5ec961 76px,#61ca60 78px,#3bba75 82px,#27ac81 106px,#29ae80 129px,#1f9c89 157px,#20928c 180px,#30698e 196px,#31678e 231px,#365b8d 245px,#2c738e 255px,#1f998a 265px,#20a287 310px,#2fb27d 314px,#5cc762 317px,#83d34b 319px,#9fda39 326px,#94d740 331px,#3db875 341px,#2caa80 345px,#54c467 354px,#73cf55 361px,#52c368 366px,#29ae80 372px,#1f9e89 385px,#1fa088 435px,#1f9e89 453px)"></i><i style="height:3.00px;background:linear-gradient(90deg,#1f988b 5px,#21a486 50px,#2db27d 56px,#219b89 64px,#27ab81 69px,#40bd72 74px,#21a486 81px,#21908c 180px,#30688e 198px,#2f6c8e 221px,#2f6b8e 232px,#33628d 245px,#277e8e 256px,#1f998a 265px,#1f9d89 314px,#3bb875 324px,#80d24d 336px,#84d44b 342px,#69cc5b 351px,#25a983 364px,#1f998a 379px,#1f988b 453px)"></i><i style="height:3.00px;background:linear-gradient(90deg,#20938c 5px,#1f9c89 53px,#2eb37c 63px,#2db17d 71px,#1f998a 79px,#218e8d 181px,#30688e 201px,#2e6f8e 220px,#2c738e 231px,#30698e 245px,#1f998a 264px,#1f988b 318px,#28ab81 335px,#4bc06c 345px,#28ab81 351px,#1f988b 364px,#20948c 453px)"></i><i style="height:3.00px;background:linear-gradient(90deg,#218f8d 5px,#1f968b 57px,#20a087 67px,#21908c 84px,#238a8d 183px,#2f6b8e 204px,#2a778e 222px,#2a788e 233px,#2c738e 246px,#1f988b 263px,#21918c 314px,#1f988b 348px,#218f8d 428px,#218f8d 453px)"></i><i style="height:3.00px;background:linear-gradient(90deg,#238b8d 5px,#24888e 184px,#2d718e 209px,#277f8e 231px,#29798e 245px,#1f968b 262px,#238b8d 307px,#238b8d 453px)"></i><i style="height:3.00px;background:linear-gradient(90deg,#24868e 5px,#26808e 192px,#29798e 214px,#277f8e 233px,#26808e 247px,#20928c 262px,#24868e 304px,#24868e 453px)"></i><i style="height:3.00px;background:linear-gradient(90deg,#26818e 5px,#27808e 245px,#228b8d 263px,#26818e 310px,#26818e 453px)"></i><i style="height:3.00px;background:linear-gradient(90deg,#287c8e 5px,#27808e 248px,#27808e 272px,#287c8e 453px)"></i><i style="height:3.00px;background:linear-gradient(90deg,#2a778e 5px,#287d8e 254px,#2a778e 453px)"></i><i style="height:3.00px;background:linear-gradient(90deg,#2c738e 5px,#2c738e 453px)"></i><i style="height:3.00px;background:linear-gradient(90deg,#2e6f8e 5px,#2e6f8e 453px)"></i><i style="height:3.00px;background:linear-gradient(90deg,#306a8e 5px,#306a8e 453px)"></i><i style="height:3.00px;background:linear-gradient(90deg,#32668e 5px,#32668e 453px)"></i><i style="height:3.00px;background:linear-gradient(90deg,#34618d 5px,#34618d 453px)"></i><i style="height:3.00px;background:linear-gradient(90deg,#365c8d 5px,#365c8d 453px)"></i><i style="height:3.00px;background:linear-gradient(90deg,#38578c 5px,#38578c 453px)"></i><i style="height:3.00px;background:linear-gradient(90deg,#3b518b 5px,#3b518b 453px)"></i><i style="height:3.00px;background:linear-gradient(90deg,#3e4b89 5px,#3e4b89 453px)"></i><i style="height:3.00px;background:linear-gradient(90deg,#414487 5px,#414487 453px)"></i><i style="height:3.00px;background:linear-gradient(90deg,#433d85 5px,#433d85 453px)"></i><i style="height:3.00px;background:linear-gradient(90deg,#453681 5px,#453681 453px)"></i><i style="height:3.00px;background:linear-gradient(90deg,#47307d 5px,#47307d 453px)"></i><i style="height:3.00px;background:linear-gradient(90deg,#472b7a 5px,#472b7a 453px)"></i><i style="height:3.00px;background:linear-gradient(90deg,#482677 5px,#482677 453px)"></i><i style="height:3.00px;background:linear-gradient(90deg,#482273 5px,#482273 453px)"></i><i style="height:3.00px;background:linear-gradient(90deg,#481e6f 5px,#481e6f 453px)"></i><i style="height:3.00px;background:linear-gradient(90deg,#48196b 5px,#48196b 453px)"></i><i style="height:3.00px;background:linear-gradient(90deg,#481567 5px,#481567 453px)"></i><i style="height:3.00px;background:linear-gradient(90deg,#471063 5px,#471063 453px)"></i><i style="height:7.00px;background:linear-gradient(90deg,#460b5e 5px,#460b5e 453px)"></i></div></div><div class="mp" style="left:577.2px;top:729.7px;width:449.2px;height:224.7px"><div class="mq" style="left:-4px;top:-4px;width:457.2px;filter:blur(0.9px)"><i style="height:7.00px;background:linear-gradient(90deg,#470d60 5px,#470d60 453px)"></i><i style="height:3.00px;background:linear-gradient(90deg,#470f62 5px,#470f62 453px)"></i><i style="height:3.00px;background:linear-gradient(90deg,#471163 5px,#471163 453px)"></i><i style="height:3.00px;background:linear-gradient(90deg,#471265 5px,#471265 453px)"></i><i style="height:3.00px;background:linear-gradient(90deg,#481466 5px,#481466 453px)"></i><i style="height:3.00px;background:linear-gradient(90deg,#481568 5px,#481568 453px)"></i><i style="height:3.00px;background:linear-gradient(90deg,#481769 5px,#481769 453px)"></i><i style="height:3.00px;background:linear-gradient(90deg,#481a6c 5px,#481a6c 453px)"></i><i style="height:3.00px;background:linear-gradient(90deg,#481d6f 5px,#481d6f 453px)"></i><i style="height:3.00px;background:linear-gradient(90deg,#482071 5px,#482071 453px)"></i><i style="height:3.00px;background:linear-gradient(90deg,#482374 5px,#482374 453px)"></i><i style="height:3.00px;background:linear-gradient(90deg,#482676 5px,#482676 453px)"></i><i style="height:3.00px;background:linear-gradient(90deg,#482978 5px,#482978 453px)"></i><i style="height:3.00px;background:linear-gradient(90deg,#472c7b 5px,#472c7b 453px)"></i><i style="height:3.00px;background:linear-gradient(90deg,#46327f 5px,#46327f 453px)"></i><i style="height:3.00px;background:linear-gradient(90deg,#453882 5px,#453882 453px)"></i><i style="height:3.00px;background:linear-gradient(90deg,#433e85 5px,#433e85 453px)"></i><i style="height:3.00px;background:linear-gradient(90deg,#414487 5px,#414487 237px,#414487 453px)"></i><i style="height:3.00px;background:linear-gradient(90deg,#3e4a89 5px,#404588 191px,#404588 214px,#3e4a89 453px)"></i><i style="height:3.00px;background:linear-gradient(90deg,#3c4f8b 5px,#3e4b89 189px,#424186 206px,#3c4f8a 228px,#3c4f8b 453px)"></i><i style="height:3.00px;background:linear-gradient(90deg,#39558c 5px,#3b518b 188px,#414287 201px,#3d4d8a 215px,#3a548b 232px,#39558c 453px)"></i><i style="height:3.00px;background:linear-gradient(90deg,#375a8c 5px,#39568c 188px,#414487 201px,#3c508b 214px,#375a8c 226px,#375a8c 266px,#3a548b 329px,#375a8c 453px)"></i><i style="height:3.00px;background:linear-gradient(90deg,#355f8d 5px,#375a8d 189px,#404788 201px,#3a538b 213px,#355f8d 224px,#365c8d 260px,#38588c 294px,#3b528b 325px,#355f8d 361px,#355f8d 453px)"></i><i style="height:3.00px;background:linear-gradient(90deg,#32648e 5px,#34608d 190px,#3d4c8a 203px,#32648e 222px,#31678e 237px,#287c8e 245px,#34608d 254px,#34608d 287px,#3c508b 315px,#32648e 360px,#32648e 453px)"></i><i style="height:3.00px;background:linear-gradient(90deg,#30698e 5px,#32648e 192px,#38588c 205px,#306a8e 221px,#2c728e 228px,#21908c 242px,#23898d 250px,#306a8e 260px,#34608d 289px,#3b508b 311px,#375b8d 336px,#30698e 357px,#30698e 453px)"></i><i style="height:3.00px;background:linear-gradient(90deg,#2e6e8e 5px,#30688e 196px,#30698e 209px,#2b758e 225px,#1f978b 230px,#26818e 240px,#2c748e 245px,#20928c 253px,#26838e 262px,#2d708e 270px,#34608d 291px,#3b518b 310px,#375b8d 335px,#2e6d8e 354px,#2e6e8e 453px)"></i><i style="height:3.00px;background:linear-gradient(90deg,#2c738e 5px,#2b748e 215px,#287d8e 223px,#1f9c8a 228px,#23898d 231px,#2e6f8e 235px,#38588c 244px,#2d718e 252px,#1f9c89 261px,#1f9c89 264px,#29798e 270px,#355f8d 293px,#3b528b 312px,#365b8d 334px,#2d718e 354px,#2c738e 453px)"></i><i style="height:3.00px;background:linear-gradient(90deg,#2a778e 5px,#287c8e 218px,#20948b 223px,#1f9f88 226px,#24878e 229px,#345f8d 233px,#3b528b 244px,#34618d 255px,#25848e 261px,#20a387 264px,#21a287 267px,#277f8e 273px,#3a548c 307px,#365c8d 332px,#2b758e 359px,#2a768e 430px,#2a798e 453px)"></i><i style="height:3.00px;background:linear-gradient(90deg,#287c8e 5px,#26818e 214px,#20978a 220px,#21a685 223px,#20928c 226px,#32658e 230px,#3b528b 236px,#39558c 255px,#2f6c8e 261px,#21a486 266px,#29ae80 269px,#21918c 273px,#277f8e 279px,#38578c 308px,#34608d 331px,#287c8e 373px,#2c748e 407px,#277f8e 453px)"></i><i style="height:3.00px;background:linear-gradient(90deg,#26818e 5px,#24868e 211px,#20998a 216px,#29af80 220px,#20a088 223px,#31678e 228px,#3b528b 234px,#3a538b 256px,#31668e 262px,#228c8d 266px,#22a585 268px,#35b779 271px,#209d88 275px,#24868e 280px,#365c8d 310px,#31678e 343px,#2c728e 358px,#26818e 373px,#297a8e 401px,#2a798e 427px,#25858e 453px)"></i><i style="height:3.00px;background:linear-gradient(90deg,#24868e 5px,#23888e 74px,#228b8d 208px,#209f88 213px,#36b778 217px,#26ab82 220px,#20948b 222px,#32648e 227px,#3c508b 235px,#3a538b 257px,#2f6b8e 264px,#1f9a8a 269px,#2db17d 271px,#41bd72 273px,#39b977 275px,#20a087 278px,#238a8d 283px,#32658e 313px,#2f6b8e 335px,#34618d 351px,#24868e 371px,#26828e 398px,#2a788e 423px,#228c8d 452px,#228c8d 453px)"></i><i style="height:3.00px;background:linear-gradient(90deg,#238b8d 5px,#20918c 55px,#1f9d89 66px,#228d8d 85px,#21918c 205px,#21a486 210px,#41bd72 214px,#3ebc74 216px,#20a287 219px,#2d718e 224px,#3a548c 231px,#3c4f8a 254px,#32648e 263px,#20928c 270px,#23a784 272px,#47c06f 275px,#48c16e 277px,#25a983 280px,#218f8d 285px,#2c738e 315px,#2c738e 331px,#375a8d 346px,#31678e 358px,#238b8d 371px,#228b8d 396px,#287d8e 423px,#20948c 452px,#20948c 453px)"></i><i style="height:3.00px;background:linear-gradient(90deg,#218e8d 5px,#25848e 17px,#20918c 31px,#1f9c89 53px,#24aa83 61px,#1f958b 83px,#1f978b 119px,#20918c 193px,#21a386 205px,#33b57a 209px,#49c16d 212px,#31b47b 215px,#1f988a 218px,#32648e 226px,#3c4f8a 235px,#3a538b 258px,#2a788e 267px,#22a685 274px,#51c469 278px,#47c06f 280px,#23a784 283px,#20928c 288px,#26828e 319px,#297a8e 329px,#37598c 341px,#365c8d 356px,#218f8d 372px,#1f9d89 392px,#20918c 400px,#20968b 406px,#26838e 422px,#1f9b8a 453px)"></i><i style="height:3.00px;background:linear-gradient(90deg,#218f8d 5px,#2b748e 14px,#25858e 21px,#1f998a 28px,#21a585 50px,#33b67a 56px,#1f9c89 62px,#238a8d 68px,#20a386 79px,#21a486 101px,#30b37c 113px,#1f9b8a 128px,#1f978b 190px,#26aa82 199px,#4bc26d 208px,#41bd72 211px,#23a884 214px,#23898d 219px,#39558c 230px,#3d4e8a 251px,#375b8d 261px,#1fa088 275px,#2cb17e 277px,#54c568 280px,#56c666 281px,#22a685 286px,#20938c 292px,#25858e 326px,#375a8c 338px,#38578c 355px,#2c728e 364px,#20938c 372px,#27ac81 382px,#2fb37c 391px,#1f9f88 401px,#22a785 406px,#20938c 427px,#1fa287 453px)"></i><i style="height:3.00px;background:linear-gradient(90deg,#238a8d 5px,#2f6c8e 11px,#2d6f8e 19px,#1fa187 27px,#2cb17e 48px,#49c16e 53px,#42be72 55px,#23a784 58px,#277f8e 63px,#2c748e 69px,#24878e 74px,#22a884 79px,#2db17d 98px,#49c16d 105px,#37b878 113px,#40bd72 121px,#24a983 128px,#21a486 158px,#20a088 181px,#27ab81 191px,#4cc26c 200px,#41bd72 205px,#1f9f88 213px,#2e6e8e 224px,#3b528b 232px,#3b528b 257px,#2e6e8e 265px,#1f968b 274px,#24aa83 278px,#56c666 282px,#56c666 284px,#26ab82 288px,#1f968b 294px,#228c8d 324px,#38598c 337px,#38578c 357px,#2b748e 365px,#1f9f88 373px,#37b878 380px,#26a982 391px,#2eb37c 400px,#21a685 406px,#26ab82 425px,#20a287 440px,#23a984 453px)"></i><i style="height:3.00px;background:linear-gradient(90deg,#25848e 5px,#31678e 10px,#2f6b8e 20px,#24888e 24px,#21a685 27px,#2cb17e 33px,#3aba76 46px,#5ec961 51px,#55c667 53px,#25aa83 56px,#21918c 58px,#2e6e8e 63px,#30698e 71px,#25838e 76px,#1fa187 79px,#35b778 83px,#3cbb75 95px,#62ca5f 101px,#58c765 103px,#29ac81 107px,#21958b 112px,#23a385 117px,#39b976 120px,#57c766 123px,#4bc26c 126px,#32b57b 130px,#3cba75 139px,#40bd72 147px,#33b57a 173px,#49c16e 190px,#4ec36b 195px,#21a486 206px,#238b8d 219px,#39578c 230px,#3d4e8a 247px,#39578c 259px,#1f948c 273px,#21a486 279px,#3cbb75 282px,#5fc961 285px,#53c568 287px,#25aa83 291px,#1f998a 297px,#21908c 323px,#38598c 336px,#38578c 358px,#2c728e 365px,#1f9f88 371px,#3fbc73 376px,#33b67a 379px,#219f87 382px,#25858d 387px,#24878d 393px,#22a485 398px,#34b679 402px,#1fa287 408px,#30b47b 421px,#37b877 430px,#2fb37c 446px,#29af7f 453px)"></i><i style="height:3.00px;background:linear-gradient(90deg,#277f8e 5px,#31678e 9px,#306a8e 21px,#26828e 24px,#1e9c89 26px,#32b67a 29px,#48c16e 45px,#6ece58 50px,#59c765 52px,#2db17d 54px,#21a386 55px,#2b758e 59px,#34608d 65px,#30688e 74px,#24888e 78px,#1fa187 80px,#3dbb74 83px,#4ac16d 86px,#49c16e 93px,#67cc5d 97px,#75d054 99px,#70cf57 100px,#35b679 103px,#209c89 105px,#297b8e 109px,#2a788e 115px,#21908c 119px,#25a883 121px,#5dc962 124px,#6fce58 126px,#48c06e 131px,#55c667 137px,#6bcd5a 143px,#4ac16d 190px,#24a983 198px,#1f988b 212px,#23898e 220px,#39568c 231px,#3c4f8a 251px,#34608d 261px,#1f948c 272px,#22a785 281px,#3ebc74 284px,#63cb5f 287px,#5dc962 289px,#2cb07e 293px,#1f9e88 298px,#20928c 323px,#375a8c 335px,#39558c 357px,#2f6b8e 364px,#1fa188 370px,#4bc26d 374px,#43bf71 376px,#27ac81 378px,#20948b 380px,#2b768e 384px,#2e6f8e 392px,#277f8e 397px,#22a585 401px,#36b878 404px,#1fa088 410px,#27ad81 424px,#55c667 444px,#4dc26b 447px,#32b67a 452px,#30b47b 453px)"></i><i style="height:3.00px;background:linear-gradient(90deg,#277f8e 5px,#31668e 9px,#306a8e 21px,#26828e 24px,#1f9e89 26px,#3bba75 29px,#51c469 44px,#75d054 49px,#6ece58 50px,#2aaf7f 53px,#1fa088 54px,#2d708e 58px,#355d8d 64px,#33628d 74px,#287d8e 78px,#21a585 81px,#4bc26c 84px,#57c766 87px,#53c568 92px,#68cc5c 95px,#7dd24f 97px,#80d34d 98px,#76d054 99px,#28ad80 102px,#1f9c89 103px,#2a798e 106px,#306a8e 111px,#2c728e 118px,#228d8d 121px,#1f9c89 122px,#28ad80 123px,#78d152 126px,#84d44b 127px,#78d152 129px,#5dc962 132px,#87d549 143px,#58c765 168px,#20a486 194px,#20948c 214px,#24868e 221px,#39568c 232px,#3c508b 252px,#33638d 261px,#1f988b 272px,#24aa83 283px,#42be71 286px,#6bcd5a 289px,#6bcd5a 291px,#2aaf7f 297px,#1f9f88 304px,#20948c 323px,#37598c 335px,#39568c 358px,#2f6b8e 364px,#1f9d89 369px,#24aa83 370px,#57c766 373px,#5ac864 374px,#38b977 376px,#25ab82 377px,#228d8d 379px,#2c738e 382px,#306a8e 392px,#2a778e 398px,#1fa187 402px,#37b977 405px,#1fa187 411px,#21a586 427px,#32b57a 435px,#6fce58 445px,#54c667 448px,#38b977 452px,#35b779 453px)"></i><i style="height:3.00px;background:linear-gradient(90deg,#24868e 5px,#30698e 9px,#30698e 20px,#287d8e 23px,#21a585 26px,#43be71 29px,#55c667 43px,#77d153 48px,#71cf56 49px,#46c06f 51px,#2cb17e 52px,#1fa187 53px,#2a768e 56px,#34608d 60px,#34608d 74px,#2b768e 78px,#1fa088 81px,#3dbb74 83px,#5dc962 85px,#5fca61 88px,#5bc864 92px,#86d549 97px,#7fd34e 98px,#68cc5c 99px,#2aaf7f 101px,#1f9d89 102px,#2b758e 105px,#31688e 110px,#2d6f8e 119px,#228c8d 122px,#1f9e89 123px,#2bb17e 124px,#70cf57 126px,#89d547 127px,#93d741 128px,#79d152 131px,#6dce59 133px,#8bd647 143px,#2eb37d 173px,#1f968b 197px,#228b8d 215px,#287d8e 223px,#39558c 234px,#3b528b 253px,#2e6d8e 262px,#1f998a 271px,#24ab82 284px,#39b977 287px,#78d152 292px,#77d153 294px,#30b47b 300px,#20a586 306px,#1f968b 323px,#375a8c 335px,#39558c 356px,#31678e 363px,#1f958b 368px,#20a387 369px,#2cb17e 370px,#59c765 372px,#66cc5d 373px,#63cb5f 374px,#36b878 376px,#22a784 377px,#287d8e 380px,#2f6b8e 384px,#2e6f8e 397px,#25838e 400px,#1e9d89 402px,#38b977 405px,#32b67a 407px,#20a287 411px,#20a287 431px,#2db27d 439px,#4fc36a 445px,#35b778 453px)"></i><i style="height:3.00px;background:linear-gradient(90deg,#20938c 5px,#2d708e 9px,#31678e 16px,#2a778e 21px,#21a486 25px,#41bd72 28px,#4dc36c 38px,#5cc863 44px,#72cf56 47px,#70cf57 48px,#64cb5e 49px,#21a685 52px,#2a798e 55px,#34608d 59px,#355f8d 74px,#2b748e 78px,#1f9e89 81px,#28ae80 82px,#64cb5e 85px,#69cd5b 87px,#58c765 91px,#6bcd5a 94px,#82d44c 96px,#86d54a 97px,#7cd250 98px,#40bd73 100px,#25ab82 101px,#1f988b 102px,#2c738e 105px,#31678e 111px,#2e6d8e 119px,#23888e 122px,#1f998a 123px,#26ac81 124px,#6acd5b 126px,#88d548 127px,#96d840 128px,#8ad547 130px,#6ece58 133px,#76d153 143px,#32b67a 164px,#1fa088 186px,#287c8e 208px,#29798e 223px,#3a548b 237px,#39568c 254px,#2a788e 263px,#1e9c89 271px,#28af80 286px,#44bf70 290px,#86d549 295px,#85d44a 297px,#37b878 303px,#23a983 308px,#1f958c 324px,#365b8d 335px,#3a548b 353px,#345f8d 361px,#26818e 366px,#21a685 369px,#44bf70 371px,#68cc5c 373px,#69cd5b 374px,#43be71 376px,#2cb17e 377px,#20a187 378px,#287c8e 381px,#2f6b8e 386px,#2d708e 396px,#228d8d 400px,#21a585 402px,#39b976 405px,#20a486 410px,#1f9e89 429px,#29af80 442px,#33b679 450px,#31b47b 453px)"></i><i style="height:3.00px;background:linear-gradient(90deg,#21a486 5px,#2a788e 11px,#2b758e 17px,#20968b 22px,#2eb37d 25px,#43bf71 28px,#55c667 43px,#6bcd5a 47px,#58c765 49px,#2ab07f 51px,#1f9f88 52px,#2b748e 55px,#355f8d 59px,#355f8d 74px,#2b758e 78px,#1fa187 81px,#2db27d 82px,#5dc963 84px,#6bcd5a 85px,#6cce59 87px,#57c766 91px,#67cc5d 94px,#83d44b 97px,#7fd34e 98px,#6bcd5a 99px,#2eb27d 101px,#1fa088 102px,#2a788e 105px,#31688e 110px,#2e6d8e 118px,#26828e 121px,#1fa187 123px,#2fb47c 124px,#72cf56 126px,#89d548 127px,#90d743 128px,#67cc5c 133px,#56c666 145px,#30b47c 159px,#1f988a 186px,#2d718e 204px,#2d6f8e 226px,#3a538b 241px,#365d8d 255px,#1f9f88 271px,#30b47c 288px,#48c16e 292px,#8dd645 297px,#97d83f 299px,#87d549 301px,#3cbb75 306px,#27ad81 310px,#1f988b 324px,#365c8d 336px,#39558c 354px,#31678e 362px,#20918c 367px,#23a884 369px,#5dc962 373px,#63cb5f 375px,#34b679 378px,#209e88 380px,#287d8e 384px,#2c728e 391px,#24878d 397px,#21a386 400px,#37b977 403px,#2eb37d 406px,#1fa287 410px,#1fa187 436px,#2bb07e 453px)"></i><i style="height:3.00px;background:linear-gradient(90deg,#28ae80 5px,#21928c 11px,#228d8d 16px,#26ab82 22px,#3dbc74 27px,#4ec36b 43px,#60ca61 47px,#4ec36b 49px,#27ad81 51px,#1f9e89 52px,#2b748e 55px,#355f8d 59px,#34618d 74px,#297b8e 78px,#1f988b 80px,#23a983 81px,#67cc5c 84px,#71cf56 85px,#62ca5f 88px,#53c568 92px,#64cb5e 95px,#7dd24f 98px,#77d153 99px,#4ac16d 101px,#30b37c 102px,#22a486 103px,#277e8e 106px,#2f6c8e 111px,#2c728e 117px,#24888d 120px,#21a386 122px,#2fb37c 123px,#66cc5d 125px,#79d152 126px,#80d34d 127px,#56c666 133px,#27ad81 159px,#1f988b 183px,#306a8e 201px,#306a8e 219px,#31668e 231px,#39568c 246px,#30698e 257px,#1f9f88 270px,#35b778 289px,#4bc26d 294px,#96d83f 300px,#9dd93b 302px,#8bd646 304px,#50c36a 308px,#2bb17e 313px,#1f988b 325px,#34608d 336px,#39558c 349px,#32648e 360px,#228c8d 366px,#24aa83 369px,#4cc26c 374px,#51c469 377px,#25a684 383px,#228e8c 389px,#219d88 395px,#39ba76 401px,#1fa188 409px,#1fa287 438px,#26ac81 453px)"></i><i style="height:3.00px;background:linear-gradient(90deg,#26ac81 5px,#22a785 17px,#34b779 29px,#45bf70 44px,#4ec36b 48px,#27ad81 51px,#21918c 53px,#31688e 57px,#365b8d 65px,#32648e 74px,#25858e 78px,#20a386 80px,#47c06f 82px,#6bcd5a 84px,#67cc5c 86px,#4ac16d 90px,#4ac26d 94px,#6ece58 99px,#65cc5d 101px,#2eb27d 104px,#209b89 106px,#277f8e 110px,#277f8e 115px,#209a89 119px,#2cb07e 121px,#60ca61 124px,#68cc5c 126px,#42be72 132px,#22a784 158px,#1f978b 181px,#31668e 199px,#31668e 221px,#32658e 234px,#355d8d 248px,#29798e 259px,#1fa188 270px,#39b977 291px,#4dc36c 297px,#90d743 303px,#91d743 306px,#60c961 311px,#30b47b 316px,#1f9f88 324px,#34618d 338px,#37598c 351px,#2f6c8e 360px,#20a486 368px,#33b67a 372px,#3fbd73 383px,#32b57a 391px,#36b878 399px,#20a287 406px,#1f9f88 437px,#22a884 453px)"></i><i style="height:3.00px;background:linear-gradient(90deg,#21a685 5px,#34b679 44px,#39b977 49px,#20a386 52px,#2e6d8e 57px,#355d8d 63px,#31678e 73px,#25858e 77px,#20a187 79px,#3ebc73 81px,#5dc962 83px,#59c764 85px,#3bba75 89px,#3aba76 96px,#58c765 102px,#45bf70 105px,#26a982 109px,#23a186 114px,#2fb27c 118px,#4fc46a 122px,#49c16e 125px,#30b47c 130px,#1fa088 163px,#20938c 181px,#32658e 197px,#32658e 222px,#30688e 236px,#31688e 250px,#1fa188 270px,#3bba76 298px,#68cc5c 305px,#7ed24f 309px,#72cf56 313px,#32b57b 320px,#1fa088 326px,#32658e 340px,#34618d 352px,#297a8e 360px,#21a685 367px,#2bb17e 372px,#27ac81 380px,#34b679 390px,#1f9f88 406px,#20a387 445px,#20a486 453px)"></i><i style="height:3.00px;background:linear-gradient(90deg,#1fa088 5px,#29af7f 47px,#26ac81 51px,#20948c 54px,#306a8e 59px,#34618d 67px,#2d708e 73px,#20958b 77px,#29af80 79px,#4cc26c 82px,#3cbb75 85px,#29af80 89px,#2bb07e 99px,#41bd72 107px,#3cbb75 116px,#35b779 122px,#23a884 130px,#1f968b 179px,#32648e 197px,#32658e 223px,#2e6e8e 238px,#2c738e 251px,#1f9e89 268px,#32b57a 304px,#57c666 311px,#6bcd5a 316px,#57c666 320px,#29ae80 326px,#218f8c 333px,#2f6b8e 343px,#2d708e 352px,#209a89 361px,#33b57a 366px,#1fa287 380px,#1fa187 398px,#1fa187 446px,#1fa287 453px)"></i><i style="height:3.00px;background:linear-gradient(90deg,#1f9b8a 5px,#20a387 53px,#2e6e8e 61px,#306a8e 68px,#277f8e 73px,#22a685 77px,#3aba76 80px,#31b57b 83px,#20a486 88px,#23a784 104px,#28ad80 116px,#1f9e88 134px,#1f958c 179px,#33638d 198px,#32658e 223px,#2a768e 239px,#27808e 253px,#1e9c89 268px,#27ad81 310px,#4ac16d 317px,#5dc962 321px,#47c06f 327px,#21a187 335px,#277e8e 344px,#21918c 353px,#26ab82 359px,#44bf70 365px,#22a784 372px,#1f9d89 385px,#1f9e89 453px)"></i><i style="height:3.00px;background:linear-gradient(90deg,#1f978b 5px,#1f9e88 51px,#1f9c89 56px,#2a788e 64px,#26828e 70px,#22a585 75px,#2fb47c 79px,#1f9d89 86px,#20918c 180px,#33648d 199px,#31668e 222px,#277e8e 239px,#238a8d 255px,#1f998a 273px,#21a486 315px,#36b778 321px,#49c16d 325px,#44bf71 332px,#22a386 342px,#20a187 348px,#2aaf7f 364px,#1f998a 377px,#1f998a 453px)"></i><i style="height:3.00px;background:linear-gradient(90deg,#20938c 5px,#1f998a 53px,#1f9b8a 60px,#20948b 67px,#29af7f 76px,#1f968b 85px,#218e8d 181px,#32648e 202px,#30688e 221px,#25848e 238px,#1f958b 281px,#1f9c89 319px,#2eb27d 336px,#1f9b8a 367px,#20938c 416px,#20948c 453px)"></i><i style="height:3.00px;background:linear-gradient(90deg,#218f8d 5px,#1f968b 56px,#23a884 73px,#20918c 85px,#23898d 184px,#31678e 206px,#2c728e 223px,#24888e 239px,#1f998a 331px,#1f9f88 346px,#20928c 363px,#21908d 453px)"></i><i style="height:3.00px;background:linear-gradient(90deg,#238b8d 5px,#21918c 59px,#1f9a8a 71px,#228b8d 88px,#25858e 187px,#2e6e8e 210px,#24878e 241px,#228c8d 360px,#238b8d 453px)"></i><i style="height:3.00px;background:linear-gradient(90deg,#24868e 5px,#24868e 83px,#27808e 193px,#2a788e 216px,#25858e 245px,#24868e 453px)"></i><i style="height:3.00px;background:linear-gradient(90deg,#26818e 5px,#287c8e 203px,#26818e 453px)"></i><i style="height:3.00px;background:linear-gradient(90deg,#287c8e 5px,#287c8e 453px)"></i><i style="height:3.00px;background:linear-gradient(90deg,#2a778e 5px,#2a778e 453px)"></i><i style="height:3.00px;background:linear-gradient(90deg,#2c738e 5px,#2c738e 453px)"></i><i style="height:3.00px;background:linear-gradient(90deg,#2e6f8e 5px,#2e6f8e 453px)"></i><i style="height:3.00px;background:linear-gradient(90deg,#306a8e 5px,#306a8e 453px)"></i><i style="height:3.00px;background:linear-gradient(90deg,#32668e 5px,#32668e 453px)"></i><i style="height:3.00px;background:linear-gradient(90deg,#34618d 5px,#34618d 453px)"></i><i style="height:3.00px;background:linear-gradient(90deg,#365c8d 5px,#365c8d 453px)"></i><i style="height:3.00px;background:linear-gradient(90deg,#38578c 5px,#38578c 453px)"></i><i style="height:3.00px;background:linear-gradient(90deg,#3b518b 5px,#3b518b 453px)"></i><i style="height:3.00px;background:linear-gradient(90deg,#3e4b89 5px,#3e4b89 453px)"></i><i style="height:3.00px;background:linear-gradient(90deg,#414487 5px,#414487 453px)"></i><i style="height:3.00px;background:linear-gradient(90deg,#433d85 5px,#433d85 453px)"></i><i style="height:3.00px;background:linear-gradient(90deg,#453681 5px,#453681 453px)"></i><i style="height:3.00px;background:linear-gradient(90deg,#47307d 5px,#47307d 453px)"></i><i style="height:3.00px;background:linear-gradient(90deg,#472b7a 5px,#472b7a 453px)"></i><i style="height:3.00px;background:linear-gradient(90deg,#482677 5px,#482677 453px)"></i><i style="height:3.00px;background:linear-gradient(90deg,#482273 5px,#482273 453px)"></i><i style="height:3.00px;background:linear-gradient(90deg,#481e6f 5px,#481e6f 453px)"></i><i style="height:3.00px;background:linear-gradient(90deg,#48196b 5px,#48196b 453px)"></i><i style="height:3.00px;background:linear-gradient(90deg,#481567 5px,#481567 453px)"></i><i style="height:3.00px;background:linear-gradient(90deg,#471063 5px,#471063 453px)"></i><i style="height:7.00px;background:linear-gradient(90deg,#460b5e 5px,#460b5e 453px)"></i></div></div><div class="mp" style="left:40.8px;top:1068.4px;width:449.2px;height:224.7px"><div class="mq" style="left:-4px;top:-4px;width:457.2px;filter:blur(0.9px)"><i style="height:7.00px;background:linear-gradient(90deg,#460a5d 5px,#460a5d 453px)"></i><i style="height:3.00px;background:linear-gradient(90deg,#470e61 5px,#470e61 453px)"></i><i style="height:3.00px;background:linear-gradient(90deg,#471164 5px,#471164 453px)"></i><i style="height:3.00px;background:linear-gradient(90deg,#481467 5px,#481467 453px)"></i><i style="height:3.00px;background:linear-gradient(90deg,#48176a 5px,#48176a 453px)"></i><i style="height:3.00px;background:linear-gradient(90deg,#481b6d 5px,#481b6d 453px)"></i><i style="height:3.00px;background:linear-gradient(90deg,#481e6f 5px,#481e6f 453px)"></i><i style="height:3.00px;background:linear-gradient(90deg,#482474 5px,#482474 453px)"></i><i style="height:3.00px;background:linear-gradient(90deg,#472b7a 5px,#472b7a 453px)"></i><i style="height:3.00px;background:linear-gradient(90deg,#46317e 5px,#46317e 453px)"></i><i style="height:3.00px;background:linear-gradient(90deg,#453882 5px,#453882 453px)"></i><i style="height:3.00px;background:linear-gradient(90deg,#433e85 5px,#433e85 453px)"></i><i style="height:3.00px;background:linear-gradient(90deg,#404487 5px,#404487 453px)"></i><i style="height:3.00px;background:linear-gradient(90deg,#3e4b89 5px,#3e4b89 453px)"></i><i style="height:3.00px;background:linear-gradient(90deg,#3b528b 5px,#3b528b 453px)"></i><i style="height:3.00px;background:linear-gradient(90deg,#375a8c 5px,#375a8c 453px)"></i><i style="height:3.00px;background:linear-gradient(90deg,#34618d 5px,#34618d 349px,#34618d 453px)"></i><i style="height:3.00px;background:linear-gradient(90deg,#31688e 5px,#32668e 319px,#31688e 453px)"></i><i style="height:3.00px;background:linear-gradient(90deg,#2e6e8e 5px,#31688e 262px,#2e6e8e 453px)"></i><i style="height:3.00px;background:linear-gradient(90deg,#2b758e 5px,#2e6f8e 256px,#2c728e 320px,#2b758e 453px)"></i><i style="height:3.00px;background:linear-gradient(90deg,#287b8e 5px,#2b758e 252px,#2b758e 305px,#287b8e 453px)"></i><i style="height:3.00px;background:linear-gradient(90deg,#26828e 5px,#287b8e 249px,#2a788e 300px,#26828e 405px,#26828e 453px)"></i><i style="height:3.00px;background:linear-gradient(90deg,#24888e 5px,#26828e 248px,#287d8e 297px,#24888e 385px,#24888e 453px)"></i><i style="height:3.00px;background:linear-gradient(90deg,#218e8d 5px,#24888e 247px,#26828e 296px,#218e8d 379px,#218e8d 453px)"></i><i style="height:3.00px;background:linear-gradient(90deg,#20948c 5px,#218e8d 247px,#23898e 296px,#20938c 372px,#20948c 453px)"></i><i style="height:3.00px;background:linear-gradient(90deg,#1f9b8a 5px,#20948c 248px,#21908c 297px,#1f988b 365px,#1f958b 388px,#1f9b8a 453px)"></i><i style="height:3.00px;background:linear-gradient(90deg,#1fa187 5px,#1f9b8a 250px,#1f988a 301px,#1f9e89 360px,#25858e 380px,#1fa187 405px,#1fa187 453px)"></i><i style="height:3.00px;background:linear-gradient(90deg,#23a884 5px,#1fa187 253px,#1fa287 307px,#20a387 356px,#2d708e 376px,#287b8e 387px,#20a586 402px,#22a884 453px)"></i><i style="height:3.00px;background:linear-gradient(90deg,#29af80 5px,#22a884 258px,#23a983 352px,#24888d 361px,#355d8d 372px,#375a8c 382px,#27808e 393px,#21a685 402px,#28ae80 421px,#28ae80 453px)"></i><i style="height:3.00px;background:linear-gradient(90deg,#36b878 5px,#2fb47c 91px,#2eb27d 250px,#2eb37d 311px,#2eb37d 348px,#20948c 356px,#39568c 368px,#3f4989 379px,#355f8d 389px,#1fa287 401px,#32b57a 409px,#33b67a 453px)"></i><i style="height:3.00px;background:linear-gradient(90deg,#56c666 5px,#5fc961 32px,#4dc36b 45px,#48c16e 85px,#31b57b 97px,#4bc26d 114px,#44bf70 253px,#44bf70 306px,#47c06f 344px,#27ad81 351px,#20938c 355px,#355e8d 364px,#3e4b89 375px,#39568c 387px,#26818e 396px,#20a486 401px,#44bf70 408px,#4cc26c 439px,#4cc26c 453px)"></i><i style="height:3.00px;background:linear-gradient(90deg,#8ad547 5px,#a6db35 30px,#74d054 42px,#6bcd5a 63px,#67cc5c 83px,#2db27d 95px,#32b57a 100px,#64cb5e 110px,#6acd5b 155px,#60ca60 263px,#65cb5e 342px,#4ac26d 347px,#20a486 352px,#30698e 361px,#39568c 371px,#365c8d 387px,#287c8e 395px,#1fa188 400px,#3dbc74 404px,#62ca5f 409px,#6bcd5a 429px,#6ccd59 453px)"></i><i style="height:3.00px;background:linear-gradient(90deg,#c1df24 5px,#d3e21b 31px,#8bd646 48px,#88d549 75px,#7dd24f 83px,#57c766 88px,#2ab07f 93px,#23a983 98px,#37b878 102px,#73d055 109px,#81d34c 117px,#7cd250 253px,#7ed24f 320px,#7bd251 341px,#62ca5f 345px,#27ad81 350px,#1f958b 353px,#2f6c8e 360px,#355d8d 371px,#32658e 389px,#25848e 396px,#20a387 400px,#3aba76 403px,#71cf57 408px,#80d34d 414px,#89d548 453px)"></i><i style="height:3.00px;background:linear-gradient(90deg,#d6e21a 5px,#c0df25 29px,#d0e11c 37px,#b9de29 45px,#9fda3a 52px,#96d83f 81px,#78d152 86px,#2bb17e 93px,#23a984 98px,#3aba76 102px,#79d152 108px,#8fd744 114px,#91d743 223px,#8ad547 308px,#87d549 340px,#6bcd5a 344px,#29af7f 349px,#1f968b 352px,#2e6e8e 359px,#33628d 371px,#306a8e 390px,#228c8d 397px,#21a586 400px,#40bd73 403px,#7dd24f 408px,#8ed645 413px,#9ed93a 430px,#a7db34 440px,#a7db34 453px)"></i><i style="height:3.00px;background:linear-gradient(90deg,#c5e022 5px,#7fd24d 24px,#7ed24e 30px,#c7e021 44px,#bddf27 80px,#a7db34 85px,#49c06d 94px,#42bd71 98px,#5ec962 102px,#96d83f 108px,#a7db34 114px,#b0dd2e 170px,#b5dd2b 199px,#9cd93c 255px,#95d840 339px,#7ad151 343px,#27ad81 349px,#20948c 352px,#2d708e 359px,#31678e 377px,#2d6f8e 390px,#20938c 397px,#26ac82 400px,#7ad151 406px,#98d83e 410px,#b2dd2d 425px,#d9e21c 435px,#dae31c 453px)"></i><i style="height:3.00px;background:linear-gradient(90deg,#9fda39 5px,#4bc16c 19px,#37b777 28px,#4ac06d 36px,#7dd14f 43px,#c1df24 51px,#e5e419 59px,#f0e51e 79px,#dfe31c 86px,#a0d939 95px,#a0d939 99px,#d1e11e 109px,#d0e11e 140px,#f3e61f 192px,#d5e21d 218px,#aedc30 255px,#a0da39 338px,#89d548 342px,#32b57b 348px,#1e9c89 351px,#2b758e 358px,#306a8e 372px,#2c728e 389px,#20948c 396px,#27ad81 399px,#80d34d 405px,#a2da37 409px,#cfe11e 422px,#f8e622 431px,#fde725 453px)"></i><i style="height:3.00px;background:linear-gradient(90deg,#7cd250 5px,#33b57a 15px,#21a386 23px,#21a287 36px,#35b679 44px,#86d449 53px,#cce120 61px,#eee51c 70px,#fde724 85px,#ece51c 98px,#fce724 110px,#f9e622 229px,#c7e021 263px,#aedc30 310px,#a6db35 338px,#8ed644 342px,#36b878 348px,#1f9f88 351px,#2a788e 358px,#2f6c8e 371px,#2b768e 388px,#1f988a 395px,#2bb17e 398px,#89d547 404px,#b2dd2d 408px,#dee31b 416px,#fbe723 423px,#fde725 453px)"></i><i style="height:3.00px;background:linear-gradient(90deg,#65cb5d 5px,#2cb17e 12px,#1f9a8a 19px,#228d8d 33px,#20a087 46px,#35b679 52px,#8dd645 61px,#c4e023 68px,#e0e319 79px,#e9e51c 102px,#fae722 153px,#f0e51e 197px,#fde725 220px,#f7e621 258px,#dae31c 294px,#abdc31 339px,#8fd644 343px,#35b779 349px,#1fa088 352px,#287c8e 359px,#2d6f8e 373px,#297a8e 386px,#1f9b8a 393px,#2db27d 396px,#6fce58 400px,#c1df25 405px,#e8e41d 409px,#fde724 415px,#f7e621 431px,#efe51d 439px,#ede51c 453px)"></i><i style="height:3.00px;background:linear-gradient(90deg,#57c766 5px,#26ac82 11px,#21908c 19px,#25848e 35px,#20958b 49px,#26ab82 55px,#4ec36b 60px,#a5db36 68px,#c5e022 74px,#cce11e 85px,#b0dc2f 120px,#d0e11e 143px,#c6e021 198px,#eee51f 228px,#d9e225 237px,#a3d839 250px,#a6d937 258px,#d4e224 267px,#f9e622 274px,#f8e622 308px,#e1e31b 327px,#b9de29 340px,#97d83e 344px,#30b47b 351px,#1f9f88 354px,#287d8e 362px,#2b768e 377px,#228c8d 387px,#21a386 391px,#3bb976 394px,#89d547 398px,#c9e023 401px,#f2e620 404px,#fde725 408px,#f5e620 419px,#cee11d 435px,#cee11d 453px)"></i><i style="height:3.00px;background:linear-gradient(90deg,#4ec36b 5px,#24aa83 10px,#228c8d 18px,#277f8e 35px,#228c8d 51px,#22a685 58px,#3dbb74 62px,#a5db36 71px,#c2df23 77px,#bedf25 88px,#81d34d 118px,#92d742 130px,#b1dd2e 146px,#b9de29 216px,#b3dd2d 225px,#92d741 230px,#40ba73 239px,#29a882 246px,#28a682 258px,#3fb874 266px,#68ca5b 271px,#c4df2a 278px,#e9e420 282px,#fae723 288px,#f8e622 333px,#dde31c 341px,#b6dd2b 345px,#45bf70 352px,#27ac81 355px,#218f8d 361px,#277e8e 372px,#218f8c 382px,#26a883 387px,#43bd71 390px,#91d642 394px,#d6e223 397px,#f3e621 399px,#fde725 403px,#fae722 410px,#cfe11e 417px,#bcdf27 430px,#bcdf27 453px)"></i><i style="height:3.00px;background:linear-gradient(90deg,#4dc36b 5px,#23a884 10px,#25848e 20px,#277f8e 47px,#20938c 57px,#26ac82 62px,#4cc26c 66px,#a2da37 73px,#bedf26 78px,#bbde27 87px,#69cd5b 117px,#73d055 127px,#a3db37 145px,#aadc32 191px,#a8db34 219px,#8dd645 224px,#31b37b 232px,#209e88 236px,#26838e 246px,#25858e 263px,#24a485 273px,#3eba74 277px,#abdc32 285px,#cde120 290px,#fae723 328px,#fae722 344px,#e8e41f 347px,#bcde2a 350px,#55c567 356px,#2cae7f 361px,#20988a 370px,#22a087 377px,#39b677 382px,#6fcc57 386px,#bede2b 390px,#eee520 393px,#fde725 396px,#f8e622 404px,#cfe11e 410px,#b3dd2d 417px,#b7de2a 438px,#b5de2b 453px)"></i><i style="height:3.00px;background:linear-gradient(90deg,#4cc26c 5px,#22a784 10px,#287e8e 19px,#2a788e 37px,#26828e 55px,#23a884 64px,#46c06f 68px,#9ad93d 75px,#b2dd2d 80px,#a6db35 90px,#55c667 116px,#59c765 125px,#92d742 145px,#9ad93d 181px,#96d83f 217px,#81d34c 221px,#2eb27d 228px,#1f9e88 231px,#287b8e 239px,#2c738e 259px,#26828e 272px,#23a784 279px,#4ac16d 283px,#8ad547 288px,#a3da37 293px,#b9de29 325px,#eee51f 337px,#fde725 346px,#f8e621 351px,#cee122 355px,#79d051 363px,#5ac663 369px,#55c466 374px,#88d348 379px,#d7e21f 385px,#fae723 389px,#f4e621 397px,#bfdf26 404px,#a3da37 411px,#a0da39 429px,#acdc31 448px,#a8db34 453px)"></i><i style="height:3.00px;background:linear-gradient(90deg,#4ec36b 5px,#21a685 10px,#2c728e 18px,#31688e 25px,#287c8e 56px,#20a287 65px,#3bba75 69px,#8ad547 76px,#a1da38 81px,#93d741 91px,#4bc26d 116px,#50c46a 126px,#81d34d 145px,#88d548 192px,#84d44b 216px,#71cf57 220px,#25ab82 227px,#218f8d 231px,#2d708e 239px,#2e6e8e 268px,#25848e 276px,#20a486 281px,#46c06f 285px,#7bd250 290px,#8bd646 296px,#95d840 329px,#b6dd2b 340px,#e9e41e 351px,#ebe51c 355px,#c8e021 367px,#d1e120 374px,#e5e419 382px,#d1e120 390px,#93d741 404px,#8bd646 424px,#9eda3a 447px,#98d83e 453px)"></i><i style="height:3.00px;background:linear-gradient(90deg,#4ec36b 5px,#24aa83 9px,#218e8d 12px,#375b8c 19px,#3b528b 25px,#2f6b8e 37px,#2b768e 56px,#1f9a8a 65px,#2eb37d 69px,#7ed24f 77px,#90d743 82px,#79d152 95px,#47c06f 117px,#52c568 129px,#74d055 148px,#72cf56 217px,#52c568 222px,#23a884 227px,#24868e 232px,#30698e 240px,#31678e 267px,#26818e 276px,#1fa187 281px,#3ebc74 285px,#6bcd5a 290px,#78d152 297px,#82d34c 339px,#a5db36 353px,#bdde27 369px,#d5e21e 375px,#9bd93c 386px,#7ed34e 400px,#7bd250 426px,#90d743 446px,#89d548 453px)"></i><i style="height:3.00px;background:linear-gradient(90deg,#44bf71 5px,#1fa187 9px,#365c8d 17px,#424086 23px,#404588 28px,#32648e 36px,#2d708e 55px,#1f978b 65px,#28ae80 69px,#6cce59 77px,#7ed34e 83px,#47c06f 117px,#57c766 135px,#65cb5e 160px,#62ca60 218px,#4bc26d 223px,#20a386 229px,#2e6e8e 239px,#355e8d 252px,#30698e 268px,#21908c 277px,#24aa83 281px,#58c765 288px,#66cc5d 296px,#70cf57 351px,#86d44a 373px,#82d34c 377px,#6ccd5a 391px,#6acd5b 426px,#80d34d 446px,#78d152 453px)"></i><i style="height:3.00px;background:linear-gradient(90deg,#33b67a 5px,#1fa088 8px,#37598c 18px,#443c84 25px,#404588 30px,#32648e 37px,#2c728e 55px,#1f9d89 66px,#34b679 71px,#63cb5f 78px,#6bcd5a 85px,#46c06f 114px,#55c667 172px,#4fc46a 222px,#25aa83 231px,#238b8d 237px,#30698e 248px,#30698e 261px,#238b8d 272px,#25aa83 278px,#4fc46a 287px,#5ac864 383px,#59c764 426px,#70cf57 446px,#67cc5c 453px)"></i><i style="height:3.00px;background:linear-gradient(90deg,#25ab82 5px,#228d8d 9px,#3a548b 22px,#404788 28px,#2e6d8e 38px,#2a778e 54px,#21a685 67px,#53c568 77px,#5bc864 85px,#41be72 110px,#41be72 227px,#219f88 240px,#25848d 253px,#21938b 265px,#2aaf7f 274px,#44bf70 285px,#4bc26d 427px,#5fca61 446px,#57c766 453px)"></i><i style="height:3.00px;background:linear-gradient(90deg,#20a386 5px,#2a788e 12px,#375b8c 28px,#27808e 38px,#24868e 54px,#23a983 66px,#4dc36b 78px,#46c06f 91px,#39ba76 120px,#37b878 236px,#26ab82 256px,#3bbb75 286px,#41bd72 428px,#52c569 447px,#4bc26c 453px)"></i><i style="height:3.00px;background:linear-gradient(90deg,#1fa088 5px,#2b758e 12px,#306a8e 27px,#20968b 38px,#1f9a8a 55px,#2cb17e 67px,#45bf70 80px,#33b67a 113px,#38b977 428px,#46c06f 448px,#40bd72 453px)"></i><i style="height:3.00px;background:linear-gradient(90deg,#1fa088 5px,#2c738e 13px,#2e6d8e 24px,#24878e 31px,#20a486 37px,#26ad81 62px,#3aba76 82px,#2cb17e 115px,#31b57b 430px,#3aba76 449px,#36b878 453px)"></i><i style="height:3.00px;background:linear-gradient(90deg,#1fa287 5px,#2c728e 15px,#2c728e 24px,#20a486 35px,#2eb37c 86px,#26ac81 138px,#2bb17e 433px,#2db27d 453px)"></i><i style="height:3.00px;background:linear-gradient(90deg,#20a387 5px,#29798e 18px,#25858e 26px,#21a685 36px,#25ab82 91px,#26ac81 436px,#26ac81 453px)"></i><i style="height:3.00px;background:linear-gradient(90deg,#1fa187 5px,#238a8d 21px,#1fa287 37px,#20a486 95px,#22a784 439px,#21a685 453px)"></i><i style="height:3.00px;background:linear-gradient(90deg,#1f9d89 5px,#1f988b 25px,#1f9f88 94px,#1fa088 453px)"></i><i style="height:3.00px;background:linear-gradient(90deg,#1f988b 5px,#1f9a8a 453px)"></i><i style="height:3.00px;background:linear-gradient(90deg,#20928c 5px,#20938c 453px)"></i><i style="height:3.00px;background:linear-gradient(90deg,#228b8d 5px,#228c8d 453px)"></i><i style="height:3.00px;background:linear-gradient(90deg,#25848e 5px,#25858e 453px)"></i><i style="height:3.00px;background:linear-gradient(90deg,#287d8e 5px,#277e8e 453px)"></i><i style="height:3.00px;background:linear-gradient(90deg,#2a778e 5px,#2a778e 453px)"></i><i style="height:3.00px;background:linear-gradient(90deg,#2d708e 5px,#2d708e 453px)"></i><i style="height:3.00px;background:linear-gradient(90deg,#30698e 5px,#30698e 453px)"></i><i style="height:3.00px;background:linear-gradient(90deg,#33628d 5px,#33628d 453px)"></i><i style="height:3.00px;background:linear-gradient(90deg,#375b8d 5px,#375b8d 453px)"></i><i style="height:3.00px;background:linear-gradient(90deg,#3a538b 5px,#3a538b 453px)"></i><i style="height:3.00px;background:linear-gradient(90deg,#3e4b89 5px,#3e4b89 453px)"></i><i style="height:3.00px;background:linear-gradient(90deg,#414387 5px,#414387 453px)"></i><i style="height:3.00px;background:linear-gradient(90deg,#443b83 5px,#443b83 453px)"></i><i style="height:3.00px;background:linear-gradient(90deg,#46327f 5px,#46327f 453px)"></i><i style="height:3.00px;background:linear-gradient(90deg,#482979 5px,#482979 453px)"></i><i style="height:3.00px;background:linear-gradient(90deg,#482273 5px,#482273 453px)"></i><i style="height:3.00px;background:linear-gradient(90deg,#481d6e 5px,#481d6e 453px)"></i><i style="height:3.00px;background:linear-gradient(90deg,#48176a 5px,#48176a 453px)"></i><i style="height:3.00px;background:linear-gradient(90deg,#471264 5px,#471264 453px)"></i><i style="height:7.00px;background:linear-gradient(90deg,#460b5f 5px,#460b5f 453px)"></i></div></div><div class="mp" style="left:577.2px;top:1068.4px;width:449.2px;height:224.7px"><div class="mq" style="left:-4px;top:-4px;width:457.2px;filter:blur(0.9px)"><i style="height:7.00px;background:linear-gradient(90deg,#460a5d 5px,#460a5d 453px)"></i><i style="height:3.00px;background:linear-gradient(90deg,#470e61 5px,#470e61 453px)"></i><i style="height:3.00px;background:linear-gradient(90deg,#471164 5px,#471164 453px)"></i><i style="height:3.00px;background:linear-gradient(90deg,#481467 5px,#481467 453px)"></i><i style="height:3.00px;background:linear-gradient(90deg,#48176a 5px,#48176a 453px)"></i><i style="height:3.00px;background:linear-gradient(90deg,#481b6d 5px,#481b6d 453px)"></i><i style="height:3.00px;background:linear-gradient(90deg,#481e6f 5px,#481e6f 453px)"></i><i style="height:3.00px;background:linear-gradient(90deg,#482474 5px,#482474 453px)"></i><i style="height:3.00px;background:linear-gradient(90deg,#472b7a 5px,#472b7a 453px)"></i><i style="height:3.00px;background:linear-gradient(90deg,#46317e 5px,#46317e 453px)"></i><i style="height:3.00px;background:linear-gradient(90deg,#453882 5px,#453882 453px)"></i><i style="height:3.00px;background:linear-gradient(90deg,#433e85 5px,#433e85 453px)"></i><i style="height:3.00px;background:linear-gradient(90deg,#404487 5px,#404487 453px)"></i><i style="height:3.00px;background:linear-gradient(90deg,#3e4b89 5px,#3e4b89 453px)"></i><i style="height:3.00px;background:linear-gradient(90deg,#3b528b 5px,#3b528b 453px)"></i><i style="height:3.00px;background:linear-gradient(90deg,#375a8c 5px,#375a8c 453px)"></i><i style="height:3.00px;background:linear-gradient(90deg,#34618d 5px,#34618d 453px)"></i><i style="height:3.00px;background:linear-gradient(90deg,#31688e 5px,#31688e 453px)"></i><i style="height:3.00px;background:linear-gradient(90deg,#2e6e8e 5px,#2e6e8e 453px)"></i><i style="height:3.00px;background:linear-gradient(90deg,#2b758e 5px,#2b758e 453px)"></i><i style="height:3.00px;background:linear-gradient(90deg,#297b8e 5px,#297b8e 453px)"></i><i style="height:3.00px;background:linear-gradient(90deg,#26818e 5px,#26818e 453px)"></i><i style="height:3.00px;background:linear-gradient(90deg,#24878e 5px,#24878e 453px)"></i><i style="height:3.00px;background:linear-gradient(90deg,#228c8d 5px,#228c8d 453px)"></i><i style="height:3.00px;background:linear-gradient(90deg,#20928c 5px,#228d8d 359px,#238a8d 375px,#20928c 410px,#20928c 453px)"></i><i style="height:3.00px;background:linear-gradient(90deg,#1f988b 5px,#20948c 352px,#2a788e 369px,#1f978b 391px,#1f988b 453px)"></i><i style="height:3.00px;background:linear-gradient(90deg,#1f9d89 5px,#1f9a8a 348px,#34618d 366px,#306a8e 375px,#1f9a8a 389px,#1f9d89 453px)"></i><i style="height:3.00px;background:linear-gradient(90deg,#20a386 5px,#1f9e89 346px,#2b748e 355px,#3d4b89 364px,#3e4989 372px,#2e6e8e 381px,#1e9b8a 390px,#20a387 411px,#20a387 453px)"></i><i style="height:3.00px;background:linear-gradient(90deg,#23a983 5px,#20a387 344px,#277e8e 351px,#404588 360px,#453580 369px,#404588 377px,#1f988b 390px,#22a884 397px,#23a884 453px)"></i><i style="height:3.00px;background:linear-gradient(90deg,#2cb17e 5px,#25ab82 342px,#228b8d 348px,#3f4788 357px,#46317e 365px,#453882 376px,#375b8d 383px,#1f9f88 392px,#28ae80 399px,#29af80 453px)"></i><i style="height:3.00px;background:linear-gradient(90deg,#43be71 5px,#33b679 340px,#1fa187 345px,#39578c 354px,#433c84 361px,#433c84 376px,#39568c 383px,#1fa187 392px,#35b778 398px,#38b977 453px)"></i><i style="height:3.00px;background:linear-gradient(90deg,#6acd5b 5px,#6ccd59 39px,#5ec961 71px,#5ac764 204px,#48c06e 339px,#26ac81 344px,#20928c 347px,#38598c 354px,#404587 362px,#3e4a89 379px,#32658e 385px,#20a486 392px,#43be71 397px,#4cc26c 406px,#4dc36b 453px)"></i><i style="height:3.00px;background:linear-gradient(90deg,#99d83d 5px,#a2da38 38px,#84d44b 67px,#89d548 131px,#61ca60 325px,#5cc863 338px,#41bd72 342px,#22a784 345px,#27808e 349px,#37598c 355px,#3d4e8a 366px,#39568c 381px,#2a778e 387px,#1f9d89 391px,#35b779 394px,#57c766 398px,#5fc961 411px,#63cb5f 453px)"></i><i style="height:3.00px;background:linear-gradient(90deg,#c5e022 5px,#c9e01f 33px,#c3df23 52px,#b3dd2d 68px,#bfdf26 115px,#79d152 285px,#6bcd5a 338px,#4bc26d 342px,#25ab82 345px,#228d8d 348px,#33628d 354px,#39558c 363px,#365c8d 381px,#297b8e 387px,#1fa187 391px,#3dbb74 394px,#65cc5d 398px,#6fce58 406px,#7ed34e 453px)"></i><i style="height:3.00px;background:linear-gradient(90deg,#e3e419 5px,#b8de29 28px,#c9e020 39px,#e9e41a 53px,#eae51c 74px,#f5e620 119px,#dde31c 171px,#b7de2a 229px,#95d840 259px,#7bd250 338px,#66cc5d 341px,#23a983 346px,#228b8d 349px,#31668e 355px,#365c8d 368px,#33638d 381px,#26838e 387px,#1f9f88 390px,#2eb27d 392px,#70cf57 397px,#7fd34e 402px,#8dd645 428px,#a9db33 453px)"></i><i style="height:3.00px;background:linear-gradient(90deg,#dee319 5px,#b0dd2e 14px,#79d151 25px,#71ce56 34px,#99d83d 43px,#d8e21c 53px,#f4e61f 62px,#fde725 93px,#f7e621 208px,#d2e21c 235px,#a1da38 263px,#95d840 318px,#81d34d 339px,#67cc5c 342px,#22a784 347px,#287c8e 352px,#33638d 359px,#32658e 379px,#287d8e 385px,#1f9e88 389px,#2cb27d 391px,#74d055 396px,#88d548 400px,#9ad93d 420px,#c1df24 438px,#cee11d 453px)"></i><i style="height:3.00px;background:linear-gradient(90deg,#b9de29 5px,#4ac16d 19px,#2eb17d 27px,#2fb27c 38px,#4fc26a 46px,#cbe020 61px,#e4e41a 69px,#fde725 134px,#f8e621 224px,#d2e21b 245px,#a3db37 262px,#b6de2b 297px,#aadc32 320px,#89d547 339px,#67cc5c 343px,#23a884 348px,#25858e 352px,#31678e 359px,#32658e 376px,#29798e 383px,#1fa088 388px,#3bba75 391px,#75d054 395px,#8bd646 399px,#a3da37 413px,#d2e21c 429px,#cfe11d 453px)"></i><i style="height:3.00px;background:linear-gradient(90deg,#8ed645 5px,#33b57a 15px,#20a187 21px,#21918c 35px,#24a684 48px,#3fbb73 54px,#acdc31 66px,#c3df23 73px,#dde31c 131px,#f9e722 173px,#f2e61f 214px,#d1e11e 238px,#7dd24f 255px,#78d052 264px,#c1df24 281px,#c6e021 296px,#c8e020 313px,#c6e021 323px,#a1da38 340px,#7ad151 344px,#2bb07e 349px,#20968b 352px,#2c738e 358px,#31668e 369px,#2b748e 379px,#1f9e88 386px,#37b877 389px,#80d34d 394px,#9ad93d 398px,#b9de29 408px,#e0e319 419px,#dce319 428px,#c3e023 439px,#b4dd2c 453px)"></i><i style="height:3.00px;background:linear-gradient(90deg,#6bcd5a 5px,#2bb07f 12px,#1f9a8a 17px,#26808e 29px,#24868e 46px,#25a883 57px,#47bf6f 62px,#90d743 70px,#a6db35 77px,#aadc33 111px,#8fd644 124px,#a7db34 134px,#bade28 145px,#cee11f 186px,#bddf27 221px,#a8db34 232px,#63c95e 241px,#38b578 248px,#29a981 259px,#38b677 269px,#63c95e 276px,#a0da39 284px,#aedc30 291px,#a7db34 307px,#c5e022 321px,#bcdf27 335px,#c0df25 341px,#afdc2f 344px,#74cf54 348px,#31b37b 352px,#209c89 355px,#287c8e 363px,#297a8e 374px,#21938c 381px,#25a883 384px,#48c06e 387px,#9dd93b 392px,#c2df25 396px,#eee51b 411px,#dde31a 420px,#a4db36 437px,#97d83f 453px)"></i><i style="height:3.00px;background:linear-gradient(90deg,#52c569 5px,#22a884 11px,#26818e 20px,#2c728e 34px,#287d8e 52px,#21a386 62px,#41bd72 67px,#7ad251 74px,#8cd646 82px,#8ad547 107px,#4ac16d 121px,#4bc16d 128px,#78d152 137px,#91d742 144px,#98d83e 200px,#8cd646 225px,#69cc5b 231px,#2caf7f 238px,#21948b 244px,#277f8e 256px,#228e8c 271px,#27a982 278px,#53c468 284px,#7dd24f 290px,#82d34c 299px,#86d44a 310px,#9eda3a 320px,#8ad547 333px,#b3dd2c 344px,#a4db36 348px,#3dba74 356px,#24a585 361px,#219989 371px,#2cad7f 379px,#4ac06d 382px,#c3df25 389px,#e8e41b 393px,#f1e51d 400px,#e1e31b 408px,#99d83d 425px,#83d44b 440px,#80d34e 453px)"></i><i style="height:3.00px;background:linear-gradient(90deg,#46c06f 5px,#22a784 10px,#277f8e 18px,#2f6b8e 29px,#2c728e 54px,#20968b 64px,#27ac81 68px,#64cb5e 76px,#77d153 83px,#73cf55 105px,#47c06e 112px,#29ae80 118px,#26ab82 129px,#3aba76 135px,#70cf57 143px,#7ad251 153px,#74d054 222px,#5cc863 227px,#23a685 234px,#29798e 243px,#2f6a8e 257px,#2b768e 273px,#209e88 282px,#34b679 286px,#63cb5f 292px,#6dce59 299px,#71cf56 310px,#89d547 319px,#62ca5f 333px,#76d053 342px,#8ad547 349px,#78d152 354px,#43bf71 361px,#38b877 368px,#4cc26c 374px,#7bd150 379px,#cde11d 386px,#e0e31a 390px,#d0e120 397px,#88d548 415px,#73d055 434px,#71cf57 453px)"></i><i style="height:3.00px;background:linear-gradient(90deg,#44bf70 5px,#1fa287 11px,#2d718e 21px,#32648e 35px,#2f6c8e 57px,#20948c 67px,#26ab82 71px,#5ac864 79px,#68cc5c 88px,#63cb5f 103px,#3fbc73 109px,#23a884 114px,#1f998a 124px,#21a486 134px,#37b877 139px,#61ca60 145px,#69cd5b 159px,#63cb5f 221px,#48c16e 226px,#21a585 231px,#2c728e 240px,#33628d 251px,#30698e 274px,#238a8d 282px,#21a486 286px,#53c568 293px,#5fc961 299px,#65cb5e 310px,#7fd34e 319px,#65cc5d 326px,#4fc46a 334px,#61ca60 354px,#41bd72 364px,#4bc26c 371px,#77d153 377px,#98d83e 381px,#a0da39 388px,#73cf55 407px,#65cb5e 442px,#64cb5e 453px)"></i><i style="height:3.00px;background:linear-gradient(90deg,#43bf71 5px,#20a486 11px,#306a8e 21px,#355e8d 32px,#33648d 57px,#24878e 67px,#23a984 73px,#4fc36b 81px,#59c765 93px,#52c569 103px,#22a784 111px,#20928c 119px,#1f988b 134px,#26ac82 139px,#55c667 147px,#55c667 220px,#3fbc73 225px,#1fa088 230px,#2f6b8e 239px,#375b8d 250px,#33628d 275px,#25848e 283px,#21a685 288px,#4cc26c 295px,#5ac864 311px,#70cf57 319px,#44bf71 333px,#48c16e 358px,#42be71 369px,#69cd5b 382px,#58c765 432px,#57c765 453px)"></i><i style="height:3.00px;background:linear-gradient(90deg,#40bd73 5px,#1fa287 11px,#355e8d 21px,#39558c 28px,#34608d 58px,#25848e 68px,#21a586 74px,#45bf70 83px,#49c16e 101px,#2eb37c 107px,#1f9a8a 112px,#238b8d 121px,#20938c 135px,#23a983 140px,#47c06f 147px,#47c06f 221px,#24aa83 228px,#218f8d 232px,#33638d 240px,#3a548b 252px,#375b8d 274px,#297b8e 282px,#20a387 288px,#41be72 295px,#4fc46a 312px,#5dc962 320px,#3aba76 333px,#4ac26d 376px,#4bc26d 445px,#4bc26d 453px)"></i><i style="height:3.00px;background:linear-gradient(90deg,#35b779 5px,#1f9e88 10px,#3a538b 21px,#3f4889 27px,#39568c 38px,#375a8d 56px,#287d8e 67px,#20a486 75px,#3cbb75 84px,#3bba75 103px,#1e9d89 111px,#24878e 119px,#228b8d 133px,#21a685 140px,#3dbb74 147px,#3cbb75 222px,#22a785 229px,#26818e 235px,#38598c 244px,#3c4e8a 261px,#365b8d 274px,#24878e 283px,#21a685 288px,#3aba76 295px,#44bf70 313px,#4ac26d 321px,#32b67a 335px,#40bd72 402px,#40bd73 453px)"></i><i style="height:3.00px;background:linear-gradient(90deg,#28ae80 5px,#1f958b 9px,#3a548b 21px,#404788 27px,#365d8d 37px,#365c8d 54px,#287d8e 66px,#20a486 75px,#35b878 85px,#33b679 104px,#1f9c89 112px,#25858e 121px,#228d8d 133px,#23a983 140px,#37b878 148px,#33b67a 225px,#1f9c89 233px,#34618d 245px,#3c508b 258px,#355e8d 271px,#21908c 282px,#27ad81 288px,#36b878 297px,#3aba76 323px,#2fb37c 340px,#38b977 427px,#38b977 453px)"></i><i style="height:3.00px;background:linear-gradient(90deg,#20a386 5px,#2d718e 13px,#3a538b 27px,#2d6f8e 38px,#30698e 53px,#228c8d 67px,#24aa83 76px,#32b57a 90px,#2cb27d 107px,#1f978b 116px,#228b8d 126px,#21a586 137px,#32b57a 147px,#2db27d 229px,#20938c 239px,#30698e 251px,#32658d 263px,#25868e 275px,#22a785 283px,#31b57b 294px,#30b47c 327px,#32b67a 453px)"></i><i style="height:3.00px;background:linear-gradient(90deg,#1f9a8a 5px,#2e6d8e 12px,#34618d 28px,#24868e 37px,#27808e 55px,#22a785 73px,#2db27d 91px,#26ac82 112px,#1f9a8a 126px,#2db27d 146px,#28ae80 235px,#228f8c 249px,#25858d 261px,#24a983 279px,#2db27d 299px,#2db27d 453px)"></i><i style="height:3.00px;background:linear-gradient(90deg,#1f958b 5px,#2f6c8e 11px,#33628d 21px,#2f6c8e 29px,#1f9a8a 37px,#1f998a 59px,#29af80 83px,#25ab82 132px,#24aa83 245px,#21a585 266px,#29af80 299px,#29af7f 453px)"></i><i style="height:3.00px;background:linear-gradient(90deg,#1f958b 5px,#31678e 12px,#34608d 23px,#2d708e 29px,#20a387 37px,#25ab82 121px,#26ac82 453px)"></i><i style="height:3.00px;background:linear-gradient(90deg,#1f978b 5px,#31678e 13px,#355f8d 22px,#2b768e 29px,#1fa188 36px,#21a685 53px,#22a884 453px)"></i><i style="height:3.00px;background:linear-gradient(90deg,#1f9a8a 5px,#31678e 16px,#30698e 24px,#1f9f88 36px,#20a387 453px)"></i><i style="height:3.00px;background:linear-gradient(90deg,#1f9a8a 5px,#2c738e 19px,#25838e 27px,#1e9c89 36px,#1f9d89 453px)"></i><i style="height:3.00px;background:linear-gradient(90deg,#1f978b 5px,#25858e 21px,#1f988b 38px,#1f988b 453px)"></i><i style="height:3.00px;background:linear-gradient(90deg,#20938c 5px,#20938c 453px)"></i><i style="height:3.00px;background:linear-gradient(90deg,#228d8d 5px,#228d8d 453px)"></i><i style="height:3.00px;background:linear-gradient(90deg,#24878e 5px,#24878e 453px)"></i><i style="height:3.00px;background:linear-gradient(90deg,#26828e 5px,#26828e 453px)"></i><i style="height:3.00px;background:linear-gradient(90deg,#287c8e 5px,#287c8e 453px)"></i><i style="height:3.00px;background:linear-gradient(90deg,#2b768e 5px,#2b768e 453px)"></i><i style="height:3.00px;background:linear-gradient(90deg,#2d708e 5px,#2d708e 453px)"></i><i style="height:3.00px;background:linear-gradient(90deg,#30698e 5px,#30698e 453px)"></i><i style="height:3.00px;background:linear-gradient(90deg,#33628d 5px,#33628d 453px)"></i><i style="height:3.00px;background:linear-gradient(90deg,#375b8d 5px,#375b8d 453px)"></i><i style="height:3.00px;background:linear-gradient(90deg,#3a538b 5px,#3a538b 453px)"></i><i style="height:3.00px;background:linear-gradient(90deg,#3e4b89 5px,#3e4b89 453px)"></i><i style="height:3.00px;background:linear-gradient(90deg,#414387 5px,#414387 453px)"></i><i style="height:3.00px;background:linear-gradient(90deg,#443b83 5px,#443b83 453px)"></i><i style="height:3.00px;background:linear-gradient(90deg,#46327f 5px,#46327f 453px)"></i><i style="height:3.00px;background:linear-gradient(90deg,#482979 5px,#482979 453px)"></i><i style="height:3.00px;background:linear-gradient(90deg,#482273 5px,#482273 453px)"></i><i style="height:3.00px;background:linear-gradient(90deg,#481d6e 5px,#481d6e 453px)"></i><i style="height:3.00px;background:linear-gradient(90deg,#48176a 5px,#48176a 453px)"></i><i style="height:3.00px;background:linear-gradient(90deg,#471264 5px,#471264 453px)"></i><i style="height:7.00px;background:linear-gradient(90deg,#460b5f 5px,#460b5f 453px)"></i></div></div><svg width="2150" height="1369" viewBox="0 0 2150 1369" style="position:absolute;left:0;top:0" font-family="DejaVu Sans, Liberation Sans, sans-serif" fill="#000"><defs><linearGradient id="jetg" x1="0" y1="0" x2="0" y2="1"><stop offset="0.0000" stop-color="#800000"/><stop offset="0.0312" stop-color="#a40000"/><stop offset="0.0625" stop-color="#c80000"/><stop offset="0.0938" stop-color="#ec0400"/><stop offset="0.1250" stop-color="#ff2100"/><stop offset="0.1562" stop-color="#ff3f00"/><stop offset="0.1875" stop-color="#ff5c00"/><stop offset="0.2188" stop-color="#ff7a00"/><stop offset="0.2500" stop-color="#ff9700"/><stop offset="0.2812" stop-color="#ffb500"/><stop offset="0.3125" stop-color="#ffd200"/><stop offset="0.3438" stop-color="#fcf000"/><stop offset="0.3750" stop-color="#e2ff15"/><stop offset="0.4062" stop-color="#c9ff2e"/><stop offset="0.4375" stop-color="#afff48"/><stop offset="0.4688" stop-color="#95ff62"/><stop offset="0.5000" stop-color="#7bff7b"/><stop offset="0.5312" stop-color="#62ff95"/><stop offset="0.5625" stop-color="#48ffaf"/><stop offset="0.5938" stop-color="#2effc9"/><stop offset="0.6250" stop-color="#15ffe2"/><stop offset="0.6562" stop-color="#00dffc"/><stop offset="0.6875" stop-color="#00bfff"/><stop offset="0.7188" stop-color="#009fff"/><stop offset="0.7500" stop-color="#0080ff"/><stop offset="0.7812" stop-color="#0060ff"/><stop offset="0.8125" stop-color="#0040ff"/><stop offset="0.8438" stop-color="#0020ff"/><stop offset="0.8750" stop-color="#0000ff"/><stop offset="0.9062" stop-color="#0000ec"/><stop offset="0.9375" stop-color="#0000c8"/><stop offset="0.9688" stop-color="#0000a4"/><stop offset="1.0000" stop-color="#000080"/></linearGradient></defs><text x="265.4" y="42" font-size="29.8" text-anchor="middle">MAS density map</text>
<text x="801.8" y="42" font-size="29.8" text-anchor="middle">Generated density map</text>
<text x="1385.4" y="25" font-size="29.6" text-anchor="middle">Density plot</text>
<text x="1958.7" y="25" font-size="29.6" text-anchor="middle">2D histrogram</text>
<path d="M262.9 52.3V277.0" stroke="#000" stroke-width="2.7"/>
<rect x="40.8" y="52.3" width="449.2" height="224.7" fill="none" stroke="#000" stroke-width="1.33"/>
<text x="40.8" y="300.7" font-size="16.1" text-anchor="middle">0</text>
<text x="103.1" y="300.7" font-size="16.1" text-anchor="middle">50</text>
<text x="165.3" y="300.7" font-size="16.1" text-anchor="middle">100</text>
<text x="227.6" y="300.7" font-size="16.1" text-anchor="middle">150</text>
<text x="289.9" y="300.7" font-size="16.1" text-anchor="middle">200</text>
<text x="352.2" y="300.7" font-size="16.1" text-anchor="middle">250</text>
<text x="414.4" y="300.7" font-size="16.1" text-anchor="middle">300</text>
<text x="476.7" y="300.7" font-size="16.1" text-anchor="middle">350</text>
<path d="M40.8 277v5.8M103.1 277v5.8M165.3 277v5.8M227.6 277v5.8M289.9 277v5.8M352.2 277v5.8M414.4 277v5.8M476.7 277v5.8" stroke="#000" stroke-width="1.33"/>
<text x="28.7" y="73.3" font-size="16.1" text-anchor="end">60</text>
<text x="28.7" y="114.9" font-size="16.1" text-anchor="end">30</text>
<text x="28.7" y="171.3" font-size="16.1" text-anchor="end">0</text>
<text x="28.7" y="221" font-size="16.1" text-anchor="end">-30</text>
<text x="28.7" y="268.7" font-size="16.1" text-anchor="end">-60</text>
<path d="M40.8 66.3h-5.8M40.8 107.9h-5.8M40.8 164.3h-5.8M40.8 214h-5.8M40.8 261.7h-5.8" stroke="#000" stroke-width="1.33"/>
<text x="265.4" y="331" font-size="26.5" text-anchor="middle">Rs: 4.19</text>
<path d="M799.3 52.3V277.0" stroke="#000" stroke-width="2.7"/>
<rect x="577.2" y="52.3" width="449.2" height="224.7" fill="none" stroke="#000" stroke-width="1.33"/>
<text x="577.2" y="300.7" font-size="16.1" text-anchor="middle">0</text>
<text x="639.5" y="300.7" font-size="16.1" text-anchor="middle">50</text>
<text x="701.7" y="300.7" font-size="16.1" text-anchor="middle">100</text>
<text x="764" y="300.7" font-size="16.1" text-anchor="middle">150</text>
<text x="826.3" y="300.7" font-size="16.1" text-anchor="middle">200</text>
<text x="888.6" y="300.7" font-size="16.1" text-anchor="middle">250</text>
<text x="950.8" y="300.7" font-size="16.1" text-anchor="middle">300</text>
<text x="1013.1" y="300.7" font-size="16.1" text-anchor="middle">350</text>
<path d="M577.2 277v5.8M639.5 277v5.8M701.7 277v5.8M764 277v5.8M826.3 277v5.8M888.6 277v5.8M950.8 277v5.8M1013.1 277v5.8" stroke="#000" stroke-width="1.33"/>
<text x="565.1" y="73.3" font-size="16.1" text-anchor="end">60</text>
<text x="565.1" y="114.9" font-size="16.1" text-anchor="end">30</text>
<text x="565.1" y="171.3" font-size="16.1" text-anchor="end">0</text>
<text x="565.1" y="221" font-size="16.1" text-anchor="end">-30</text>
<text x="565.1" y="268.7" font-size="16.1" text-anchor="end">-60</text>
<path d="M577.2 66.3h-5.8M577.2 107.9h-5.8M577.2 164.3h-5.8M577.2 214h-5.8M577.2 261.7h-5.8" stroke="#000" stroke-width="1.33"/>
<text x="801.8" y="331" font-size="26.5" text-anchor="middle">Rs: 4.19</text>
<path d="M1179.5 262.3L1187.9 259.0L1199.1 257.3L1213.0 255.3L1227.0 247.0L1235.3 240.0L1245.1 226.0L1250.7 206.5L1254.9 173.0L1257.7 117.2L1260.5 80.9L1263.3 92.1L1266.0 117.2L1270.2 175.8L1274.4 195.3L1280.0 217.7L1285.6 242.8L1295.3 256.7L1307.9 259.5L1319.1 261.8L1333.0 262.3L1344.2 261.8L1352.6 263.7L1358.1 259.5L1366.5 252.6L1374.9 240.0L1383.3 228.8L1388.8 214.9L1397.2 198.1L1402.8 190.6L1408.4 196.7L1415.3 220.5L1423.7 240.0L1430.7 245.6L1441.9 249.8L1451.6 251.2L1458.6 248.4L1464.2 240.0L1469.8 223.3L1475.3 195.3L1480.9 170.2L1485.1 164.7L1489.9 174.4L1493.5 189.8L1500.5 209.3L1508.8 231.6L1514.4 240.0L1525.6 256.7L1536.7 262.3L1547.9 267.9L1561.9 274.9L1575.8 279.1L1589.2 280.5" fill="none" stroke="#1f77b4" stroke-width="2.25" stroke-linejoin="round" stroke-linecap="square"/><path d="M1179.5 263.7L1187.9 260.9L1201.9 258.7L1215.8 256.7L1229.8 252.6L1240.9 242.8L1249.3 223.3L1252.1 203.7L1256.3 139.5L1260.5 46.0L1263.3 64.2L1266.0 97.7L1270.2 156.3L1277.2 200.9L1285.6 234.4L1295.3 251.2L1307.9 258.1L1319.1 261.5L1333.0 262.3L1344.2 260.1L1355.3 256.7L1366.5 251.2L1374.9 242.8L1383.3 231.6L1393.0 221.9L1398.6 224.7L1402.8 231.6L1411.2 247.0L1419.5 253.4L1430.7 254.0L1441.9 251.2L1450.2 245.6L1457.2 235.8L1458.6 226.0L1467.0 200.9L1476.7 181.4L1482.3 185.6L1489.3 206.5L1493.5 217.7L1500.5 231.6L1514.4 245.6L1525.6 256.7L1542.3 266.5L1561.9 276.3L1575.8 280.5L1589.2 281.9" fill="none" stroke="#ff7f0e" stroke-width="2.25" stroke-linejoin="round" stroke-linecap="square"/>
<rect x="1160.5" y="34.3" width="449.7" height="260.3" fill="none" stroke="#000" stroke-width="1.33"/>
<text x="1208.8" y="318.3" font-size="16.1" text-anchor="middle">-60</text>
<text x="1295.4" y="318.3" font-size="16.1" text-anchor="middle">-30</text>
<text x="1387.5" y="318.3" font-size="16.1" text-anchor="middle">0</text>
<text x="1489.9" y="318.3" font-size="16.1" text-anchor="middle">30</text>
<text x="1566.1" y="318.3" font-size="16.1" text-anchor="middle">60</text>
<path d="M1208.8 294.6v5.8M1295.4 294.6v5.8M1387.5 294.6v5.8M1489.9 294.6v5.8M1566.1 294.6v5.8" stroke="#000" stroke-width="1.33"/>
<text x="1148.4" y="78.2" font-size="16.1" text-anchor="end">1.0e-03</text>
<text x="1148.4" y="127.8" font-size="16.1" text-anchor="end">8.0e-04</text>
<text x="1148.4" y="176.1" font-size="16.1" text-anchor="end">6.0e-04</text>
<text x="1148.4" y="225.5" font-size="16.1" text-anchor="end">4.0e-04</text>
<text x="1148.4" y="274.4" font-size="16.1" text-anchor="end">2.0e-04</text>
<path d="M1160.5 71.2h-5.8M1160.5 120.8h-5.8M1160.5 169.1h-5.8M1160.5 218.5h-5.8M1160.5 267.4h-5.8" stroke="#000" stroke-width="1.33"/>
<text x="1384.5" y="346.2" font-size="19.5" text-anchor="middle">Latitude</text>
<text x="1076.3" y="167.5" font-size="19.5" text-anchor="middle" transform="rotate(-90 1076.3 167.5)">Density</text>
<rect x="1455.1" y="42.6" width="146.5" height="54.8" rx="3.3" fill="#fff" fill-opacity="0.8" stroke="#d9d9d9" stroke-width="1.33"/><path d="M1460.5 55.0h35.2" stroke="#1f77b4" stroke-width="2.5"/><path d="M1460.5 80.0h35.2" stroke="#ff7f0e" stroke-width="2.5"/><text x="1508" y="61.8" font-size="16.1">Genareted</text><text x="1508" y="87.2" font-size="16.1">Target</text>
<g transform="translate(1828.80 34.30) scale(2.59800 2.60300)" fill="none" stroke-width="1.1" stroke-linecap="square"><path stroke="#000080" d="M81.5 3.5h0m-2 3h0m-6 1h0m5 0h0m6 0h0m-3 1h0m4 0h0m-23 1h1m2 0h0m4 0h1m7 0h0m-7 1h0m13 0h0m3 0h0m-30 1h0m3 0h0m12 0h0m4 0h0m-17 1h0m-10 1h0m6 0h0m20 0h0m6 0h0m8 0h0m-32 1h0m5 0h0m3 0h0m17 0h0m-27 1h0m2 0h0m2 0h1m5 0h0m12 0h0m6 0h0m-13 1h0m-13 1h0m2 0h0m23 0h0m-28 1h0m14 0h0m-23 1h0m5 0h0m9 0h0m5 0h0m5 0h1m5 0h0m3 0h0m10 0h0m-48 1h0m11 0h0m2 0h0m7 0h0m4 0h0m13 0h0m-31 1h0m12 0h0m3 0h0m13 0h0m-29 1h1m4 0h0m4 0h0m4 0h0m3 0h0m-24 1h0m3 0h1m2 0h1m12 0h0m4 0h0m8 0h0m6 0h0m8 0h0m4 0h0m-47 1h0m4 0h0m2 0h0m8 0h0m13 0h0m7 0h0m6 0h0m-41 1h0m2 0h0m4 0h0m9 0h0m8 0h0m3 0h0m-15 1h1m12 0h0m9 0h0m-35 1h0m5 0h0m4 0h0m14 0h0m3 0h0m5 0h1m2 0h0m7 0h0m-35 1h0m9 0h0m5 0h0m4 0h0m3 0h0m6 0h0m11 0h0m-45 1h0m4 0h0m8 0h0m4 0h0m3 0h0m8 0h0m4 0h0m2 0h0m5 0h0m2 0h0m-40 1h0m3 0h0m7 0h0m11 0h2m3 0h0m4 0h0m2 0h1m-35 1h0m2 0h0m2 0h0m5 0h0m3 0h1m8 0h0m2 0h0m13 0h1m5 0h0m-41 1h0m2 0h1m3 0h0m5 0h1m3 0h6m2 0h1m6 0h1m6 0h0m-39 1h1m3 0h1m12 0h0m3 0h0m6 0h0m5 0h0m13 0h0m3 0h0m-46 1h0m4 0h1m10 0h0m2 0h0m2 0h0m14 0h0m-28 1h2m2 0h0m2 0h3m4 0h0m3 0h0m6 0h0m2 0h0m-30 1h0m2 0h2m6 0h0m2 0h1m3 0h0m5 0h0m11 0h0m2 0h1m2 0h1m3 0h0m7 0h0m-47 1h0m3 0h1m2 0h3m3 0h1m6 0h0m4 0h0m4 0h0m5 0h0m7 0h0m-43 1h0m3 0h1m3 0h1m2 0h0m2 0h1m4 0h0m4 0h0m3 0h0m3 0h0m4 0h2m3 0h1m4 0h0m-45 1h0m7 0h3m3 0h1m9 0h0m6 0h0m2 0h0m2 0h0m2 0h0m12 0h0m4 0h0m-54 1h0m9 0h0m2 0h2m2 0h1m4 0h2m2 0h0m3 0h0m2 0h0m5 0h0m6 0h0m2 0h0m9 0h0m4 0h0m-58 1h0m2 0h0m2 0h2m4 0h0m3 0h2m4 0h1m5 0h0m3 0h0m4 0h0m4 0h0m3 0h1m10 0h0m8 0h0m-54 1h0m2 0h0m2 0h0m3 0h0m4 0h1m3 0h1m2 0h2m2 0h0m4 0h0m3 0h0m4 0h0m3 0h0m2 0h0m4 0h0m10 0h0m3 0h0m-61 1h0m3 0h0m4 0h0m2 0h0m7 0h0m2 0h1m3 0h0m3 0h1m2 0h0m2 0h0m11 0h0m4 0h0m12 0h0m2 0h0m3 0h0m-61 1h3m2 0h0m3 0h1m3 0h0m2 0h1m3 0h1m2 0h2m2 0h2m3 0h0m4 0h0m4 0h0m3 0h2m2 0h1m5 0h0m-52 1h0m2 0h0m3 0h4m4 0h3m2 0h0m2 0h4m2 0h0m2 0h2m4 0h0m3 0h0m2 0h0m2 0h0m9 0h1m2 0h1m2 0h0m-58 1h0m5 0h0m3 0h5m2 0h6m3 0h1m4 0h0m2 0h3m10 0h2m19 0h0m-65 1h4m2 0h11m2 0h3m5 0h3m2 0h0m3 0h0m5 0h0m2 0h0m-43 1h2m5 0h0m3 0h0m2 0h0m4 0h2m2 0h1m2 0h0m3 0h1m2 0h0m3 0h0m3 0h0m2 0h0m2 0h0m2 0h1m3 0h0m3 0h0m2 0h1m2 0h1m2 0h0m-55 1h0m5 0h0m4 0h1m2 0h4m2 0h1m2 0h0m2 0h2m2 0h0m4 0h2m2 0h1m2 0h1m3 0h0m2 0h0m11 0h1m10 0h0m-67 1h0m2 0h0m2 0h0m2 0h3m2 0h7m3 0h3m2 0h0m2 0h2m3 0h1m7 0h0m4 0h0m8 0h0m4 0h1m-59 1h0m6 0h3m2 0h0m2 0h0m2 0h0m2 0h2m6 0h3m5 0h3m2 0h1m6 0h0m5 0h2m-52 1h1m3 0h4m3 0h3m2 0h1m3 0h0m2 0h0m3 0h0m2 0h0m2 0h1m2 0h0m2 0h3m2 0h0m4 0h0m4 0h1m3 0h0m5 0h2m2 0h0m-58 1h0m3 0h1m3 0h8m4 0h0m2 0h0m6 0h0m2 0h1m2 0h0m2 0h1m2 0h0m3 0h0m3 0h0m5 0h1m8 0h0m-58 1h1m2 0h0m2 0h3m3 0h2m5 0h0m7 0h0m4 0h0m3 0h1m2 0h1m3 0h4m2 0h1m3 0h0m6 0h0m5 0h0m3 0h0m5 0h0m-70 1h0m2 0h0m2 0h1m3 0h2m3 0h2m2 0h1m4 0h0m8 0h0m3 0h0m3 0h2m2 0h2m2 0h1m3 0h0m6 0h0m2 0h0m2 0h0m2 0h0m3 0h0m5 0h0m-68 1h4m2 0h3m2 0h0m2 0h1m9 0h0m6 0h0m4 0h1m2 0h2m2 0h0m4 0h0m3 0h0m3 0h0m9 0h0m9 0h0m-63 1h2m2 0h2m2 0h0m17 0h1m2 0h3m2 0h0m3 0h0m4 0h1m2 0h0m5 0h0m7 0h1m-62 1h0m2 0h1m3 0h0m2 0h2m2 0h0m9 0h0m9 0h0m2 0h0m5 0h1m3 0h0m2 0h0m2 0h0m2 0h0m2 0h0m2 0h0m2 0h0m3 0h0m3 0h0m3 0h0m3 0h0m6 0h0m-71 1h1m2 0h2m2 0h1m3 0h0m2 0h0m3 0h0m14 0h2m2 0h1m2 0h5m5 0h0m2 0h0m-46 1h0m2 0h1m2 0h1m2 0h1m3 0h1m12 0h0m3 0h2m4 0h2m4 0h0m2 0h0m13 0h0m2 0h1m3 0h0m-62 1h5m2 0h0m2 0h0m3 0h0m5 0h0m4 0h1m3 0h0m5 0h0m2 0h1m2 0h0m5 0h0m7 0h0m4 0h0m4 0h0m13 0h0m-67 1h0m2 0h1m2 0h0m2 0h0m16 0h1m3 0h2m3 0h1m3 0h0m2 0h1m2 0h0m3 0h0m2 0h2m3 0h0m4 0h0m2 0h3m7 0h1m-72 1h1m2 0h2m2 0h2m2 0h0m13 0h1m7 0h0m2 0h0m5 0h1m2 0h2m3 0h1m6 0h0m6 0h0m2 0h0m3 0h0m4 0h0m-67 1h2m2 0h4m2 0h0m14 0h4m2 0h1m2 0h1m3 0h1m6 0h1m2 0h1m6 0h0m3 0h1m4 0h1m3 0h0m-68 1h0m2 0h1m2 0h6m16 0h0m3 0h1m3 0h0m3 0h6m4 0h0m2 0h1m11 0h0m-61 1h0m2 0h0m2 0h1m2 0h0m23 0h1m2 0h0m3 0h0m2 0h0m3 0h3m2 0h1m13 0h1m4 0h0m-64 1h3m3 0h1m2 0h0m12 0h0m4 0h1m2 0h7m3 0h2m2 0h0m2 0h1m3 0h0m2 0h0m4 0h0m4 0h0m4 0h0m6 0h0m-69 1h0m3 0h2m4 0h0m3 0h0m15 0h9m6 0h1m2 0h1m2 0h0m2 0h0m2 0h2m2 0h0m2 0h0m3 0h0m3 0h0m5 0h0m-70 1h1m4 0h0m2 0h0m3 0h0m12 0h0m4 0h0m3 0h0m2 0h1m4 0h1m6 0h0m2 0h0m3 0h3m4 0h0m7 0h0m2 0h0m-62 1h5m17 0h8m3 0h0m4 0h0m2 0h1m3 0h3m2 0h1m3 0h0m2 0h0m2 0h0m4 0h0m-60 1h1m2 0h1m2 0h0m14 0h0m3 0h0m2 0h2m6 0h1m2 0h2m3 0h1m2 0h1m5 0h0m2 0h0m2 0h0m3 0h1m-59 1h5m20 0h0m2 0h9m7 0h0m2 0h1m2 0h0m3 0h1m2 0h0m4 0h0m2 0h0m-62 1h0m2 0h0m2 0h3m18 0h0m3 0h4m2 0h4m2 0h0m2 0h1m2 0h0m2 0h1m6 0h0m3 0h0m7 0h0m-64 1h1m2 0h0m2 0h1m18 0h0m3 0h1m2 0h1m3 0h2m4 0h0m2 0h0m2 0h0m3 0h0m5 0h1m2 0h0m3 0h1m6 0h0m-63 1h4m17 0h0m2 0h1m2 0h0m3 0h2m3 0h2m4 0h1m2 0h0m6 0h0m3 0h0m2 0h0m-56 1h4m17 0h0m2 0h12m3 0h0m4 0h0m2 0h0m2 0h0m2 0h1m2 0h0m3 0h3m5 0h0m-63 1h0m2 0h0m18 0h0m2 0h4m2 0h0m3 0h3m2 0h2m5 0h0m2 0h1m5 0h0m5 0h0m3 0h0m-59 1h0m4 0h0m18 0h3m2 0h6m3 0h3m2 0h5m2 0h1m4 0h3m2 0h0m3 0h1m-61 1h1m16 0h2m2 0h5m3 0h3m3 0h0m2 0h0m2 0h0m2 0h1m2 0h1m2 0h0m3 0h0m2 0h0m2 0h0m8 0h0m-62 1h0m19 0h1m2 0h3m3 0h0m2 0h0m3 0h3m2 0h0m3 0h0m3 0h0m2 0h0m2 0h0m2 0h1m5 0h1m-59 1h0m18 0h9m2 0h1m3 0h0m2 0h2m8 0h1m5 0h0m5 0h0m5 0h0m2 0h0m-63 1h0m2 0h1m14 0h9m2 0h0m2 0h1m2 0h0m7 0h1m2 0h0m2 0h0m3 0h1m7 0h1m4 0h0m-60 1h0m15 0h0m2 0h0m2 0h0m2 0h0m3 0h0m5 0h5m6 0h0m3 0h1m2 0h0m2 0h0m4 0h0m5 0h0m2 0h1m-61 1h1m15 0h4m3 0h0m2 0h2m2 0h2m3 0h1m2 0h0m2 0h0m5 0h1m2 0h1m2 0h0m6 0h0m-56 1h0m16 0h0m2 0h0m2 0h3m2 0h0m2 0h1m2 0h0m2 0h1m2 0h0m2 0h0m2 0h0m2 0h2m2 0h1m6 0h2m-41 1h6m4 0h3m2 0h0m2 0h2m5 0h0m3 0h2m6 0h0m2 0h0m2 0h1m-54 1h1m12 0h1m2 0h4m6 0h0m3 0h0m2 0h0m10 0h0m2 0h2m10 0h0m2 0h0m-57 1h0m14 0h0m2 0h5m3 0h2m3 0h0m3 0h0m5 0h0m6 0h0m3 0h1m7 0h0m3 0h0m-57 1h0m11 0h1m4 0h0m2 0h1m2 0h1m2 0h1m2 0h0m2 0h1m7 0h0m-27 1h3m2 0h1m4 0h2m9 0h0m2 0h0m2 0h0m5 0h1m-32 1h3m2 0h2m3 0h0m2 0h0m3 0h0m9 0h4m2 0h0m-41 1h0m9 0h0m2 0h1m2 0h1m9 0h1m3 0h0m3 0h0m2 0h0m2 0h0m4 0h0m-24 1h1m4 0h1m2 0h1m4 0h0m-20 1h1m-2 1h0m2 0h0m2 0h1m-5 1h0m-2 1h0m3 0h0m-5 1h0m-1 1h0"/><path stroke="#0000e2" d="M38.5 47.5h0m2 0h0m-8 1h0m6 0h0m3 0h0m3 0h0m-13 1h0m9 0h0m2 0h0m-9 1h0m-1 1h2m2 0h0m5 0h0m2 0h1m-11 1h0m2 0h0m3 0h0m5 0h0m2 0h0m-15 1h1m5 0h2m4 0h0m-13 1h1m2 0h0m2 0h2m3 0h1m4 0h0m-17 1h0m4 0h0m4 0h0m-9 1h3m3 0h0m-9 1h0m2 0h0m3 0h0m7 0h0m2 0h2m4 0h0m-19 1h0m2 0h0m7 0h0m8 0h0m-16 1h0m3 0h0m6 0h3m6 0h0m-12 1h0m2 0h0m2 0h1m3 0h1m-18 1h1m2 0h1m12 0h0m2 0h0m-19 1h3m5 0h0m4 0h0m6 0h0m-18 1h1m2 0h0m2 0h0m11 0h2m-6 2h0m2 0h0m-17 1h1m12 0h0m7 0h0m-20 1h0m16 0h0m3 0h0m-20 1h0m14 0h0m3 0h0m-18 1h1m14 0h0m-15 1h0m15 0h0m-16 1h0m16 0h0m-15 1h0m14 0h0m-1 1h2m-6 1h0m5 0h0m2 0h0m-4 1h1m-17 1h0m17 0h0m-18 1h0m14 1h0m-15 1h0m0 1h0m12 0h0m2 0h1m-3 1h0m-1 1h0m1 1h0m-3 1h1m-3 1h0m-11 1h0m10 0h0m0 2h0m-3 2h0m-1 2h0"/><path stroke="#0018ff" d="M38.5 50.5h0m2 0h0m4 0h0m-9 1h0m-4 1h0m6 2h0m-7 1h0m9 0h1m-10 1h0m5 0h0m8 0h0m-16 2h2m5 0h0m3 0h0m-15 1h0m2 0h0m3 0h0m-7 1h0m3 0h1m4 0h0m6 0h0m-4 1h0m5 0h0m-10 1h0m9 0h1m-16 1h0m4 0h0m13 0h0m-14 1h0m7 0h0m3 0h1m-4 1h0m2 0h0m5 1h0m-15 1h1m11 0h0m-14 1h0m16 0h0m-16 1h1m15 0h1m-18 1h0m12 0h0m-6 1h0m8 0h0m2 0h0m-17 1h0m11 0h1m2 0h2m-18 1h1m11 0h1m1 1h0m-15 1h0m12 0h1m-5 1h0m4 0h1m0 1h0m-16 1h0m0 1h0m-2 2h0m11 1h0m-13 2h1m11 1h0m-2 1h0m-2 2h0"/><path stroke="#0044ff" d="M36.5 49.5h0m0 3h0m4 0h0m-8 1h0m7 0h0m-6 1h0m3 1h0m2 0h0m4 0h0m-11 1h0m5 0h3m3 0h0m-15 1h0m3 0h2m4 0h0m4 0h0m-15 1h0m4 1h2m2 0h0m-6 1h0m3 0h0m2 0h0m-5 1h1m8 0h0m-8 1h0m2 0h1m7 0h0m-11 1h0m4 0h0m-11 1h0m3 0h0m-2 1h1m2 0h0m3 0h0m3 0h0m2 0h0m2 1h0m-14 1h0m3 0h0m3 0h0m2 0h0m2 0h0m2 1h1m-11 1h0m10 0h0m-15 1h0m12 0h0m-12 1h0m9 3h0m-1 1h0m-11 1h0m-1 1h0m12 0h0m-13 1h1m10 0h1m-3 1h0m0 1h0m2 0h0m-14 2h0m-1 1h0m8 4h0m-11 1h0m9 1h0m-10 1h0m4 5h0m-8 1h0m6 1h0"/><path stroke="#005aff" d="M32.5 55.5h0m5 0h0m-4 1h0m0 1h0m-3 1h0m6 0h0m3 0h0m-7 1h0m7 0h0m-10 1h0m2 1h0m8 0h0m-13 1h1m-2 1h0m5 1h1m3 0h0m-11 1h0m-1 1h1m2 0h0m5 0h0m3 0h0m-11 4h0m-3 1h0m2 0h0m8 0h0m-14 1h0m12 0h0m-10 1h1m6 0h0m2 0h0m-12 1h1m2 0h0m-4 2h0m12 0h0m-1 1h0m-14 4h0m11 0h0m-2 1h0m-1 3h0m-15 6h0m4 5h0"/><path stroke="#0085ff" d="M34.5 55.5h0m-2 3h0m6 0h0m-6 4h0m-3 1h1m5 0h0m-11 1h0m1 1h0m3 0h0m-2 1h0m2 0h1m-9 2h0m7 0h1m-3 1h0m2 0h0m0 1h0m-5 1h0m4 0h2m-2 1h0m-1 1h0m-2 1h1m-12 3h0m4 0h0m5 1h0m1 1h0m-13 4h0m9 1h0"/><path stroke="#009bff" d="M32.5 61.5h0m0 2h0m-5 1h0m-1 1h0m8 0h0m-13 1h0m6 0h0m5 0h0m-8 1h0m-1 1h0m3 0h0m3 0h1m-9 1h0m2 0h0m5 0h0m-9 1h0m7 0h0m2 0h0m-10 1h0m7 0h0m-1 1h0m-3 1h0m2 0h0m-7 1h0m3 0h1m7 0h0m-12 1h1m7 0h0m0 1h1m-10 1h0m9 0h0m0 2h0m-5 4h0m2 0h0m-13 2h0m-1 2h0m8 1h0m-2 2h0m0 1h0m-10 2h0m8 0h0m-1 1h0"/><path stroke="#00b0ff" d="M28.5 63.5h0m-2 1h0m2 0h0m-4 2h0m1 1h0m-3 1h0m3 0h0m-4 2h0m3 0h1m-6 2h0m6 0h0m-3 1h0m-1 1h1m-5 1h0m7 0h0m-2 3h0m-2 3h0"/><path stroke="#00c6ff" d="M29.5 67.5h0m-5 1h0m2 1h0m-6 1h0m-2 2h0m1 3h0m0 1h0m3 1h0m-2 1h0m-8 1h0m-1 1h0m-1 3h0m7 1h0m-10 2h0m7 1h1"/><path stroke="#00dcff" d="M27.5 67.5h0m-3 2h0m5 0h0m-6 1h0m-3 1h0m1 1h1m-4 2h0m0 1h0m3 0h0m-6 1h0m6 0h0m-1 1h1m-7 1h0m5 1h1m-8 1h0m7 0h0m0 1h0m-8 1h0m8 1h0m-11 2h0m5 4h0m-10 3h0"/><path stroke="#0af1ed" d="M23.5 71.5h0m-3 1h0m2 3h0m-4 1h0m-3 1h0m0 1h0m4 0h0m-1 2h0m2 0h0m-8 1h0m-2 1h0m-4 6h0m-1 1h0m-1 2h0m6 1h0m-1 1h0m-2 2h0"/><path stroke="#1bffdc" d="M23.5 72.5h0m-4 1h1m-4 3h0m1 1h0m2 0h0m-3 1h0m-2 1h0m2 0h1m-4 1h1m-3 1h0m7 0h0m-6 1h0m6 0h0m-1 1h0m-8 1h1m5 0h0m0 1h1m-1 1h0m-2 2h0m-2 3h0m-7 7h0"/><path stroke="#2dffca" d="M18.5 77.5h0m0 1h0m-5 1h0m5 0h0m-1 1h0m-6 3h0m5 1h0m-7 1h0m4 2h0m-7 9h0m-3 3h0"/><path stroke="#3effb9" d="M20.5 75.5h0m-3 1h0m-2 4h0m-2 1h0m2 0h0m2 0h0m-4 1h1m2 0h1m-1 1h0m-2 2h0m-6 1h0m5 0h0m-5 8h0m-7 1h0m4 2h0"/><path stroke="#50ffa7" d="M20.5 76.5h0m-3 2h0m-1 2h0m-2 1h0m1 1h0m-3 1h0m3 0h0m-4 1h0m3 2h0m-7 1h0m5 1h0m0 1h0m-7 1h0m6 0h0m-11 7h0"/><path stroke="#61ff96" d="M15.5 79.5h0m-2 4h0m1 1h0m-4 1h0m2 0h1m-7 4h0"/><path stroke="#73ff84" d="M16.5 81.5h0m-2 2h0m-2 3h0m-4 1h0m-1 1h0m3 3h0m-1 1h0m-6 1h0m-1 1h0"/><path stroke="#84ff73" d="M12.5 84.5h0m-1 2h0m1 1h0m-1 1h0m0 1h0m-7 3h0"/><path stroke="#96ff61" d="M13.5 84.5h0m-2 1h0m-2 1h1m-4 4h0m4 0h0m-2 3h0m-1 1h0"/><path stroke="#a7ff50" d="M10.5 87.5h1m-3 1h0m-1 1h0m-2 2h0"/><path stroke="#b9ff3e" d="M9.5 87.5h0m1 1h0m0 1h0m-1 2h0m-3 4h0"/><path stroke="#caff2d" d="M9.5 88.5h0m-1 1h0m-3 7h0m-5 2h0"/><path stroke="#dcff1b" d="M9.5 89.5h0m-2 1h0m-1 1h0m2 0h0m0 1h0m-4 1h0m0 4h0"/><path stroke="#edff0a" d="M8.5 90.5h1m-2 3h0m-4 1h0m-1 1h0m-1 1h0m2 2h0"/><path stroke="#ffed00" d="M7.5 91.5h0m-2 1h1"/><path stroke="#ffd800" d="M7.5 92.5h0m-1 2h0m-4 5h0"/><path stroke="#ffc400" d="M5.5 93.5h1m-1 2h0m-5 4h0"/><path stroke="#ffb000" d="M4.5 94.5h0m-1 3h0"/><path stroke="#ff9c00" d="M5.5 94.5h0m-2 1h0m-1 1h0m2 0h0"/><path stroke="#ff8800" d="M4.5 95.5h0m-1 1h0"/><path stroke="#ff4c00" d="M1.5 97.5h1m0 1h0"/><path stroke="#ff2400" d="M1.5 99.5h0"/><path stroke="#fb0f00" d="M1.5 98.5h0"/></g>
<rect x="1828.8" y="34.3" width="259.8" height="260.3" fill="none" stroke="#000" stroke-width="1.33"/>
<text x="1869.2" y="318.3" font-size="16.1" text-anchor="middle">5.0e-04</text>
<text x="1924.9" y="318.3" font-size="16.1" text-anchor="middle">1.0e-03</text>
<text x="1979.1" y="318.3" font-size="16.1" text-anchor="middle">1.5e-03</text>
<text x="2033.4" y="318.3" font-size="16.1" text-anchor="middle">2.0e-03</text>
<text x="2088.1" y="318.3" font-size="16.1" text-anchor="middle">2.5e-03</text>
<path d="M1869.2 294.6v5.8M1924.9 294.6v5.8M1979.1 294.6v5.8M2033.4 294.6v5.8M2088.1 294.6v5.8" stroke="#000" stroke-width="1.33"/>
<text x="1816.7" y="41.4" font-size="16.1" text-anchor="end">2.5e-03</text>
<text x="1816.7" y="96.5" font-size="16.1" text-anchor="end">2.0e-03</text>
<text x="1816.7" y="151.2" font-size="16.1" text-anchor="end">1.5e-03</text>
<text x="1816.7" y="206.6" font-size="16.1" text-anchor="end">1.0e-03</text>
<text x="1816.7" y="261.3" font-size="16.1" text-anchor="end">5.0e-04</text>
<path d="M1828.8 34.4h-5.8M1828.8 89.5h-5.8M1828.8 144.2h-5.8M1828.8 199.6h-5.8M1828.8 254.3h-5.8" stroke="#000" stroke-width="1.33"/>
<text x="1958.7" y="346.2" font-size="19.5" text-anchor="middle">Target</text>
<text x="1743.4" y="164.9" font-size="19.5" text-anchor="middle" transform="rotate(-90 1743.4 164.9)">Generated</text>
<text x="1836.0" y="56.6" font-size="16.1">CC = 0.96</text><text x="1836.0" y="89.5" font-size="16.1">NRMSE = 0.08</text>
<rect x="2094.7" y="34.3" width="13.0" height="260.3" fill="url(#jetg)" stroke="#000" stroke-width="1.33"/><path d="M2107.7 294.6h5.8M2107.7 269.7h3.3M2107.7 255.1h3.3M2107.7 244.7h3.3M2107.7 236.7h3.3M2107.7 230.2h3.3M2107.7 224.6h3.3M2107.7 219.8h3.3M2107.7 215.6h3.3M2107.7 211.8h5.8M2107.7 186.9h3.3M2107.7 172.3h3.3M2107.7 161.9h3.3M2107.7 153.9h3.3M2107.7 147.4h3.3M2107.7 141.8h3.3M2107.7 137.0h3.3M2107.7 132.8h3.3M2107.7 129.0h5.8M2107.7 104.1h3.3M2107.7 89.5h3.3M2107.7 79.1h3.3M2107.7 71.1h3.3M2107.7 64.6h3.3M2107.7 59.0h3.3M2107.7 54.2h3.3M2107.7 50.0h3.3M2107.7 46.2h5.8" stroke="#000" stroke-width="1.1"/><text x="2120.7" y="302.6" font-size="16.1">10<tspan dy="-7" font-size="11.4">0</tspan></text><text x="2120.7" y="219.8" font-size="16.1">10<tspan dy="-7" font-size="11.4">1</tspan></text><text x="2120.7" y="137.0" font-size="16.1">10<tspan dy="-7" font-size="11.4">2</tspan></text><text x="2120.7" y="54.2" font-size="16.1">10<tspan dy="-7" font-size="11.4">3</tspan></text>
<path d="M262.9 391.0V615.7" stroke="#000" stroke-width="2.7"/>
<rect x="40.8" y="391" width="449.2" height="224.7" fill="none" stroke="#000" stroke-width="1.33"/>
<text x="40.8" y="639.4" font-size="16.1" text-anchor="middle">0</text>
<text x="103.1" y="639.4" font-size="16.1" text-anchor="middle">50</text>
<text x="165.3" y="639.4" font-size="16.1" text-anchor="middle">100</text>
<text x="227.6" y="639.4" font-size="16.1" text-anchor="middle">150</text>
<text x="289.9" y="639.4" font-size="16.1" text-anchor="middle">200</text>
<text x="352.2" y="639.4" font-size="16.1" text-anchor="middle">250</text>
<text x="414.4" y="639.4" font-size="16.1" text-anchor="middle">300</text>
<text x="476.7" y="639.4" font-size="16.1" text-anchor="middle">350</text>
<path d="M40.8 615.7v5.8M103.1 615.7v5.8M165.3 615.7v5.8M227.6 615.7v5.8M289.9 615.7v5.8M352.2 615.7v5.8M414.4 615.7v5.8M476.7 615.7v5.8" stroke="#000" stroke-width="1.33"/>
<text x="28.7" y="412" font-size="16.1" text-anchor="end">60</text>
<text x="28.7" y="453.6" font-size="16.1" text-anchor="end">30</text>
<text x="28.7" y="510" font-size="16.1" text-anchor="end">0</text>
<text x="28.7" y="559.7" font-size="16.1" text-anchor="end">-30</text>
<text x="28.7" y="607.4" font-size="16.1" text-anchor="end">-60</text>
<path d="M40.8 405h-5.8M40.8 446.6h-5.8M40.8 503h-5.8M40.8 552.7h-5.8M40.8 600.4h-5.8" stroke="#000" stroke-width="1.33"/>
<text x="265.4" y="669.7" font-size="26.5" text-anchor="middle">Rs: 12.63</text>
<path d="M799.3 391.0V615.7" stroke="#000" stroke-width="2.7"/>
<rect x="577.2" y="391" width="449.2" height="224.7" fill="none" stroke="#000" stroke-width="1.33"/>
<text x="577.2" y="639.4" font-size="16.1" text-anchor="middle">0</text>
<text x="639.5" y="639.4" font-size="16.1" text-anchor="middle">50</text>
<text x="701.7" y="639.4" font-size="16.1" text-anchor="middle">100</text>
<text x="764" y="639.4" font-size="16.1" text-anchor="middle">150</text>
<text x="826.3" y="639.4" font-size="16.1" text-anchor="middle">200</text>
<text x="888.6" y="639.4" font-size="16.1" text-anchor="middle">250</text>
<text x="950.8" y="639.4" font-size="16.1" text-anchor="middle">300</text>
<text x="1013.1" y="639.4" font-size="16.1" text-anchor="middle">350</text>
<path d="M577.2 615.7v5.8M639.5 615.7v5.8M701.7 615.7v5.8M764 615.7v5.8M826.3 615.7v5.8M888.6 615.7v5.8M950.8 615.7v5.8M1013.1 615.7v5.8" stroke="#000" stroke-width="1.33"/>
<text x="565.1" y="412" font-size="16.1" text-anchor="end">60</text>
<text x="565.1" y="453.6" font-size="16.1" text-anchor="end">30</text>
<text x="565.1" y="510" font-size="16.1" text-anchor="end">0</text>
<text x="565.1" y="559.7" font-size="16.1" text-anchor="end">-30</text>
<text x="565.1" y="607.4" font-size="16.1" text-anchor="end">-60</text>
<path d="M577.2 405h-5.8M577.2 446.6h-5.8M577.2 503h-5.8M577.2 552.7h-5.8M577.2 600.4h-5.8" stroke="#000" stroke-width="1.33"/>
<text x="801.8" y="669.7" font-size="26.5" text-anchor="middle">Rs: 12.63</text>
<path d="M1179.5 619.5L1190.7 618.1L1201.9 615.3L1213.0 612.6L1218.6 608.4L1229.8 602.8L1240.9 595.8L1252.1 584.7L1263.3 574.9L1274.4 563.7L1285.6 547.0L1291.2 538.6L1296.7 528.8L1305.1 519.1L1313.5 507.9L1319.1 498.1L1327.4 482.8L1335.8 463.3L1344.2 443.7L1349.8 429.8L1355.3 411.6L1360.9 401.9L1365.1 399.1L1369.3 387.9L1373.5 383.7L1377.7 396.3L1383.3 421.4L1387.4 452.1L1390.2 499.5L1394.4 538.6L1400.0 554.0L1404.2 558.7L1411.2 555.3L1420.9 547.0L1427.9 533.0L1436.3 507.9L1444.7 480.0L1453.0 463.3L1458.6 456.3L1464.2 456.3L1472.6 460.5L1480.9 468.8L1489.3 480.0L1497.7 494.0L1506.0 512.1L1514.4 528.8L1525.6 545.6L1531.2 555.3L1542.3 569.3L1553.5 580.5L1561.9 590.2L1575.8 598.6L1589.2 602.8" fill="none" stroke="#1f77b4" stroke-width="2.25" stroke-linejoin="round" stroke-linecap="square"/><path d="M1179.5 620.9L1190.7 619.0L1201.9 616.2L1213.0 612.6L1218.6 609.2L1229.8 604.2L1240.9 595.8L1252.1 585.5L1263.3 574.9L1274.4 563.7L1285.6 547.0L1291.2 537.2L1296.7 527.4L1305.1 517.7L1313.5 506.5L1319.1 488.4L1327.4 473.0L1335.8 457.7L1344.2 440.9L1352.6 424.2L1358.1 410.2L1365.1 401.9L1372.1 393.5L1377.7 387.9L1383.3 401.9L1387.4 429.8L1390.2 471.6L1393.0 516.3L1397.2 541.4L1402.8 558.1L1408.4 560.9L1415.3 556.7L1422.3 549.8L1430.7 542.8L1441.9 535.8L1450.2 524.7L1455.8 507.9L1458.6 494.0L1467.0 474.4L1476.7 465.2L1483.7 470.2L1490.7 480.0L1497.7 494.0L1506.0 510.7L1514.4 527.4L1525.6 545.6L1531.2 555.3L1542.3 569.3L1553.5 580.5L1561.9 588.8L1575.8 598.6L1589.2 605.0" fill="none" stroke="#ff7f0e" stroke-width="2.25" stroke-linejoin="round" stroke-linecap="square"/>
<rect x="1160.5" y="373" width="449.7" height="260.3" fill="none" stroke="#000" stroke-width="1.33"/>
<text x="1208.8" y="657" font-size="16.1" text-anchor="middle">-60</text>
<text x="1295.4" y="657" font-size="16.1" text-anchor="middle">-30</text>
<text x="1387.5" y="657" font-size="16.1" text-anchor="middle">0</text>
<text x="1489.9" y="657" font-size="16.1" text-anchor="middle">30</text>
<text x="1566.1" y="657" font-size="16.1" text-anchor="middle">60</text>
<path d="M1208.8 633.3v5.8M1295.4 633.3v5.8M1387.5 633.3v5.8M1489.9 633.3v5.8M1566.1 633.3v5.8" stroke="#000" stroke-width="1.33"/>
<text x="1148.4" y="427" font-size="16.1" text-anchor="end">5.0e-05</text>
<text x="1148.4" y="475" font-size="16.1" text-anchor="end">4.0e-05</text>
<text x="1148.4" y="523.3" font-size="16.1" text-anchor="end">3.0e-05</text>
<text x="1148.4" y="570.7" font-size="16.1" text-anchor="end">2.0e-05</text>
<text x="1148.4" y="619" font-size="16.1" text-anchor="end">1.0e-05</text>
<path d="M1160.5 420h-5.8M1160.5 468h-5.8M1160.5 516.3h-5.8M1160.5 563.7h-5.8M1160.5 612h-5.8" stroke="#000" stroke-width="1.33"/>
<text x="1384.5" y="684.9" font-size="19.5" text-anchor="middle">Latitude</text>
<text x="1076.3" y="506.2" font-size="19.5" text-anchor="middle" transform="rotate(-90 1076.3 506.2)">Density</text>
<rect x="1455.1" y="381.3" width="146.5" height="54.8" rx="3.3" fill="#fff" fill-opacity="0.8" stroke="#d9d9d9" stroke-width="1.33"/><path d="M1460.5 393.7h35.2" stroke="#1f77b4" stroke-width="2.5"/><path d="M1460.5 418.7h35.2" stroke="#ff7f0e" stroke-width="2.5"/><text x="1508" y="400.5" font-size="16.1">Genareted</text><text x="1508" y="425.9" font-size="16.1">Target</text>
<g transform="translate(1828.80 373.00) scale(2.59800 2.60300)" fill="none" stroke-width="1.1" stroke-linecap="square"><path stroke="#000080" d="M82.5 12.5h0m3 0h5m2 0h2m2 0h0m-21 1h0m2 0h8m-12 1h0m2 0h5m-9 1h8m4 0h0m15 0h0m-28 1h5m2 0h1m17 0h1m-26 1h0m3 0h2m8 0h0m12 0h0m-29 1h1m3 0h0m4 0h1m-10 1h3m9 0h0m12 0h1m-27 1h0m6 0h1m16 0h0m-24 1h0m5 0h0m4 0h1m17 0h1m-31 1h0m2 0h0m2 0h0m2 0h0m5 0h0m15 0h0m2 0h0m2 0h0m-32 1h0m2 0h1m5 0h0m18 0h0m3 0h2m-31 1h1m2 0h0m7 0h0m20 0h0m-33 1h1m6 0h0m7 0h0m14 0h1m3 0h0m-34 1h7m3 0h0m20 0h3m-36 1h1m2 0h1m7 0h0m5 0h0m20 0h0m-37 1h9m20 0h0m3 0h1m-37 1h0m6 0h4m5 0h0m16 0h0m7 0h1m-39 1h0m5 0h3m5 0h1m-16 1h0m2 0h0m2 0h1m2 0h3m2 0h2m2 0h1m14 0h0m3 0h0m2 0h0m4 0h0m-42 1h0m2 0h3m2 0h2m2 0h1m5 0h1m15 0h1m4 0h2m-40 1h0m2 0h3m3 0h2m4 0h1m17 0h1m4 0h0m2 0h0m-38 1h11m8 0h0m9 0h0m2 0h3m2 0h0m3 0h0m-37 1h0m2 0h0m2 0h0m2 0h1m6 0h0m15 0h0m4 0h1m2 0h1m-41 1h3m3 0h0m2 0h6m20 0h0m2 0h0m3 0h2m-43 1h0m2 0h0m2 0h2m2 0h3m2 0h0m2 0h1m18 0h0m4 0h0m2 0h0m-39 1h2m3 0h1m3 0h2m3 0h3m17 0h0m2 0h2m2 0h0m-39 1h1m2 0h1m2 0h1m2 0h0m2 0h1m2 0h0m20 0h3m2 0h0m-44 1h3m4 0h0m3 0h7m15 0h1m3 0h6m-41 1h1m2 0h0m2 0h1m2 0h0m2 0h2m2 0h0m17 0h1m5 0h1m2 0h1m-43 1h0m4 0h0m2 0h0m2 0h0m2 0h0m2 0h1m2 0h0m2 0h0m18 0h1m4 0h3m-42 1h2m2 0h1m2 0h3m4 0h0m20 0h0m2 0h5m-42 1h11m6 0h0m15 0h2m2 0h0m2 0h2m-41 1h2m2 0h4m2 0h2m2 0h0m18 0h0m4 0h2m2 0h1m-40 1h3m2 0h2m3 0h1m2 0h0m12 0h0m2 0h0m3 0h7m2 0h1m-41 1h0m2 0h1m2 0h2m3 0h1m18 0h2m2 0h0m2 0h2m2 0h0m-41 1h1m2 0h1m2 0h1m3 0h0m3 0h0m16 0h0m2 0h0m2 0h4m2 0h2m-42 1h0m2 0h0m2 0h7m15 0h1m2 0h0m2 0h2m2 0h1m2 0h2m-39 1h0m2 0h3m2 0h0m6 0h0m17 0h7m2 0h0m-40 1h3m5 0h1m3 0h0m14 0h3m2 0h5m2 0h2m-42 1h0m2 0h1m5 0h1m3 0h0m3 0h0m10 0h1m8 0h5m-39 1h5m2 0h0m3 0h0m17 0h1m2 0h0m2 0h0m2 0h1m3 0h1m-40 1h2m2 0h4m2 0h0m3 0h0m17 0h0m2 0h9m-40 1h0m2 0h1m3 0h1m15 0h0m2 0h1m2 0h7m2 0h0m-37 1h3m4 0h1m16 0h2m2 0h0m2 0h2m2 0h1m2 0h0m-38 1h2m2 0h0m2 0h0m22 0h3m2 0h0m4 0h1m-37 1h3m4 0h1m13 0h1m2 0h0m2 0h5m2 0h1m2 0h0m-38 1h6m5 0h0m10 0h0m4 0h0m5 0h0m2 0h0m2 0h2m-37 1h0m2 0h0m2 0h3m2 0h0m11 0h1m3 0h0m2 0h1m2 0h6m-35 1h3m2 0h0m4 0h0m2 0h0m12 0h1m3 0h0m3 0h2m2 0h1m-36 1h1m2 0h1m3 0h0m3 0h0m10 0h0m2 0h0m3 0h0m4 0h0m3 0h3m-33 1h0m2 0h0m2 0h0m3 0h0m13 0h0m2 0h1m2 0h5m2 0h0m-34 1h0m2 0h4m2 0h1m11 0h0m2 0h0m2 0h1m2 0h3m5 0h1m-37 1h0m4 0h2m2 0h0m13 0h0m2 0h2m3 0h1m-29 1h2m14 0h0m2 0h0m3 0h6m5 0h1m-34 1h1m2 0h1m3 0h0m15 0h6m2 0h3m-33 1h1m2 0h1m3 0h0m11 0h1m2 0h0m2 0h0m2 0h2m2 0h3m-33 1h4m2 0h0m12 0h0m3 0h5m2 0h1m2 0h0m-30 1h2m3 0h1m8 0h0m2 0h2m3 0h6m4 0h1m-30 1h0m13 0h1m3 0h2m2 0h0m3 0h0m2 0h0m2 0h0m-29 1h2m2 0h0m11 0h0m2 0h7m4 0h0m-29 1h1m2 0h0m14 0h1m2 0h0m2 0h0m2 0h0m2 0h0m-29 1h0m3 0h0m15 0h0m2 0h0m2 0h0m2 0h2m-25 1h1m3 0h0m11 0h2m2 0h0m2 0h3m-24 1h1m2 0h1m6 0h0m4 0h2m2 0h4m4 0h0m-27 1h0m2 0h0m2 0h0m7 0h0m3 0h1m2 0h3m2 0h0m3 0h0m-26 1h0m2 0h2m6 0h1m2 0h1m2 0h0m2 0h1m3 0h0m2 0h1m-25 1h1m2 0h0m7 0h1m2 0h0m2 0h1m2 0h0m3 0h0m4 0h0m-24 1h0m8 0h6m2 0h1m5 0h1m-23 1h0m6 0h0m2 0h1m5 0h0m3 0h0m3 0h2m-23 1h0m15 0h1m6 0h0m-28 12h0m-1 1h0m-3 2h0m-1 1h0m0 1h0"/><path stroke="#0003ff" d="M91.5 12.5h0m6 0h0m-11 1h1m4 0h0m4 0h0m-6 1h1m2 0h0m-1 1h0m4 0h0m-16 1h0m5 0h1m3 0h0m2 0h0m3 0h0m-22 1h0m5 0h0m2 0h0m4 0h0m12 0h0m2 0h0m-24 1h0m5 0h0m11 0h0m4 0h0m2 0h0m-24 1h0m16 0h0m2 0h0m4 0h0m-27 1h0m2 0h1m6 0h1m13 0h1m-23 1h0m4 0h0m3 0h0m11 0h0m3 0h0m-15 1h0m8 0h0m8 0h0m-27 1h2m3 0h1m18 0h0m-26 1h0m25 0h2m-29 1h0m2 0h0m4 0h1m2 0h1m13 0h1m-21 1h0m4 0h0m2 0h0m-12 1h4m3 0h0m2 0h0m15 0h0m3 0h1m-18 1h0m15 0h0m3 0h0m-25 1h0m3 0h0m13 0h0m5 0h2m-25 1h0m18 0h0m4 0h0m2 0h0m-26 1h0m4 0h0m3 0h0m12 0h0m3 0h0m2 0h0m-22 1h0m5 0h1m4 0h0m10 0h2m-24 1h0m3 0h1m14 0h0m7 0h0m-25 1h0m3 0h1m13 0h0m7 0h0m-26 1h2m3 0h1m16 0h0m-21 1h1m2 0h2m11 0h2m2 0h0m2 0h0m-22 1h2m12 0h0m5 0h1m2 0h0m-26 1h1m15 0h0m3 0h0m4 0h0m-24 1h0m3 0h0m3 0h0m2 0h0m10 0h5m-20 1h2m14 0h1m-17 1h1m12 0h0m6 0h0m-27 1h0m3 0h0m2 0h0m2 0h0m11 0h0m2 0h3m3 0h0m-25 1h1m3 0h0m13 0h0m2 0h2m-20 1h0m17 0h1m-19 1h0m4 0h0m12 0h0m2 0h0m3 0h1m-19 1h0m9 0h0m5 0h0m-22 1h0m4 0h1m12 0h0m2 0h0m5 0h0m-25 1h0m2 0h1m2 0h0m2 0h1m10 0h1m2 0h0m-19 1h1m3 0h0m9 0h0m3 0h0m2 0h0m4 0h0m-27 1h0m2 0h2m2 0h0m2 0h0m2 0h0m12 0h1m-25 1h2m4 0h0m2 0h1m9 0h0m2 0h0m-16 1h0m2 0h0m3 0h0m12 0h3m-23 1h1m2 0h4m14 0h0m-19 1h0m4 0h0m8 0h3m3 0h0m-16 1h0m11 0h0m3 0h0m-22 1h1m5 0h0m2 0h0m9 0h1m4 0h0m-23 1h0m6 0h0m2 0h0m9 0h0m3 0h0m-19 2h0m2 0h0m13 0h0m6 0h0m-19 1h0m12 0h1m2 0h0m-19 1h0m2 0h0m2 0h0m9 0h3m-15 1h0m3 0h1m12 0h0m2 0h0m-19 1h1m10 0h0m5 0h0m-2 1h0m-13 1h1m7 0h3m2 0h0m-16 1h0m2 0h1m10 0h0m-14 1h0m13 0h0m-14 1h1m2 0h0m7 0h0m2 0h0m3 0h0m-13 1h0m8 0h1m2 0h1m-12 1h0m13 0h0m-16 1h0m2 0h0m7 0h0m4 0h0m-13 1h0m9 0h0m2 0h0m-13 1h0m3 0h0m6 0h2m3 0h0m-15 1h2m9 0h1m-3 1h0m0 1h1m-4 1h0m3 0h0m-2 1h0m-10 1h0m7 0h0m-7 1h0m6 0h0m0 1h0m-20 18h0"/><path stroke="#0044ff" d="M95.5 12.5h0m3 0h0m-9 1h0m3 0h0m5 0h1m-16 1h1m2 0h0m2 0h1m3 0h0m2 0h0m3 0h0m2 0h0m-17 1h1m2 0h0m2 0h0m3 0h0m3 0h0m2 0h0m-12 1h0m10 0h0m6 0h0m-12 1h3m3 0h1m-22 1h0m2 0h0m8 0h0m4 0h0m5 0h1m-20 1h0m3 0h2m11 0h0m4 0h0m-20 1h2m-10 1h0m2 0h0m3 0h1m13 0h0m3 0h1m2 0h0m-24 1h0m5 0h0m5 0h0m-10 1h0m5 0h1m4 0h0m7 0h1m2 0h0m-21 1h0m3 0h0m2 0h2m12 0h0m-24 1h0m2 0h0m5 0h0m13 0h0m6 0h1m-14 1h0m6 0h0m2 0h1m-21 1h0m7 0h0m14 0h0m-20 1h0m2 0h1m12 0h1m-13 1h1m12 0h1m4 0h0m-27 1h0m2 0h0m4 0h0m2 0h0m12 0h0m2 0h0m2 0h0m2 0h0m-19 1h0m3 0h0m10 0h0m5 0h1m-24 1h0m14 0h0m-18 1h0m6 0h0m2 0h0m14 0h0m2 0h0m-21 1h0m6 0h0m-7 1h0m4 0h0m13 0h0m-17 1h0m1 1h0m13 0h0m-13 1h0m8 0h0m5 0h0m-16 1h0m2 0h0m9 0h0m0 1h0m-15 1h1m17 0h0m2 0h0m-7 1h0m-13 1h1m8 0h0m2 0h0m-14 1h1m3 0h0m10 0h1m-14 1h0m10 0h0m2 0h0m2 0h0m3 0h0m-24 1h0m4 0h0m2 0h0m12 0h0m-11 1h0m8 0h0m-11 1h0m-2 1h0m4 0h0m-6 1h0m13 0h0m2 0h1m-18 1h0m6 0h0m-8 1h0m4 0h0m10 0h0m3 0h0m-4 1h0m2 0h0m-20 2h0m4 0h2m2 0h0m8 0h0m-13 1h0m-3 1h0m2 0h1m11 0h0m3 0h0m2 0h0m-14 1h0m8 0h1m3 0h0m-15 1h0m2 0h0m12 0h0m-14 1h1m-7 2h0m3 0h0m12 0h0m-11 1h0m9 0h1m-13 1h0m11 0h1m4 0h0m-17 2h0m10 0h0m-2 1h1m3 0h0m-4 1h0m-2 1h0m-10 1h0m1 1h0m9 0h0m-4 3h1m-3 1h1m-9 2h0"/><path stroke="#006fff" d="M93.5 13.5h0m3 0h0m-10 1h0m9 0h0m2 0h0m-12 1h0m5 0h0m3 0h0m4 0h0m-17 1h0m11 0h0m-12 1h0m2 0h0m9 0h1m-7 1h0m2 0h1m6 0h0m-10 1h0m-7 1h1m4 0h0m4 0h0m2 0h0m-13 1h0m2 0h1m-11 1h0m5 0h0m2 0h0m2 0h0m3 0h0m4 0h0m-14 1h0m3 0h1m-10 1h0m2 0h1m7 0h0m-3 1h0m7 0h1m4 1h0m-14 1h0m-11 2h0m5 0h1m6 0h0m-9 1h0m2 0h0m10 1h0m-18 1h1m5 0h0m0 1h0m16 0h0m-21 1h0m5 0h0m9 0h0m7 0h0m-8 1h2m7 0h0m-19 2h0m7 0h0m1 1h1m-2 1h0m-5 1h1m2 0h0m-4 1h0m4 0h0m-12 1h0m15 1h0m-18 1h0m10 1h0m-10 1h0m12 0h0m-12 1h0m9 0h0m2 0h0m-4 1h0m-1 2h0m-11 2h0m9 1h0m-5 1h0m-1 1h0m-11 1h0m11 0h0m-10 1h0m2 0h0m9 0h0m-13 1h1m1 1h0m7 0h0m-8 1h0m6 0h0m-12 1h0m6 0h0m-1 1h0m10 0h0m-12 1h0m-1 1h0m7 0h0m-11 3h0m10 0h0m-9 1h0m-1 1h0m7 1h0m-6 7h0m-20 17h0m-1 1h0"/><path stroke="#009bff" d="M84.5 14.5h0m-1 2h0m4 0h0m7 0h0m-9 1h0m-6 1h1m2 0h1m-4 1h0m5 1h0m-9 1h0m6 0h0m-13 1h0m11 0h0m4 0h0m-4 1h0m-8 1h0m6 0h0m6 0h0m-13 1h0m-5 1h0m9 0h0m-12 1h0m7 0h2m4 0h1m-17 1h0m6 0h0m7 0h0m-7 1h0m4 0h0m3 0h0m2 0h0m-10 1h0m7 0h0m-2 1h0m-7 1h0m7 0h0m2 0h1m-14 2h0m7 0h0m7 1h0m-12 1h0m7 1h0m-10 1h0m3 1h0m0 2h1m-10 2h0m3 2h0m-11 5h0m7 0h0m-8 1h0m7 0h0m2 0h0m-10 2h0m3 0h0m-4 2h0m4 0h0m-6 1h0m-2 2h0m6 0h0m-1 1h0m0 4h0m-12 3h0m-1 7h0m-6 1h0m-14 19h0"/><path stroke="#00c6ff" d="M94.5 14.5h0m2 1h0m-15 1h0m5 0h0m11 0h0m-17 1h0m9 1h0m-11 1h0m3 0h0m4 0h0m-5 2h0m-4 1h0m5 0h0m-8 1h0m5 1h0m2 0h0m-6 1h0m-11 1h0m4 0h3m3 0h0m3 0h0m2 0h0m-14 1h0m13 0h0m-8 1h0m5 0h0m-11 2h0m6 0h0m3 0h0m-10 1h1m7 0h0m-4 1h0m3 1h0m-7 1h0m-4 2h0m9 0h0m-11 1h0m3 0h0m-5 1h0m15 0h0m-11 1h0m3 0h0m-7 1h0m7 0h0m-9 1h0m-1 1h0m8 0h0m-9 1h0m0 1h0m-2 1h1m6 0h0m-10 2h0m7 1h0m-9 9h0m2 2h0m-7 2h0m1 1h0m-2 1h0m-6 1h0m-1 1h0m1 5h0m-6 1h0m5 0h0m-6 1h0m3 2h0m-6 1h0m-4 9h0m-7 7h0m-1 1h0m-7 4h0m3 0h0"/><path stroke="#00dcff" d="M87.5 15.5h1m1 1h0m-11 4h0m4 0h1m-7 3h2m2 0h0m-7 1h1m2 0h0m5 0h0m-6 1h0m4 0h0m-5 2h0m-8 1h0m5 0h0m-3 3h0m-4 1h0m4 0h0m-7 1h0m2 0h0m5 0h0m-8 2h0m3 2h0m-7 1h0m0 1h0m-4 3h1m5 0h0m0 2h0m-8 1h0m-1 1h0m-3 2h0m7 0h0m-9 1h0m2 4h0m-6 1h0m2 0h0m-3 1h0m-2 3h0m3 0h0m0 1h0m-16 18h0m-10 6h0m-3 7h0"/><path stroke="#0af1ed" d="M82.5 19.5h0m2 0h0m-4 1h0m-2 1h1m4 0h0m-6 1h0m-2 2h0m-4 1h0m2 0h0m-1 2h0m-4 1h0m-1 1h0m0 1h0m0 2h0m-5 1h0m5 0h0m-1 1h0m-2 1h0m-5 1h0m7 0h0m-6 1h0m2 0h0m3 0h0m-5 1h0m2 1h0m-7 1h0m-3 3h0m4 0h0m2 0h0m-4 1h0m2 0h1m-6 1h0m0 4h0m-7 2h1m2 0h0m-6 3h0m3 2h0m-11 5h0m6 0h0m-2 1h0m-5 1h0m-4 4h0m1 5h0m-9 9h0m-7 3h0m-1 1h0m4 0h0m-13 10h0"/><path stroke="#1bffdc" d="M84.5 17.5h0m-5 3h0m-4 6h0m-7 1h0m5 0h0m-6 1h0m-1 1h0m4 0h0m-5 2h0m1 2h0m-2 1h0m-3 1h0m4 0h1m-3 1h0m-5 1h0m3 0h0m1 1h0m-9 2h0m3 0h0m2 0h0m-3 1h0m4 0h0m-4 3h0m-4 2h1m2 0h0m-1 1h0m-2 3h0m-3 2h0m-3 2h0m-9 5h0m-1 6h0m-5 5h0m-5 6h0m-3 3h0"/><path stroke="#2dffca" d="M80.5 19.5h0m-5 4h0m-4 6h0m-5 1h0m2 0h0m-1 1h0m0 3h0m-8 1h0m5 1h1m-8 3h0m2 0h0m-6 2h0m-2 3h1m-2 3h0m2 0h0m-4 1h0m0 2h0m0 1h0m-4 1h1m2 0h0m0 1h0m-3 1h0m-5 2h0m3 1h0m-4 2h0m-5 8h0m-2 2h0m-5 1h0m3 1h0m-11 8h0m-14 15h0"/><path stroke="#3effb9" d="M79.5 24.5h0m-7 1h0m1 3h0m-8 2h0m5 0h0m-4 1h0m-3 1h0m1 1h0m-1 1h0m-1 1h1m-2 1h1m-4 2h1m2 0h0m-4 2h0m-3 1h0m2 0h1m-3 1h3m-2 1h0m-2 1h0m-5 2h0m2 0h0m-2 1h0m1 1h1m-4 1h2m2 0h0m-1 1h0m-3 1h0m0 1h0m-3 1h0m-2 2h0m2 0h0m0 1h0m-4 1h0m2 0h0m-2 1h0m2 0h0m-2 1h0m-1 3h0m-2 2h0m-8 4h0m0 4h0m-9 6h0m4 0h0m-2 2h0m-5 1h0m3 1h0m-14 11h0m-4 4h0m-1 1h0"/><path stroke="#50ffa7" d="M70.5 28.5h0m-5 5h0m-12 10h0m-1 2h0m-5 5h0m-5 3h0m-1 3h0m-3 1h0m-3 3h0m0 2h0m0 1h0m0 1h0m-1 2h0m-7 3h0m-5 6h0m-2 2h0"/><path stroke="#61ff96" d="M72.5 26.5h0m-19 19h0m-4 2h0m2 0h0m-4 1h0m4 0h0m-6 2h1m-3 2h0m2 1h0m-3 2h0m-2 1h0m2 0h0m-6 4h0m2 0h1m-4 1h0m2 0h0m-6 4h0m3 0h0m-5 2h0m3 1h0m-5 5h0m-1 1h0m-1 1h0m-4 1h0m-4 4h0m-2 2h0m-9 10h0"/><path stroke="#73ff84" d="M54.5 43.5h0m-1 3h0m-10 8h0m-6 6h0m-3 2h0m-1 1h0m3 0h0m-4 1h0m-2 2h0m3 0h0m-2 2h0m-13 15h0"/><path stroke="#84ff73" d="M49.5 49.5h0m-11 9h0m-1 1h0m-3 4h0m-1 1h0m-1 2h0m-4 3h0m-2 2h0m-1 1h0"/><path stroke="#96ff61" d="M40.5 57.5h0m-4 5h0m-9 8h0m-3 3h0m-1 1h0m0 3h0"/><path stroke="#a7ff50" d="M30.5 67.5h2m-3 1h0m1 1h0"/><path stroke="#b9ff3e" d="M36.5 61.5h0m-2 3h0m-2 1h1m-2 1h0m-1 2h0m-1 2h0m-3 3h0m-4 5h0"/><path stroke="#caff2d" d="M20.5 78.5h0"/><path stroke="#dcff1b" d="M28.5 70.5h0m-1 2h0m-2 2h0m-2 1h0m0 1h1m-3 1h0m-21 22h0"/><path stroke="#edff0a" d="M29.5 69.5h0m-1 2h0m-2 1h0m-1 1h0m-3 3h0m-3 3h0m2 0h0m-3 1h0"/><path stroke="#ffed00" d="M27.5 71.5h0m-3 3h0m-2 3h0m-1 1h0m-1 2h0m-3 1h0"/><path stroke="#ffd800" d="M16.5 82.5h0m2 0h0m-3 1h0m-1 1h0m0 2h0"/><path stroke="#ffc400" d="M24.5 75.5h0m-4 4h0m-2 2h1m-2 2h0m-12 12h0"/><path stroke="#ffb000" d="M19.5 80.5h0m-6 5h0m2 0h0m-2 2h0m-3 1h0m-1 3h0"/><path stroke="#ff9c00" d="M17.5 82.5h0m-1 1h0m0 1h0m-4 4h0m-1 1h0m-1 1h0m-3 1h0m-1 3h0m-3 3h0m-1 1h0"/><path stroke="#ff8800" d="M12.5 86.5h0m-1 1h0m-3 3h0m0 2h0m-1 1h0m-3 3h0m-3 3h0"/><path stroke="#ff7400" d="M9.5 89.5h0"/><path stroke="#ff6000" d="M15.5 84.5h0"/><path stroke="#ff4c00" d="M14.5 85.5h0"/><path stroke="#ff2400" d="M13.5 86.5h0m-1 1h0m-1 1h0"/><path stroke="#fb0f00" d="M9.5 90.5h0m-1 1h0"/><path stroke="#e20000" d="M10.5 89.5h0m-4 4h0m-1 1h0m-3 3h0"/><path stroke="#c90000" d="M7.5 92.5h0m-3 3h0m-1 1h0"/><path stroke="#b10000" d="M1.5 98.5h0"/></g>
<rect x="1828.8" y="373" width="259.8" height="260.3" fill="none" stroke="#000" stroke-width="1.33"/>
<text x="1875.3" y="657" font-size="16.1" text-anchor="middle">2.0e-05</text>
<text x="1951.3" y="657" font-size="16.1" text-anchor="middle">4.0e-05</text>
<text x="2027.3" y="657" font-size="16.1" text-anchor="middle">6.0e-05</text>
<path d="M1875.3 633.3v5.8M1951.3 633.3v5.8M2027.3 633.3v5.8" stroke="#000" stroke-width="1.33"/>
<text x="1816.7" y="403.8" font-size="16.1" text-anchor="end">7.0e-05</text>
<text x="1816.7" y="442.7" font-size="16.1" text-anchor="end">6.0e-05</text>
<text x="1816.7" y="480.7" font-size="16.1" text-anchor="end">5.0e-05</text>
<text x="1816.7" y="518.5" font-size="16.1" text-anchor="end">4.0e-05</text>
<text x="1816.7" y="556.5" font-size="16.1" text-anchor="end">3.0e-05</text>
<text x="1816.7" y="594.2" font-size="16.1" text-anchor="end">2.0e-05</text>
<text x="1816.7" y="632.2" font-size="16.1" text-anchor="end">1.0e-05</text>
<path d="M1828.8 396.8h-5.8M1828.8 435.7h-5.8M1828.8 473.7h-5.8M1828.8 511.5h-5.8M1828.8 549.5h-5.8M1828.8 587.2h-5.8M1828.8 625.2h-5.8" stroke="#000" stroke-width="1.33"/>
<text x="1958.7" y="684.9" font-size="19.5" text-anchor="middle">Target</text>
<text x="1743.6" y="503.6" font-size="19.5" text-anchor="middle" transform="rotate(-90 1743.6 503.6)">Generated</text>
<text x="1837.3" y="397.2" font-size="16.1">CC = 0.99</text><text x="1837.3" y="435.0" font-size="16.1">NRMSE = 0.04</text>
<rect x="2094.7" y="373.0" width="13.0" height="260.3" fill="url(#jetg)" stroke="#000" stroke-width="1.33"/><path d="M2107.7 633.3h5.8M2107.7 601.7h3.3M2107.7 583.2h3.3M2107.7 570.1h3.3M2107.7 559.9h3.3M2107.7 551.6h3.3M2107.7 544.6h3.3M2107.7 538.5h3.3M2107.7 533.1h3.3M2107.7 528.3h5.8M2107.7 496.7h3.3M2107.7 478.2h3.3M2107.7 465.1h3.3M2107.7 454.9h3.3M2107.7 446.6h3.3M2107.7 439.6h3.3M2107.7 433.5h3.3M2107.7 428.1h3.3M2107.7 423.3h5.8M2107.7 391.7h3.3M2107.7 373.2h3.3" stroke="#000" stroke-width="1.1"/><text x="2120.7" y="641.3" font-size="16.1">10<tspan dy="-7" font-size="11.4">0</tspan></text><text x="2120.7" y="536.3" font-size="16.1">10<tspan dy="-7" font-size="11.4">1</tspan></text><text x="2120.7" y="431.3" font-size="16.1">10<tspan dy="-7" font-size="11.4">2</tspan></text>
<path d="M262.9 729.7V954.4" stroke="#000" stroke-width="2.7"/>
<rect x="40.8" y="729.7" width="449.2" height="224.7" fill="none" stroke="#000" stroke-width="1.33"/>
<text x="40.8" y="978.1" font-size="16.1" text-anchor="middle">0</text>
<text x="103.1" y="978.1" font-size="16.1" text-anchor="middle">50</text>
<text x="165.3" y="978.1" font-size="16.1" text-anchor="middle">100</text>
<text x="227.6" y="978.1" font-size="16.1" text-anchor="middle">150</text>
<text x="289.9" y="978.1" font-size="16.1" text-anchor="middle">200</text>
<text x="352.2" y="978.1" font-size="16.1" text-anchor="middle">250</text>
<text x="414.4" y="978.1" font-size="16.1" text-anchor="middle">300</text>
<text x="476.7" y="978.1" font-size="16.1" text-anchor="middle">350</text>
<path d="M40.8 954.4v5.8M103.1 954.4v5.8M165.3 954.4v5.8M227.6 954.4v5.8M289.9 954.4v5.8M352.2 954.4v5.8M414.4 954.4v5.8M476.7 954.4v5.8" stroke="#000" stroke-width="1.33"/>
<text x="28.7" y="750.7" font-size="16.1" text-anchor="end">60</text>
<text x="28.7" y="792.3" font-size="16.1" text-anchor="end">30</text>
<text x="28.7" y="848.7" font-size="16.1" text-anchor="end">0</text>
<text x="28.7" y="898.4" font-size="16.1" text-anchor="end">-30</text>
<text x="28.7" y="946.1" font-size="16.1" text-anchor="end">-60</text>
<path d="M40.8 743.7h-5.8M40.8 785.3h-5.8M40.8 841.7h-5.8M40.8 891.4h-5.8M40.8 939.1h-5.8" stroke="#000" stroke-width="1.33"/>
<text x="265.4" y="1008.4" font-size="26.5" text-anchor="middle">Rs: 25.4</text>
<path d="M799.3 729.7V954.4" stroke="#000" stroke-width="2.7"/>
<rect x="577.2" y="729.7" width="449.2" height="224.7" fill="none" stroke="#000" stroke-width="1.33"/>
<text x="577.2" y="978.1" font-size="16.1" text-anchor="middle">0</text>
<text x="639.5" y="978.1" font-size="16.1" text-anchor="middle">50</text>
<text x="701.7" y="978.1" font-size="16.1" text-anchor="middle">100</text>
<text x="764" y="978.1" font-size="16.1" text-anchor="middle">150</text>
<text x="826.3" y="978.1" font-size="16.1" text-anchor="middle">200</text>
<text x="888.6" y="978.1" font-size="16.1" text-anchor="middle">250</text>
<text x="950.8" y="978.1" font-size="16.1" text-anchor="middle">300</text>
<text x="1013.1" y="978.1" font-size="16.1" text-anchor="middle">350</text>
<path d="M577.2 954.4v5.8M639.5 954.4v5.8M701.7 954.4v5.8M764 954.4v5.8M826.3 954.4v5.8M888.6 954.4v5.8M950.8 954.4v5.8M1013.1 954.4v5.8" stroke="#000" stroke-width="1.33"/>
<text x="565.1" y="750.7" font-size="16.1" text-anchor="end">60</text>
<text x="565.1" y="792.3" font-size="16.1" text-anchor="end">30</text>
<text x="565.1" y="848.7" font-size="16.1" text-anchor="end">0</text>
<text x="565.1" y="898.4" font-size="16.1" text-anchor="end">-30</text>
<text x="565.1" y="946.1" font-size="16.1" text-anchor="end">-60</text>
<path d="M577.2 743.7h-5.8M577.2 785.3h-5.8M577.2 841.7h-5.8M577.2 891.4h-5.8M577.2 939.1h-5.8" stroke="#000" stroke-width="1.33"/>
<text x="801.8" y="1008.4" font-size="26.5" text-anchor="middle">Rs: 25.4</text>
<path d="M1179.5 959.0L1190.7 956.7L1201.9 952.6L1213.0 947.0L1218.6 942.2L1229.8 933.0L1240.9 923.3L1249.3 914.9L1252.1 910.7L1263.3 900.4L1274.4 888.4L1285.6 873.0L1291.2 861.9L1296.7 839.5L1302.3 827.0L1307.9 814.4L1313.5 792.1L1319.1 765.6L1320.5 761.4L1324.7 767.0L1330.2 780.9L1335.8 806.0L1342.8 836.7L1351.2 838.1L1358.1 850.7L1366.5 860.5L1374.9 867.4L1383.3 878.6L1387.4 887.0L1391.6 892.6L1400.0 898.7L1411.2 902.3L1416.7 900.4L1420.9 900.4L1425.1 892.6L1430.7 889.8L1436.3 888.4L1441.9 882.8L1447.4 882.8L1453.0 881.4L1457.2 875.8L1458.6 870.2L1464.2 856.3L1471.2 839.5L1478.1 835.3L1483.7 836.7L1489.3 845.1L1497.7 864.7L1508.8 881.4L1520.0 898.1L1525.6 906.5L1536.7 920.5L1547.9 931.6L1559.1 940.0L1564.7 944.2L1575.8 949.8L1589.2 954.8" fill="none" stroke="#1f77b4" stroke-width="2.25" stroke-linejoin="round" stroke-linecap="square"/><path d="M1179.5 959.0L1190.7 955.3L1201.9 950.6L1213.0 945.0L1218.6 940.0L1229.8 933.0L1240.9 921.9L1249.3 912.1L1252.1 905.1L1263.3 889.8L1274.4 874.4L1285.6 860.5L1291.2 849.3L1296.7 839.5L1305.1 822.8L1310.7 803.3L1316.3 767.0L1320.5 726.5L1324.7 722.3L1330.2 747.4L1335.8 783.7L1340.0 817.2L1344.2 829.8L1352.6 836.7L1360.9 842.3L1369.3 847.9L1377.7 853.5L1386.0 860.5L1391.6 870.2L1400.0 881.4L1408.4 887.5L1416.7 886.4L1423.7 881.4L1430.7 877.2L1439.1 868.8L1447.4 856.3L1455.8 834.0L1458.6 820.0L1465.6 813.0L1471.2 815.8L1478.1 825.6L1486.5 839.5L1492.1 852.1L1500.5 870.2L1511.6 889.8L1520.0 905.1L1525.6 914.9L1536.7 927.4L1547.9 937.2L1559.1 947.0L1575.8 954.0L1589.2 959.5" fill="none" stroke="#ff7f0e" stroke-width="2.25" stroke-linejoin="round" stroke-linecap="square"/>
<rect x="1160.5" y="711.7" width="449.7" height="260.3" fill="none" stroke="#000" stroke-width="1.33"/>
<text x="1208.8" y="995.7" font-size="16.1" text-anchor="middle">-60</text>
<text x="1295.4" y="995.7" font-size="16.1" text-anchor="middle">-30</text>
<text x="1387.5" y="995.7" font-size="16.1" text-anchor="middle">0</text>
<text x="1489.9" y="995.7" font-size="16.1" text-anchor="middle">30</text>
<text x="1566.1" y="995.7" font-size="16.1" text-anchor="middle">60</text>
<path d="M1208.8 972v5.8M1295.4 972v5.8M1387.5 972v5.8M1489.9 972v5.8M1566.1 972v5.8" stroke="#000" stroke-width="1.33"/>
<text x="1148.4" y="749.7" font-size="16.1" text-anchor="end">1.0e-05</text>
<text x="1148.4" y="804.1" font-size="16.1" text-anchor="end">8.0e-06</text>
<text x="1148.4" y="856.9" font-size="16.1" text-anchor="end">6.0e-06</text>
<text x="1148.4" y="911.6" font-size="16.1" text-anchor="end">4.0e-06</text>
<text x="1148.4" y="965.2" font-size="16.1" text-anchor="end">2.0e-06</text>
<path d="M1160.5 742.7h-5.8M1160.5 797.1h-5.8M1160.5 849.9h-5.8M1160.5 904.6h-5.8M1160.5 958.2h-5.8" stroke="#000" stroke-width="1.33"/>
<text x="1384.5" y="1023.6" font-size="19.5" text-anchor="middle">Latitude</text>
<text x="1076.3" y="844.9" font-size="19.5" text-anchor="middle" transform="rotate(-90 1076.3 844.9)">Density</text>
<rect x="1455.1" y="720.0" width="146.5" height="54.8" rx="3.3" fill="#fff" fill-opacity="0.8" stroke="#d9d9d9" stroke-width="1.33"/><path d="M1460.5 732.4h35.2" stroke="#1f77b4" stroke-width="2.5"/><path d="M1460.5 757.4h35.2" stroke="#ff7f0e" stroke-width="2.5"/><text x="1508" y="739.2" font-size="16.1">Genareted</text><text x="1508" y="764.6" font-size="16.1">Target</text>
<g transform="translate(1828.80 711.70) scale(2.59800 2.60300)" fill="none" stroke-width="1.1" stroke-linecap="square"><path stroke="#000080" d="M49.5 29.5h0m18 0h0m2 0h1m2 0h2m3 0h2m-33 1h0m2 0h4m11 0h2m3 0h1m7 0h0m8 0h1m-40 1h0m2 0h0m2 0h4m8 0h0m22 0h0m4 0h1m-45 1h0m3 0h0m2 0h2m2 0h0m2 0h3m2 0h0m2 0h0m2 0h0m23 0h0m2 0h1m-47 1h0m3 0h0m2 0h0m2 0h2m3 0h1m3 0h0m2 0h0m27 0h1m2 0h0m-52 1h0m4 0h1m2 0h1m2 0h3m2 0h3m2 0h0m28 0h3m-49 1h3m2 0h0m3 0h0m2 0h0m3 0h0m33 0h1m4 0h0m-53 1h0m3 0h6m3 0h0m5 0h1m32 0h1m-53 1h0m2 0h2m4 0h0m4 0h0m2 0h0m2 0h2m2 0h0m23 0h0m3 0h0m4 0h1m2 0h0m2 0h0m4 0h0m-57 1h1m3 0h0m2 0h3m2 0h1m18 0h0m15 0h0m4 0h0m2 0h1m6 0h0m-57 1h0m3 0h1m3 0h0m2 0h1m2 0h1m22 0h1m6 0h5m2 0h0m2 0h5m3 0h0m-61 1h0m2 0h3m2 0h0m3 0h0m4 0h1m28 0h5m2 0h0m2 0h0m3 0h4m-61 1h0m2 0h0m2 0h0m2 0h3m2 0h0m2 0h0m15 0h0m17 0h7m3 0h0m2 0h3m-61 1h2m3 0h1m4 0h1m21 0h0m10 0h3m2 0h1m3 0h1m10 0h0m-62 1h0m3 0h0m2 0h4m4 0h1m15 0h0m5 0h0m6 0h1m6 0h0m2 0h2m2 0h0m-52 1h0m2 0h2m2 0h0m7 0h0m26 0h3m3 0h3m-48 1h0m2 0h3m3 0h1m2 0h0m20 0h0m2 0h0m4 0h0m6 0h4m2 0h0m2 0h2m-55 1h0m2 0h6m2 0h1m16 0h0m4 0h0m4 0h0m2 0h1m2 0h2m3 0h5m2 0h0m2 0h0m-55 1h7m2 0h0m2 0h2m15 0h1m2 0h1m4 0h0m2 0h0m2 0h0m2 0h0m3 0h1m2 0h3m-50 1h0m2 0h4m4 0h0m15 0h0m2 0h0m5 0h0m3 0h1m4 0h7m3 0h3m-52 1h2m3 0h0m14 0h1m5 0h1m5 0h0m4 0h0m8 0h0m2 0h3m-50 1h1m3 0h0m3 0h0m13 0h0m4 0h1m3 0h3m2 0h1m2 0h0m5 0h5m2 0h0m3 0h0m-51 1h1m2 0h0m2 0h1m15 0h0m4 0h0m3 0h3m2 0h1m2 0h0m2 0h0m2 0h0m2 0h5m2 0h0m2 0h1m-53 1h0m3 0h1m3 0h1m15 0h1m2 0h1m2 0h2m2 0h0m2 0h1m2 0h4m2 0h0m3 0h0m3 0h2m-52 1h2m2 0h0m2 0h0m11 0h0m8 0h0m3 0h4m3 0h1m2 0h1m4 0h2m2 0h1m2 0h0m2 0h1m-53 1h2m2 0h0m2 0h0m12 0h0m3 0h0m4 0h1m2 0h0m2 0h0m2 0h1m3 0h2m2 0h1m2 0h8m-52 1h1m3 0h0m2 0h0m13 0h1m2 0h0m3 0h0m2 0h0m3 0h3m3 0h2m3 0h0m2 0h2m5 0h3m-54 1h5m11 0h1m9 0h0m2 0h3m4 0h0m2 0h2m2 0h1m2 0h8m2 0h1m-55 1h2m4 0h0m9 0h2m2 0h0m4 0h0m2 0h3m2 0h2m2 0h0m2 0h3m2 0h0m2 0h5m2 0h1m2 0h2m-56 1h0m3 0h1m14 0h1m2 0h0m4 0h2m3 0h0m2 0h1m4 0h1m2 0h0m2 0h2m4 0h3m4 0h0m-56 1h3m2 0h0m11 0h1m4 0h2m2 0h0m2 0h0m5 0h5m3 0h16m-56 1h0m2 0h3m9 0h0m3 0h2m3 0h1m2 0h1m2 0h0m2 0h2m3 0h3m2 0h4m4 0h0m2 0h4m-54 1h0m16 0h0m3 0h0m3 0h2m3 0h1m2 0h3m3 0h1m2 0h1m3 0h2m2 0h1m3 0h2m2 0h0m-57 1h1m2 0h1m12 0h0m2 0h1m5 0h0m2 0h2m6 0h2m2 0h4m3 0h2m2 0h0m2 0h0m2 0h1m-50 1h0m11 0h0m3 0h1m2 0h1m2 0h0m4 0h1m2 0h0m5 0h1m2 0h0m3 0h0m2 0h0m3 0h1m2 0h0m2 0h0m2 0h0m3 0h0m-58 1h2m2 0h0m16 0h2m2 0h0m2 0h1m2 0h0m2 0h0m8 0h3m3 0h0m2 0h3m2 0h0m2 0h0m3 0h1m-59 1h1m3 0h0m12 0h0m2 0h2m2 0h3m2 0h0m4 0h0m3 0h4m2 0h0m2 0h0m2 0h0m2 0h2m4 0h4m2 0h0m-59 1h2m13 0h3m4 0h2m2 0h2m2 0h1m6 0h4m4 0h2m4 0h3m2 0h1m-57 1h0m13 0h1m2 0h2m2 0h2m2 0h2m2 0h2m2 0h1m2 0h0m5 0h0m3 0h0m3 0h7m3 0h2m-59 1h0m15 0h1m2 0h4m3 0h0m3 0h0m4 0h0m2 0h0m8 0h1m2 0h1m3 0h0m3 0h7m-60 1h0m15 0h0m2 0h1m2 0h0m5 0h1m4 0h0m7 0h0m4 0h0m2 0h0m2 0h1m2 0h1m3 0h1m2 0h0m3 0h2m2 0h0m-62 1h1m12 0h0m2 0h1m4 0h1m4 0h2m2 0h0m5 0h1m3 0h1m4 0h1m2 0h2m2 0h0m3 0h0m3 0h0m3 0h0m2 0h0m-63 1h0m2 0h0m11 0h0m3 0h2m2 0h6m2 0h0m3 0h0m10 0h1m2 0h1m2 0h0m4 0h1m5 0h0m2 0h0m3 0h1m2 0h1m-66 1h1m10 0h3m4 0h3m2 0h1m2 0h0m2 0h0m2 0h2m3 0h2m2 0h0m2 0h3m2 0h2m2 0h6m2 0h0m5 0h1m-65 1h1m10 0h0m2 0h0m2 0h1m2 0h2m2 0h2m2 0h0m2 0h0m3 0h2m5 0h0m3 0h0m4 0h0m2 0h0m2 0h2m4 0h1m2 0h1m5 0h1m-66 1h2m9 0h0m5 0h2m2 0h1m3 0h3m4 0h0m2 0h0m6 0h0m3 0h1m4 0h0m4 0h0m3 0h2m3 0h0m3 0h0m4 0h0m-67 1h1m13 0h4m5 0h1m6 0h0m7 0h0m4 0h1m3 0h0m2 0h0m2 0h0m7 0h3m4 0h1m-64 1h1m9 0h1m3 0h13m3 0h0m19 0h1m2 0h0m5 0h6m-64 1h1m8 0h0m2 0h4m6 0h0m2 0h0m3 0h0m41 0h1m-69 1h1m8 0h0m6 0h0m2 0h3m4 0h1m3 0h0m-28 1h0m9 0h0m2 0h4m2 0h0m2 0h0m-21 1h1m12 0h5m2 0h3m2 0h0m-17 1h2m2 0h3m-15 1h0m7 0h3m2 0h0m2 0h1m3 0h0m-9 1h5m-8 1h1m2 0h2m-6 1h0m2 0h1m2 0h0m-7 1h1m2 0h1m-4 1h2m-8 1h0m5 0h1m-2 1h0m0 1h0m-3 2h0m-2 2h0m-1 1h0m-1 1h0m-2 2h0"/><path stroke="#0003ff" d="M75.5 29.5h0m-9 1h0m8 0h0m4 0h1m-19 1h0m2 0h0m2 0h0m3 0h0m6 0h0m2 0h1m-18 1h0m2 0h0m2 0h0m18 0h1m3 0h1m-26 1h0m1 1h0m25 0h0m-34 1h0m3 0h2m2 0h0m2 0h0m-9 1h0m2 0h1m3 0h1m3 0h0m24 0h1m-31 1h0m5 0h0m18 0h0m3 0h0m2 0h0m2 0h0m-37 1h0m6 0h0m3 0h1m11 0h0m11 0h0m2 0h0m2 0h0m2 0h0m-39 1h0m3 0h0m3 0h1m14 0h0m12 0h0m-30 1h0m4 0h0m10 0h1m6 0h1m3 0h0m2 0h1m-28 1h1m14 0h0m3 0h0m4 0h0m4 0h0m3 0h0m-32 1h1m3 0h0m13 0h0m4 0h3m2 0h0m7 0h0m-36 1h1m16 0h1m2 0h0m2 0h0m4 0h0m3 0h0m5 0h0m-36 1h1m2 0h1m11 0h0m5 0h0m2 0h2m5 0h0m2 0h0m-16 1h3m2 0h0m3 0h0m2 0h0m6 0h2m2 0h0m-31 1h0m10 0h0m6 0h0m4 0h1m5 0h0m4 0h1m-21 1h0m3 0h0m10 0h0m2 0h0m2 0h0m3 0h0m-34 1h0m13 0h1m3 0h0m3 0h1m3 0h1m3 0h1m-30 1h1m13 0h0m7 0h0m2 0h0m3 0h1m5 0h1m2 0h0m-39 1h1m17 0h0m3 0h0m6 0h0m3 0h0m2 0h0m2 0h1m-36 1h0m5 0h0m11 0h0m3 0h1m2 0h1m5 0h0m3 0h0m2 0h0m-33 1h0m6 0h0m7 0h0m19 0h0m-16 1h1m4 0h0m11 0h0m5 0h0m-37 1h0m11 0h0m6 0h2m3 0h0m2 0h0m2 0h0m4 0h0m-20 1h2m5 0h0m3 0h0m13 0h0m-33 1h0m12 0h1m2 0h3m-20 1h0m13 0h0m6 0h0m-20 1h0m10 0h0m5 0h0m2 0h1m-20 1h0m2 0h0m9 0h0m3 0h1m-18 1h0m14 0h0m5 0h1m-20 1h2m12 0h0m2 0h0m3 0h1m-21 1h0m12 0h1m-14 1h0m19 0h0m-7 1h0m2 0h3m-18 1h0m3 0h0m10 0h0m2 0h0m-14 1h0m10 0h0m5 0h0m-7 1h0m3 0h0m4 0h0m-7 1h0m-12 1h0m14 0h0m-5 1h1m-2 1h0m2 0h0m1 1h0m-4 1h0m2 0h0m-5 1h0m2 0h0m2 0h1m-6 1h0m3 0h0m-5 3h4m-13 1h0m-1 1h0m6 0h0m2 0h0m2 0h0m-11 1h0m10 0h0m-6 3h0m3 0h0m-4 1h0m2 0h0m-1 1h0m-8 7h0"/><path stroke="#0044ff" d="M67.5 30.5h0m3 0h1m4 0h0m7 0h0m-19 1h0m8 0h1m2 0h0m5 0h2m3 0h1m-21 1h0m3 0h0m4 0h1m-16 1h0m24 0h1m3 0h2m-25 1h2m21 0h0m-27 1h0m2 0h0m19 0h0m6 0h0m-32 1h0m7 0h0m4 0h0m11 0h0m3 0h0m6 0h1m3 0h0m-17 1h0m2 0h0m5 0h0m3 0h0m4 0h0m-33 1h1m3 0h0m8 0h0m4 0h0m6 0h0m3 0h0m2 0h1m2 0h0m4 0h0m-16 1h1m2 0h0m6 0h0m-29 1h0m4 0h0m14 0h0m2 0h1m4 0h0m2 0h0m-24 1h0m15 0h0m3 0h1m2 0h2m3 0h0m-28 1h0m12 0h1m2 0h0m7 0h0m3 0h0m-25 1h0m17 0h0m2 0h0m2 0h1m-28 1h0m3 0h0m2 0h0m9 0h0m9 0h0m3 0h0m9 0h0m-34 1h0m19 0h0m5 0h0m-27 1h0m3 0h0m12 0h2m2 0h0m8 0h0m-29 1h0m2 0h0m13 0h0m2 0h1m7 0h1m-21 1h0m-5 1h0m12 0h0m4 0h1m2 1h0m-19 1h0m10 0h1m3 0h0m-14 1h0m7 0h0m9 0h0m3 0h0m-10 1h2m3 0h0m-6 1h0m2 0h1m-18 1h0m18 0h0m-19 2h1m11 1h1m-11 1h0m9 1h0m-12 1h1m9 0h0m-10 1h0m-3 1h0m-1 1h0m2 0h0m10 0h0m-4 2h0m-10 1h0m10 1h0m3 0h0m-15 1h0m9 0h1m-4 2h0m-1 1h0m-9 1h0m8 0h0m-1 2h1m-4 1h1m4 0h0m-4 1h0m-4 2h0m0 1h0m-4 3h1m-15 12h0"/><path stroke="#006fff" d="M72.5 30.5h1m4 0h0m3 0h0m-15 1h0m4 0h0m13 0h0m-4 1h0m-17 1h0m8 0h0m13 0h0m-23 1h0m15 0h0m4 0h0m3 0h0m2 0h0m-22 1h0m19 0h0m-7 1h0m7 0h0m-23 1h0m11 0h0m5 0h0m2 0h0m-22 1h0m3 0h0m9 0h0m5 0h0m-5 1h2m9 0h0m-21 1h0m2 0h1m3 0h0m5 0h0m13 0h0m-26 1h1m12 0h0m11 0h0m-19 2h2m0 1h0m3 0h0m-16 1h0m3 0h0m26 0h0m-11 1h0m-19 1h0m16 0h0m-5 1h0m4 0h0m-18 1h1m17 0h0m9 0h0m-29 1h1m7 0h0m-7 1h0m7 0h0m1 1h2m-6 1h1m8 0h0m-20 2h0m2 1h0m10 0h0m-8 7h0m2 0h0m-4 2h0m-13 3h0m9 0h0m-11 2h0m-1 1h0m4 3h0m-1 1h0m-2 1h0m-1 1h0m0 2h0m-8 8h0m-8 5h0m-4 7h0"/><path stroke="#009bff" d="M81.5 30.5h0m-15 1h0m12 0h0m-1 1h0m5 0h0m-16 1h0m17 0h0m-19 1h0m18 0h0m-19 1h1m13 0h0m2 0h0m2 0h0m-12 1h0m2 0h0m5 0h0m2 0h1m2 0h1m-23 1h0m12 1h0m3 0h0m3 0h0m-21 1h0m5 0h1m11 0h0m-24 2h0m12 0h0m8 0h0m-16 1h1m-3 1h1m-2 1h0m2 0h0m2 0h0m-6 1h0m13 0h0m-6 1h0m8 0h0m-9 1h0m-3 2h0m-1 1h0m-11 1h0m4 0h0m-2 1h0m7 0h0m-10 1h1m6 1h1m-10 3h0m6 0h0m-1 2h0m-8 1h0m0 1h0m7 0h0m-10 9h0m-13 5h0m0 7h0m-6 1h0m-2 4h0m2 2h0m-8 5h0"/><path stroke="#00c6ff" d="M70.5 31.5h0m7 0h0m-11 1h0m7 0h0m2 0h0m4 0h0m-17 1h2m9 0h0m2 0h0m-10 1h1m6 0h1m7 0h0m-15 1h2m4 0h0m4 0h0m7 0h0m-24 2h0m11 0h0m3 1h0m-17 1h0m9 0h0m7 0h0m-9 1h1m5 0h0m-11 1h3m2 0h0m-7 1h0m2 0h0m3 0h0m7 0h0m-13 1h0m2 0h0m-9 3h0m6 0h0m0 1h0m-7 1h0m4 0h0m2 0h0m-6 1h0m3 0h0m-5 1h0m2 2h0m-1 1h0m0 2h0m-2 2h0m-8 1h0m0 1h0m-5 4h0m8 0h0m-1 1h0m-1 1h0m-10 2h0m-1 1h0m-1 1h0m-1 1h0m4 2h0m-9 9h0m-3 3h0m-1 1h0m-10 8h0"/><path stroke="#00dcff" d="M68.5 31.5h0m-3 1h0m4 0h0m5 0h0m2 0h0m-11 1h0m2 0h0m0 1h0m2 0h0m-1 1h1m-9 1h0m5 0h0m2 0h1m2 0h0m2 0h0m-5 1h0m4 0h0m5 0h0m-15 1h0m5 0h0m-8 1h0m1 1h0m14 0h0m-17 2h0m3 0h0m2 0h0m-8 1h0m2 0h0m-4 1h0m4 0h0m-6 1h0m5 0h0m2 0h0m-2 1h0m-7 1h0m3 2h0m-5 1h0m-6 4h0m4 1h1m0 1h0m-7 1h0m5 1h0m-3 2h1m-1 1h0m-1 1h0m-18 10h0m-4 5h0m-4 11h0m-5 2h0m-1 1h0m3 0h0"/><path stroke="#0af1ed" d="M70.5 32.5h0m1 1h1m5 0h0m2 0h0m-3 1h0m-3 1h0m2 1h0m-16 2h0m1 2h0m-4 1h0m1 2h0m-4 1h0m3 0h0m-5 1h2m-2 1h0m-3 2h0m5 0h0m-9 4h0m-6 3h0m3 0h0m-3 6h0m-11 5h0m6 0h0m0 1h0m-2 1h0m0 1h0m-5 4h0m-17 15h0"/><path stroke="#1bffdc" d="M83.5 32.5h0m-5 1h0m-10 1h0m-6 1h0m8 0h0m2 0h0m4 0h0m7 0h0m-22 2h1m3 0h0m10 1h0m-12 1h0m-7 1h0m-1 1h0m-3 1h0m6 0h0m-10 4h0m-3 3h0m3 0h0m-5 1h0m8 0h0m-4 1h1m-5 1h0m-3 2h0m2 0h0m1 2h0m-11 6h0m-1 1h0m6 0h0m-3 3h0m-2 2h0m-19 18h0m-3 4h0"/><path stroke="#2dffca" d="M68.5 33.5h0m6 0h0m2 0h0m-5 1h0m3 1h0m-10 2h0m2 0h0m-2 1h0m-7 1h0m2 0h1m-5 6h0m-7 2h1m-2 1h0m0 2h0m-2 2h0m-5 1h0m3 1h1m-3 4h0m-6 6h0m-7 7h0m-16 11h0m-4 7h0"/><path stroke="#3effb9" d="M77.5 34.5h0m2 0h0m-17 2h0m4 0h0m-3 1h0m-3 1h0m2 0h0m-13 8h1m-1 2h0m2 0h0m-3 2h0m-6 3h2m-5 2h0m0 1h3m-1 1h0m-5 1h1m3 0h0m0 1h0m-6 1h0m3 0h0m0 2h0m-7 2h1m5 0h0m-1 1h0m-6 5h0m-5 4h0m-9 4h0m5 0h0m-1 1h0m-13 13h0m-1 1h0"/><path stroke="#50ffa7" d="M68.5 32.5h0m2 2h0m5 0h0m-31 17h1m-5 6h0m-4 2h0m3 0h0m-11 7h0m-6 5h0m4 1h0m-7 2h0m4 1h0m-5 5h0"/><path stroke="#61ff96" d="M64.5 36.5h0m-12 10h0m-2 1h2m-5 2h0m-5 6h0m-4 2h0m0 1h0m-3 2h0m-3 3h0m3 0h0m-6 2h0m5 0h0m-5 1h0m3 0h0m-2 3h0m-2 1h0m-7 2h0m4 1h0m-10 6h0m-7 13h0m-1 1h0m-3 1h0m2 0h0m-5 3h0m-1 1h0"/><path stroke="#73ff84" d="M70.5 33.5h0m-24 18h0m-5 2h0m0 1h0m-1 1h0m-2 1h0m1 2h0m-2 1h0m-1 1h0m1 1h0m-3 3h0m-14 9h0m-3 3h0m-4 5h0m-2 7h0m-8 7h0"/><path stroke="#84ff73" d="M46.5 50.5h0m-8 9h0m-4 2h0m-1 1h0m3 0h0m0 1h0m-6 2h0m2 0h0m-5 2h0m-2 2h0m-1 1h0m3 1h0m-6 5h0m-9 7h0m-1 1h0m1 3h0"/><path stroke="#96ff61" d="M39.5 57.5h0m-1 3h0m-3 1h1m-3 2h1m-2 1h0m1 1h0m-5 2h0m3 0h1m-6 1h0m4 0h0m-16 12h0m3 1h0m-7 8h0"/><path stroke="#a7ff50" d="M34.5 62.5h1m-2 2h0m-3 2h0m-3 3h0m2 0h0m-8 4h0m2 1h0m-5 1h0m-2 3h0m1 2h0m-15 16h0"/><path stroke="#b9ff3e" d="M31.5 66.5h0m-1 1h0m-3 1h2m-1 1h0m-3 1h0m-3 2h0m0 3h0m-6 7h0m-1 1h0m-2 2h0m-8 10h0m-1 1h0m-4 3h0"/><path stroke="#caff2d" d="M31.5 65.5h0m-2 2h0m-2 3h0m-4 1h0m1 1h0m-2 1h0m2 0h0m-4 4h0m-1 1h0m-6 4h0m1 2h0m-11 13h0"/><path stroke="#dcff1b" d="M24.5 71.5h0m2 0h0m-1 1h0m-5 2h0m-1 1h0m2 0h0m-1 1h0m-3 1h1m0 2h0m-8 7h0m-8 12h0"/><path stroke="#edff0a" d="M26.5 69.5h0m0 1h0m-1 1h0m-2 1h0m0 1h0m-5 5h0m-4 3h0m2 0h0m-3 3h0m-6 8h0"/><path stroke="#ffed00" d="M20.5 75.5h0m-1 1h0m-2 2h0m-2 2h0m0 2h0m-7 9h0"/><path stroke="#ffd800" d="M22.5 74.5h0m-4 2h0m-2 3h1m-1 1h0m-2 3h0m-2 1h0m-1 1h0m1 1h0m-3 4h0"/><path stroke="#ffc400" d="M21.5 74.5h0m-2 3h0m-4 4h0m-1 1h0m-1 1h0m-2 3h0m-1 2h0m-1 1h0"/><path stroke="#ffb000" d="M12.5 85.5h0m-2 2h1m-4 4h0m-2 3h0"/><path stroke="#ff9c00" d="M8.5 90.5h0m-2 3h0"/><path stroke="#ff7400" d="M4.5 95.5h0"/><path stroke="#ff6000" d="M3.5 96.5h0"/><path stroke="#ff2400" d="M2.5 97.5h0"/><path stroke="#e20000" d="M1.5 98.5h0"/></g>
<rect x="1828.8" y="711.7" width="259.8" height="260.3" fill="none" stroke="#000" stroke-width="1.33"/>
<text x="1879.5" y="995.7" font-size="16.1" text-anchor="middle">5.0e-06</text>
<text x="1959" y="995.7" font-size="16.1" text-anchor="middle">1.0e-05</text>
<text x="2039" y="995.7" font-size="16.1" text-anchor="middle">1.5e-05</text>
<path d="M1879.5 972v5.8M1959 972v5.8M2039 972v5.8" stroke="#000" stroke-width="1.33"/>
<text x="1816.7" y="728.9" font-size="16.1" text-anchor="end">1.7e-05</text>
<text x="1816.7" y="768.6" font-size="16.1" text-anchor="end">1.5e-05</text>
<text x="1816.7" y="808.8" font-size="16.1" text-anchor="end">1.2e-05</text>
<text x="1816.7" y="849" font-size="16.1" text-anchor="end">1.0e-05</text>
<text x="1816.7" y="889" font-size="16.1" text-anchor="end">7.5e-06</text>
<text x="1816.7" y="928.8" font-size="16.1" text-anchor="end">5.0e-06</text>
<text x="1816.7" y="968.5" font-size="16.1" text-anchor="end">2.5e-06</text>
<path d="M1828.8 721.9h-5.8M1828.8 761.6h-5.8M1828.8 801.8h-5.8M1828.8 842h-5.8M1828.8 882h-5.8M1828.8 921.8h-5.8M1828.8 961.5h-5.8" stroke="#000" stroke-width="1.33"/>
<text x="1958.7" y="1023.6" font-size="19.5" text-anchor="middle">Target</text>
<text x="1743.6" y="842.3" font-size="19.5" text-anchor="middle" transform="rotate(-90 1743.6 842.3)">Generated</text>
<text x="1839.6" y="730.3" font-size="16.1">CC = 0.99</text><text x="1839.6" y="761.6" font-size="16.1">NRMSE = 0.07</text>
<rect x="2094.7" y="711.7" width="13.0" height="260.3" fill="url(#jetg)" stroke="#000" stroke-width="1.33"/><path d="M2107.7 972.0h5.8M2107.7 940.7h3.3M2107.7 922.4h3.3M2107.7 909.4h3.3M2107.7 899.3h3.3M2107.7 891.1h3.3M2107.7 884.1h3.3M2107.7 878.1h3.3M2107.7 872.8h3.3M2107.7 868.0h5.8M2107.7 836.7h3.3M2107.7 818.4h3.3M2107.7 805.4h3.3M2107.7 795.3h3.3M2107.7 787.1h3.3M2107.7 780.1h3.3M2107.7 774.1h3.3M2107.7 768.8h3.3M2107.7 764.0h5.8M2107.7 732.7h3.3M2107.7 714.4h3.3" stroke="#000" stroke-width="1.1"/><text x="2120.7" y="980.0" font-size="16.1">10<tspan dy="-7" font-size="11.4">0</tspan></text><text x="2120.7" y="876.0" font-size="16.1">10<tspan dy="-7" font-size="11.4">1</tspan></text><text x="2120.7" y="772.0" font-size="16.1">10<tspan dy="-7" font-size="11.4">2</tspan></text>
<path d="M262.9 1068.4V1293.1" stroke="#000" stroke-width="2.7"/>
<rect x="40.8" y="1068.4" width="449.2" height="224.7" fill="none" stroke="#000" stroke-width="1.33"/>
<text x="40.8" y="1316.8" font-size="16.1" text-anchor="middle">0</text>
<text x="103.1" y="1316.8" font-size="16.1" text-anchor="middle">50</text>
<text x="165.3" y="1316.8" font-size="16.1" text-anchor="middle">100</text>
<text x="227.6" y="1316.8" font-size="16.1" text-anchor="middle">150</text>
<text x="289.9" y="1316.8" font-size="16.1" text-anchor="middle">200</text>
<text x="352.2" y="1316.8" font-size="16.1" text-anchor="middle">250</text>
<text x="414.4" y="1316.8" font-size="16.1" text-anchor="middle">300</text>
<text x="476.7" y="1316.8" font-size="16.1" text-anchor="middle">350</text>
<path d="M40.8 1293.1v5.8M103.1 1293.1v5.8M165.3 1293.1v5.8M227.6 1293.1v5.8M289.9 1293.1v5.8M352.2 1293.1v5.8M414.4 1293.1v5.8M476.7 1293.1v5.8" stroke="#000" stroke-width="1.33"/>
<text x="28.7" y="1089.4" font-size="16.1" text-anchor="end">60</text>
<text x="28.7" y="1131" font-size="16.1" text-anchor="end">30</text>
<text x="28.7" y="1187.4" font-size="16.1" text-anchor="end">0</text>
<text x="28.7" y="1237.1" font-size="16.1" text-anchor="end">-30</text>
<text x="28.7" y="1284.8" font-size="16.1" text-anchor="end">-60</text>
<path d="M40.8 1082.4h-5.8M40.8 1124h-5.8M40.8 1180.4h-5.8M40.8 1230.1h-5.8M40.8 1277.8h-5.8" stroke="#000" stroke-width="1.33"/>
<text x="265.4" y="1347.1" font-size="26.5" text-anchor="middle">Rs: 30.51</text>
<path d="M799.3 1068.4V1293.1" stroke="#000" stroke-width="2.7"/>
<rect x="577.2" y="1068.4" width="449.2" height="224.7" fill="none" stroke="#000" stroke-width="1.33"/>
<text x="577.2" y="1316.8" font-size="16.1" text-anchor="middle">0</text>
<text x="639.5" y="1316.8" font-size="16.1" text-anchor="middle">50</text>
<text x="701.7" y="1316.8" font-size="16.1" text-anchor="middle">100</text>
<text x="764" y="1316.8" font-size="16.1" text-anchor="middle">150</text>
<text x="826.3" y="1316.8" font-size="16.1" text-anchor="middle">200</text>
<text x="888.6" y="1316.8" font-size="16.1" text-anchor="middle">250</text>
<text x="950.8" y="1316.8" font-size="16.1" text-anchor="middle">300</text>
<text x="1013.1" y="1316.8" font-size="16.1" text-anchor="middle">350</text>
<path d="M577.2 1293.1v5.8M639.5 1293.1v5.8M701.7 1293.1v5.8M764 1293.1v5.8M826.3 1293.1v5.8M888.6 1293.1v5.8M950.8 1293.1v5.8M1013.1 1293.1v5.8" stroke="#000" stroke-width="1.33"/>
<text x="565.1" y="1089.4" font-size="16.1" text-anchor="end">60</text>
<text x="565.1" y="1131" font-size="16.1" text-anchor="end">30</text>
<text x="565.1" y="1187.4" font-size="16.1" text-anchor="end">0</text>
<text x="565.1" y="1237.1" font-size="16.1" text-anchor="end">-30</text>
<text x="565.1" y="1284.8" font-size="16.1" text-anchor="end">-60</text>
<path d="M577.2 1082.4h-5.8M577.2 1124h-5.8M577.2 1180.4h-5.8M577.2 1230.1h-5.8M577.2 1277.8h-5.8" stroke="#000" stroke-width="1.33"/>
<text x="801.8" y="1347.1" font-size="26.5" text-anchor="middle">Rs: 30.51</text>
<path d="M1179.5 1297.7L1185.1 1298.3L1196.3 1295.5L1207.4 1291.3L1214.4 1288.5L1218.6 1284.3L1229.8 1277.4L1240.9 1269.0L1249.3 1262.0L1252.1 1257.8L1263.3 1246.7L1274.4 1235.5L1285.6 1224.3L1288.4 1217.4L1296.7 1207.6L1307.9 1193.7L1319.1 1176.9L1320.5 1171.3L1330.2 1157.4L1341.4 1140.6L1352.6 1115.5L1354.0 1109.9L1363.7 1090.4L1372.1 1079.2L1379.1 1070.3L1381.9 1072.3L1386.0 1084.8L1387.4 1096.0L1391.6 1107.1L1397.2 1121.1L1402.8 1136.4L1408.4 1142.0L1419.5 1148.4L1425.1 1146.2L1430.7 1144.8L1439.1 1142.0L1441.9 1142.0L1450.2 1146.2L1458.6 1150.4L1464.2 1154.6L1472.6 1165.7L1480.9 1179.7L1489.3 1195.0L1492.1 1204.8L1500.5 1216.0L1508.8 1227.1L1520.0 1241.1L1525.6 1252.3L1528.4 1256.4L1536.7 1264.8L1547.9 1274.6L1559.1 1283.0L1561.9 1287.1L1575.8 1291.3L1589.2 1295.5" fill="none" stroke="#1f77b4" stroke-width="2.25" stroke-linejoin="round" stroke-linecap="square"/><path d="M1179.5 1296.3L1185.1 1297.5L1196.3 1294.7L1207.4 1290.8L1214.4 1287.7L1218.6 1283.5L1229.8 1276.8L1240.9 1267.6L1249.3 1260.6L1252.1 1255.6L1263.3 1245.3L1274.4 1232.7L1285.6 1218.8L1288.4 1211.8L1296.7 1202.0L1307.9 1188.1L1319.1 1172.7L1320.5 1165.7L1330.2 1151.8L1341.4 1135.0L1352.6 1114.1L1354.0 1105.7L1363.7 1087.6L1372.1 1076.4L1380.5 1066.7L1386.0 1061.9L1388.8 1075.0L1394.4 1083.4L1400.0 1093.2L1408.4 1105.7L1416.7 1112.7L1425.1 1116.9L1433.5 1122.5L1441.9 1129.5L1450.2 1139.2L1455.8 1149.0L1458.6 1156.0L1467.0 1171.3L1475.3 1186.7L1483.7 1199.2L1489.3 1207.6L1492.1 1213.2L1500.5 1224.3L1508.8 1235.5L1520.0 1249.5L1525.6 1259.2L1536.7 1270.4L1547.9 1278.8L1559.1 1285.7L1561.9 1288.5L1575.8 1293.6L1589.2 1296.9" fill="none" stroke="#ff7f0e" stroke-width="2.25" stroke-linejoin="round" stroke-linecap="square"/>
<rect x="1160.5" y="1050.4" width="449.7" height="260.3" fill="none" stroke="#000" stroke-width="1.33"/>
<text x="1208.8" y="1334.4" font-size="16.1" text-anchor="middle">-60</text>
<text x="1295.4" y="1334.4" font-size="16.1" text-anchor="middle">-30</text>
<text x="1387.5" y="1334.4" font-size="16.1" text-anchor="middle">0</text>
<text x="1489.9" y="1334.4" font-size="16.1" text-anchor="middle">30</text>
<text x="1566.1" y="1334.4" font-size="16.1" text-anchor="middle">60</text>
<path d="M1208.8 1310.7v5.8M1295.4 1310.7v5.8M1387.5 1310.7v5.8M1489.9 1310.7v5.8M1566.1 1310.7v5.8" stroke="#000" stroke-width="1.33"/>
<text x="1148.4" y="1105.8" font-size="16.1" text-anchor="end">8.0e-06</text>
<text x="1148.4" y="1165.8" font-size="16.1" text-anchor="end">6.0e-06</text>
<text x="1148.4" y="1227.7" font-size="16.1" text-anchor="end">4.0e-06</text>
<text x="1148.4" y="1288.6" font-size="16.1" text-anchor="end">2.0e-06</text>
<path d="M1160.5 1098.8h-5.8M1160.5 1158.8h-5.8M1160.5 1220.7h-5.8M1160.5 1281.6h-5.8" stroke="#000" stroke-width="1.33"/>
<text x="1384.5" y="1362.3" font-size="19.5" text-anchor="middle">Latitude</text>
<text x="1076.3" y="1183.6" font-size="19.5" text-anchor="middle" transform="rotate(-90 1076.3 1183.6)">Density</text>
<rect x="1455.1" y="1058.7" width="146.5" height="54.8" rx="3.3" fill="#fff" fill-opacity="0.8" stroke="#d9d9d9" stroke-width="1.33"/><path d="M1460.5 1071.1h35.2" stroke="#1f77b4" stroke-width="2.5"/><path d="M1460.5 1096.1h35.2" stroke="#ff7f0e" stroke-width="2.5"/><text x="1508" y="1077.9" font-size="16.1">Genareted</text><text x="1508" y="1103.3" font-size="16.1">Target</text>
<g transform="translate(1828.80 1050.40) scale(2.59800 2.60300)" fill="none" stroke-width="1.1" stroke-linecap="square"><path stroke="#000080" d="M95.5 8.5h0m-12 1h2m12 0h0m-14 1h0m-3 1h2m2 0h0m14 0h0m-21 1h2m19 0h0m-23 1h0m2 0h2m19 0h0m-21 1h0m3 0h1m16 0h0m-24 1h0m2 0h1m5 0h0m16 0h0m-23 1h1m23 0h0m-37 1h0m11 0h0m2 0h2m19 0h0m2 0h0m2 0h0m-30 1h0m5 0h1m19 0h0m2 0h3m-39 1h0m3 0h0m4 0h0m5 0h3m19 0h2m3 0h0m-40 1h2m6 0h3m2 0h0m22 0h0m3 0h1m-37 1h0m5 0h0m2 0h1m2 0h0m21 0h0m4 0h2m-42 1h0m13 0h4m18 0h0m4 0h0m2 0h1m-40 1h0m3 0h1m4 0h0m5 0h2m16 0h0m8 0h1m-43 1h1m2 0h1m3 0h0m4 0h0m4 0h1m18 0h0m5 0h1m-27 1h1m20 0h1m4 0h0m-34 1h0m2 0h0m2 0h2m2 0h0m15 0h0m11 0h0m2 0h0m-43 1h0m2 0h0m4 0h0m3 0h0m2 0h0m2 0h0m25 0h1m3 0h1m-37 1h1m3 0h0m2 0h0m19 0h2m4 0h0m2 0h1m3 0h0m-40 1h0m3 0h0m2 0h1m2 0h0m16 0h0m2 0h0m4 0h0m2 0h1m2 0h0m2 0h1m-44 1h0m5 0h0m7 0h2m18 0h0m4 0h0m2 0h2m2 0h1m2 0h0m-45 1h0m9 0h1m2 0h1m18 0h0m2 0h1m2 0h1m2 0h1m3 0h1m-45 1h0m7 0h1m4 0h2m11 0h0m3 0h1m2 0h0m3 0h0m2 0h7m2 0h0m-41 1h0m4 0h1m2 0h0m12 0h1m6 0h0m3 0h0m2 0h0m3 0h1m2 0h3m-46 1h0m2 0h0m3 0h0m2 0h0m5 0h1m12 0h0m2 0h2m3 0h5m2 0h5m-45 1h0m5 0h0m2 0h0m3 0h0m20 0h1m2 0h1m3 0h2m2 0h0m2 0h2m-39 1h0m3 0h2m2 0h0m10 0h0m5 0h0m2 0h2m2 0h1m2 0h1m3 0h1m3 0h1m-50 1h0m7 0h1m2 0h1m16 0h0m2 0h0m2 0h8m2 0h0m4 0h0m-47 1h1m3 0h0m6 0h0m4 0h2m12 0h0m4 0h1m2 0h4m2 0h2m2 0h0m6 0h0m-50 1h0m3 0h1m4 0h0m2 0h1m2 0h0m2 0h0m13 0h2m3 0h2m2 0h2m6 0h0m-40 1h0m3 0h1m2 0h2m15 0h1m2 0h0m3 0h1m5 0h0m3 0h0m-36 1h0m2 0h0m2 0h1m17 0h0m2 0h4m3 0h1m2 0h2m-49 1h1m3 0h2m5 0h0m3 0h0m3 0h0m13 0h0m5 0h5m3 0h0m3 0h2m3 0h0m-54 1h0m11 0h0m3 0h0m3 0h0m16 0h0m2 0h0m2 0h0m3 0h1m2 0h0m8 0h0m-42 1h1m4 0h0m3 0h0m15 0h0m2 0h0m2 0h2m2 0h1m2 0h3m-47 1h0m4 0h0m2 0h3m2 0h6m19 0h0m2 0h1m2 0h0m3 0h0m3 0h1m-46 1h0m2 0h0m2 0h0m3 0h0m4 0h3m14 0h0m6 0h5m5 0h1m-46 1h0m3 0h2m7 0h0m2 0h0m11 0h0m8 0h1m2 0h0m3 0h0m5 0h1m-46 1h0m2 0h0m4 0h0m3 0h5m17 0h2m2 0h2m3 0h0m4 0h0m-48 1h0m3 0h3m5 0h0m4 0h1m18 0h1m5 0h0m2 0h0m4 0h1m-46 1h0m5 0h0m4 0h2m2 0h0m2 0h0m11 0h0m7 0h1m2 0h4m3 0h3m-46 1h6m3 0h1m2 0h1m2 0h0m12 0h0m2 0h0m5 0h0m3 0h0m2 0h6m-43 1h0m3 0h2m29 0h0m2 0h2m2 0h2m-45 1h1m6 0h0m3 0h2m10 0h0m8 0h0m4 0h0m2 0h0m2 0h5m-40 1h8m12 0h0m7 0h1m3 0h0m2 0h1m2 0h4m-46 1h0m4 0h1m4 0h5m12 0h0m8 0h0m7 0h2m-43 1h0m2 0h4m2 0h1m3 0h2m14 0h0m2 0h1m2 0h0m2 0h0m2 0h0m2 0h0m2 0h0m2 0h0m-41 1h4m4 0h0m2 0h0m11 0h0m7 0h0m2 0h2m4 0h1m2 0h1m-41 1h0m4 0h0m2 0h1m3 0h0m15 0h0m2 0h1m2 0h11m-40 1h0m5 0h0m3 0h0m10 0h0m3 0h2m2 0h0m4 0h1m3 0h2m2 0h2m-43 1h0m4 0h0m2 0h1m2 0h0m2 0h0m15 0h0m4 0h0m3 0h2m2 0h5m-41 1h0m4 0h0m2 0h0m2 0h1m12 0h0m5 0h1m3 0h0m2 0h1m2 0h0m2 0h1m-36 1h1m2 0h1m3 0h0m9 0h0m4 0h0m4 0h2m3 0h6m2 0h0m-39 1h1m2 0h0m3 0h2m11 0h0m2 0h2m2 0h4m2 0h5m-34 1h0m2 0h1m10 0h0m2 0h0m2 0h0m3 0h4m2 0h1m4 0h1m2 0h0m-33 1h2m11 0h1m3 0h1m2 0h0m3 0h2m2 0h0m2 0h0m2 0h1m-36 1h0m4 0h1m9 0h2m3 0h0m2 0h5m3 0h0m5 0h0m-32 1h2m9 0h1m2 0h0m3 0h0m2 0h0m2 0h1m3 0h0m3 0h1m2 0h1m-32 1h0m11 0h1m2 0h3m3 0h0m2 0h2m2 0h4m-32 1h0m12 0h0m4 0h1m3 0h0m4 0h4m-16 1h0m3 0h7m2 0h2m-18 1h3m5 0h1m2 0h0m4 0h0m-24 1h0m8 0h0m8 0h0m3 0h0m-11 1h3m2 0h2m5 0h0m2 0h0m-16 1h3m2 0h0m3 0h0m2 0h0m2 0h0m2 0h0m-15 1h6m-7 1h2m2 0h1m7 0h0m-13 1h3m2 0h1m-7 1h4m-5 1h1m-12 7h0m-8 12h0"/><path stroke="#0003ff" d="M89.5 7.5h0m-1 1h0m-2 1h0m12 0h0m-13 1h0m12 0h0m-14 1h0m2 0h0m3 0h0m-7 1h0m-1 1h0m2 0h0m15 0h0m-18 1h0m3 0h0m13 0h0m3 0h0m-20 1h0m17 1h0m-18 1h1m2 0h0m11 0h0m5 0h0m-1 1h0m-18 1h0m2 0h0m11 0h0m8 0h0m-23 1h0m0 1h0m15 0h0m5 0h0m-21 1h0m12 0h0m3 0h1m2 0h2m2 0h0m-8 1h0m5 0h1m-9 1h0m7 0h1m3 0h0m-25 1h1m15 0h0m5 0h1m-24 1h0m13 0h0m3 0h0m2 0h0m6 0h0m-26 1h1m13 0h0m2 0h0m4 0h1m2 0h0m3 0h1m-28 1h1m14 0h0m6 0h0m4 0h0m-24 1h0m14 0h0m4 0h0m-11 1h3m2 0h0m8 0h0m-23 1h0m12 0h2m7 0h0m-4 1h1m-20 1h0m12 0h1m2 0h1m-8 1h0m3 0h0m5 0h0m-18 1h1m10 0h0m2 0h2m3 0h0m-18 1h0m12 0h0m3 0h0m-17 1h1m13 0h0m-2 1h0m-3 1h0m5 0h0m-5 1h0m4 0h0m2 0h0m-7 1h0m3 0h0m2 0h0m-18 1h0m11 0h0m3 0h2m-17 1h0m11 0h1m-14 1h0m15 0h0m2 0h0m-6 1h0m2 0h3m-18 1h0m10 0h1m5 0h0m-6 1h2m4 0h0m-8 1h0m3 0h2m4 0h0m-8 1h2m-3 1h2m5 0h0m-21 1h0m17 0h0m2 0h0m-5 1h2m2 0h0m2 0h0m-22 1h0m12 0h0m4 0h0m-17 1h0m10 0h0m4 0h1m6 0h0m2 0h0m-11 1h0m2 0h0m3 0h1m-6 1h0m5 0h0m4 0h0m-23 1h0m13 0h0m2 0h1m2 0h0m6 0h0m-17 1h1m9 0h0m-8 1h0m4 0h0m7 0h0m-11 1h1m3 0h1m3 0h0m-13 1h0m4 0h0m2 0h1m-8 1h0m2 0h0m5 0h1m-7 1h0m2 0h0m-4 1h0m4 0h1m-15 1h0m12 0h0m-14 2h0m12 0h1m-14 1h0m8 0h0m3 0h0m-4 1h0m2 0h1m-4 1h0m3 0h1m-13 1h0m7 1h2m-4 1h0m-8 1h0m5 1h0m-9 5h0m-6 7h0m-1 1h0"/><path stroke="#0044ff" d="M88.5 9.5h0m2 0h0m4 0h0m3 2h0m-14 1h0m14 0h0m-11 1h0m-3 1h1m2 0h0m-7 1h1m10 0h0m4 0h1m3 0h0m-20 1h0m14 0h0m2 0h0m2 0h0m-17 1h0m19 0h0m-22 1h1m15 1h0m5 0h0m-23 1h0m2 0h0m14 0h0m2 0h0m3 0h1m-22 1h0m14 0h1m4 0h0m-6 1h0m-2 1h0m7 0h0m3 0h0m-9 1h2m3 0h0m-8 1h3m-5 1h0m5 0h0m-6 1h0m2 0h0m7 0h0m-9 1h0m3 0h0m5 0h0m-13 1h0m2 0h1m5 0h1m3 0h0m3 0h0m-23 1h0m11 0h0m6 0h1m-11 1h1m5 0h0m-9 1h0m2 0h0m2 0h0m-13 2h1m8 0h0m6 0h0m-5 1h0m-2 1h1m2 0h0m-3 1h0m-12 1h0m11 0h0m2 0h0m-16 2h1m10 0h0m2 0h0m-13 1h0m9 0h0m4 0h0m-5 1h0m-1 1h0m4 0h0m2 0h0m-17 1h0m10 0h1m-3 1h0m3 0h0m-2 1h0m2 0h0m-1 1h2m-6 1h0m-2 1h0m10 0h0m-10 1h0m5 0h0m-4 1h0m2 0h0m5 0h0m-10 1h0m-12 1h0m10 0h0m2 0h2m3 0h0m-7 1h0m4 0h0m-7 1h0m4 0h0m9 0h0m-15 1h3m4 0h0m-5 1h0m11 0h0m-12 1h0m2 0h0m3 1h1m-19 1h0m8 0h0m2 0h0m-11 1h0m9 0h0m4 1h0m-7 1h0m-9 1h0m11 0h0m-1 2h0m-6 1h0m-3 3h0m-7 6h0m-16 13h0m-1 1h0m-2 6h0"/><path stroke="#006fff" d="M91.5 8.5h0m3 0h0m-7 1h0m2 0h0m2 0h0m-7 1h0m2 0h0m5 0h0m5 0h0m2 0h0m-12 1h0m3 0h0m7 0h0m-12 1h0m11 0h0m-14 1h0m11 0h1m1 1h0m-11 1h1m3 0h0m9 0h0m-16 1h0m3 0h0m8 0h0m2 0h0m-1 1h1m-4 1h0m-13 1h0m9 0h0m2 0h0m6 0h0m-15 1h0m8 0h0m5 1h0m-7 1h0m4 0h0m-2 1h1m-4 1h0m-13 1h0m21 0h0m4 0h0m-16 1h0m9 0h0m2 0h0m-6 1h0m2 0h0m-7 1h0m10 0h0m-13 1h0m-11 1h0m16 0h0m-2 1h0m3 0h0m-18 1h0m8 0h0m7 0h0m-16 1h0m-1 2h0m3 4h0m-8 1h0m8 0h0m-11 1h0m11 0h0m-11 1h0m-5 3h0m11 0h0m-3 1h0m6 0h0m-16 1h0m13 2h0m-16 1h0m9 1h0m7 0h0m-18 1h0m8 0h0m2 0h0m7 1h1m-11 2h0m1 1h0m-5 1h1m5 0h0m0 1h0m-6 1h0m-2 1h0m2 0h0m4 0h0m-5 2h0m-4 1h0m2 2h0m-14 1h0m5 4h0m-10 7h0m-10 7h0"/><path stroke="#009bff" d="M89.5 8.5h1m6 1h0m-8 1h0m5 1h0m-5 1h0m8 0h0m-11 1h0m9 0h1m-7 1h0m5 0h0m3 0h0m-14 1h0m3 0h0m4 0h0m-8 1h0m5 0h0m8 1h0m-16 1h0m12 0h0m2 0h1m-4 1h0m-2 1h0m6 0h0m-17 1h0m2 0h0m9 0h0m-12 1h0m2 0h0m5 0h1m1 1h0m7 0h0m-19 1h0m10 0h0m-7 1h0m7 0h0m-12 1h1m6 0h1m2 0h0m4 0h0m5 0h0m-10 1h0m-11 1h0m2 0h1m3 0h1m3 0h0m4 0h0m-13 1h0m4 0h1m-8 1h0m7 0h0m-1 1h1m-8 1h0m11 1h0m-6 2h0m-8 1h0m-2 1h0m8 0h0m-9 1h0m7 0h0m-8 1h0m8 0h0m-2 1h0m-2 1h0m-6 1h0m5 0h0m2 2h0m-13 1h0m-2 2h0m-2 1h0m10 1h0m-15 3h0m14 0h0m4 0h0m-19 2h0m12 0h0m4 0h0m-17 1h0m15 0h0m-8 3h0m2 0h0m-11 7h1m-13 4h0m7 0h0m-11 4h0m5 1h0m-7 7h0"/><path stroke="#00b0ff" d="M92.5 8.5h0m0 1h1m2 0h0m-8 1h0m2 0h0m3 0h0m3 0h0m0 1h0m-1 1h0m-11 1h0m7 0h0m3 2h0m-11 1h0m-1 1h0m3 0h0m6 0h0m-2 1h0m3 0h0m-13 1h0m1 1h0m10 0h0m2 0h0m-14 1h0m5 0h0m3 0h0m-9 1h0m9 0h0m-11 1h1m15 0h0m-17 1h2m-2 1h0m7 0h1m7 0h0m-14 1h0m-5 1h0m3 0h0m3 0h1m2 0h0m-5 1h0m-5 2h0m-3 1h2m-3 2h0m2 0h0m5 0h0m-3 3h0m-1 2h0m-4 3h0m-10 2h0m1 6h0m-10 2h0m8 0h0m-2 2h0m-2 1h0m-13 5h1m10 2h0m-11 5h0m-11 4h0m-2 2h0m-1 7h0"/><path stroke="#00c6ff" d="M90.5 10.5h0m-3 1h0m7 0h0m-5 1h0m-5 1h0m3 0h0m9 0h0m-6 1h0m-2 1h0m3 0h0m-7 1h1m4 0h1m-8 1h0m6 0h1m-10 1h0m3 0h0m3 0h0m0 2h0m3 0h0m-10 2h0m2 0h0m1 1h0m-2 1h0m-2 1h1m-6 1h0m-1 1h0m2 0h0m-4 1h0m8 0h0m2 1h0m-10 1h0m2 0h0m-2 1h0m0 1h1m0 1h0m-2 1h1m0 1h0m-3 2h0m-2 2h0m-9 3h0m-3 2h0m3 4h0m-3 2h0m2 1h0m-3 1h0m-4 3h0m-8 1h0m6 0h0m-9 2h0m7 0h0m-7 7h0m-14 13h0"/><path stroke="#0af1ed" d="M93.5 8.5h0m-2 3h0m-5 1h0m4 0h3m-4 1h0m-4 1h0m2 0h0m4 0h1m-6 1h0m6 0h0m-4 1h0m-3 1h2m-7 1h0m3 0h1m2 0h0m-5 1h0m3 0h0m4 0h0m-11 1h0m3 0h1m2 0h0m0 1h0m3 0h0m-5 1h0m-5 1h0m2 0h1m4 0h0m-7 1h1m3 0h0m4 0h0m-8 1h0m3 0h0m-9 2h0m6 1h0m-8 1h0m2 0h0m2 1h0m-4 1h0m3 0h0m-5 1h0m-2 2h1m-2 1h0m2 0h0m-4 1h0m4 0h0m2 0h0m-6 1h1m2 0h0m3 0h0m-7 1h0m0 1h0m3 0h0m-7 4h0m3 0h0m-1 1h2m-9 1h0m6 0h1m-7 1h0m5 0h0m-3 2h0m0 1h0m-8 1h0m8 0h0m-5 2h0m-5 1h0m-2 1h0m6 0h0m-4 5h0m-8 1h0m-1 1h0m5 1h0m-1 1h0m-1 1h0m-4 4h0m-3 2h0m-2 2h0m-1 1h0m-8 3h0m-1 1h0m2 3h0m-2 2h0m-4 1h0m-2 2h0m-11 14h0"/><path stroke="#1bffdc" d="M93.5 10.5h0m-3 1h0m-3 1h0m4 1h0m-2 1h0m-8 4h0m1 1h0m2 1h0m-3 1h0m-4 2h0m5 0h0m-7 3h1m1 1h0m-6 2h0m-4 4h0m-1 2h1m-4 1h0m3 0h0m-3 1h0m2 1h0m-6 1h0m-1 1h0m-2 1h0m4 1h0m0 1h1m-8 2h0m-4 1h0m6 1h1m-9 1h0m4 3h0m-8 1h0m3 3h0m-8 2h0m6 0h0m-4 4h0m-7 1h0m-5 5h0m-11 16h0"/><path stroke="#2dffca" d="M94.5 10.5h0m-9 2h0m3 1h0m-1 3h0m0 2h0m-1 1h0m-4 1h0m-3 1h0m0 1h0m1 1h0m1 1h0m-8 2h0m-4 7h0m-8 6h0m2 1h0m-1 2h0m-4 1h0m-8 3h0m-2 2h0m6 0h0m-14 7h0m-11 11h0m-14 19h0m-11 9h0m-1 1h0m-2 2h0"/><path stroke="#3effb9" d="M92.5 11.5h0m-9 6h0m-3 2h0m3 0h0m-9 6h0m-6 7h0m-3 1h0m3 0h0m0 2h0m-3 2h0m-4 3h0m-4 1h1m0 1h0m-5 2h0m3 0h1m-3 1h0m-5 2h0m5 0h0m-8 2h0m4 0h0m-4 1h0m4 0h0m-5 1h0m5 0h0m-1 1h0m-1 1h0m-11 5h0m5 1h0m-6 1h0m-4 3h0m-1 1h0m-1 1h0m-3 3h0m2 3h0m-6 1h0m-2 2h0m-1 1h0m-7 10h0m1 1h0"/><path stroke="#50ffa7" d="M72.5 28.5h0m-2 3h0m-3 3h0m-3 1h0m-1 3h0m-1 2h0m-8 3h1m1 2h0m-10 6h0m-4 2h0m-4 5h0m2 2h0m-6 2h0m-18 22h0m-6 4h0m-5 5h0"/><path stroke="#61ff96" d="M80.5 21.5h0m4 0h0m-6 3h0m-4 3h0m-4 3h0m-4 4h0m-2 2h0m-3 2h1m2 0h0m-2 1h0m-3 1h0m0 1h0m0 1h0m-5 2h0m1 2h0m-4 1h0m1 1h0m-1 1h1m-7 6h0m-4 4h0m-2 2h0m-2 2h0m-5 5h0m-6 1h0m-1 1h0m-3 3h0m-10 13h0m-1 1h0m1 1h0m-6 4h0m-4 4h0"/><path stroke="#73ff84" d="M67.5 32.5h0m-7 8h0m0 1h1m-4 2h0m-2 1h0m-3 1h0m0 1h1m-5 3h1m-2 4h0m-5 1h0m4 0h0m-4 1h0m2 1h0m-1 1h0m-11 7h0m2 2h0m-3 3h0m-8 7h0m-1 1h0m-9 10h0m-4 2h0m-1 1h0m-1 1h0"/><path stroke="#84ff73" d="M72.5 29.5h0m-15 13h0m-2 3h0m-3 2h0m-5 2h0m4 1h0m-7 2h0m1 2h0m-6 3h0m3 0h0m-1 1h1m-1 2h0m-15 13h0m-2 2h0m-7 4h0m-6 10h0m-11 9h0"/><path stroke="#96ff61" d="M54.5 46.5h0m-4 1h0m3 0h0m-3 1h1m-4 2h1m0 1h0m-2 2h0m-5 2h0m3 0h0m-4 1h0m3 0h0m-3 3h0m-7 4h0m0 4h0m-9 4h0m4 0h0m-1 1h0m-2 2h0m-4 4h0m-1 1h0"/><path stroke="#a7ff50" d="M49.5 48.5h0m0 2h0m0 1h0m-4 1h1m-5 4h0m-1 1h0m0 1h0m-3 1h1m1 1h0m-1 2h0m-2 2h0m-5 1h0m-2 2h0m2 1h0m-22 23h0"/><path stroke="#b9ff3e" d="M47.5 51.5h0m-2 2h0m-2 1h0m-1 2h0m-1 1h0m-4 3h0m-2 1h0m-1 2h0m2 0h0m-2 2h1m-5 1h0m3 0h0m-6 3h0m3 0h0m-4 1h0m-7 7h0m-1 1h0"/><path stroke="#caff2d" d="M47.5 52.5h0m-3 1h0m-1 2h0m-5 5h0m-2 1h0m-1 1h1m-1 1h0m0 1h0m-4 2h1m0 1h0m-4 1h0m1 2h0m-10 10h0m-9 10h0m-3 3h0m-1 1h0m-3 3h0"/><path stroke="#dcff1b" d="M44.5 54.5h0m-5 4h0m0 1h0m-1 2h0m-1 1h0m-7 5h0m-5 4h0m2 0h0m-4 2h0m-2 2h0m2 0h0m-5 6h0m-1 1h0m-9 10h0"/><path stroke="#edff0a" d="M31.5 67.5h0m-2 1h0m-1 1h0m-2 2h0m-2 1h1m-1 1h0m-1 1h0m-3 2h0m-4 5h0m0 2h0m-1 1h0m-10 11h0m-5 4h0"/><path stroke="#ffed00" d="M37.5 61.5h0m-3 3h0m-2 1h1m-4 4h0m-2 1h0m-1 2h0m-1 1h0m-3 1h0m2 0h0m-20 22h0"/><path stroke="#ffd800" d="M33.5 64.5h0m-3 4h0m-2 2h0m-6 5h0m-1 1h0m0 1h0m-6 5h0m-1 3h0m-1 1h0m-11 12h0"/><path stroke="#ffc400" d="M22.5 76.5h0m-4 3h0m-1 1h0"/><path stroke="#ffb000" d="M19.5 78.5h1m-4 4h0m-4 5h0"/><path stroke="#ff9c00" d="M20.5 77.5h0m-1 2h0m-1 1h0m-1 1h0m-2 2h0m-4 5h0"/><path stroke="#ff8800" d="M14.5 84.5h0m-4 5h0"/><path stroke="#ff7400" d="M9.5 90.5h0"/><path stroke="#ff6000" d="M8.5 91.5h0"/><path stroke="#ff4c00" d="M7.5 92.5h0"/><path stroke="#ff3800" d="M6.5 93.5h0m-2 2h0"/><path stroke="#ff2400" d="M5.5 94.5h0"/><path stroke="#fb0f00" d="M3.5 96.5h0m-1 1h0"/><path stroke="#e20000" d="M1.5 98.5h0"/></g>
<rect x="1828.8" y="1050.4" width="259.8" height="260.3" fill="none" stroke="#000" stroke-width="1.33"/>
<text x="1847.8" y="1334.4" font-size="16.1" text-anchor="middle">2.0e-06</text>
<text x="1910.5" y="1334.4" font-size="16.1" text-anchor="middle">4.0e-06</text>
<text x="1973.2" y="1334.4" font-size="16.1" text-anchor="middle">6.0e-06</text>
<text x="2035.6" y="1334.4" font-size="16.1" text-anchor="middle">8.0e-06</text>
<path d="M1847.8 1310.7v5.8M1910.5 1310.7v5.8M1973.2 1310.7v5.8M2035.6 1310.7v5.8" stroke="#000" stroke-width="1.33"/>
<text x="1816.7" y="1110.8" font-size="16.1" text-anchor="end">8.0e-06</text>
<text x="1816.7" y="1173.2" font-size="16.1" text-anchor="end">6.0e-06</text>
<text x="1816.7" y="1236.4" font-size="16.1" text-anchor="end">4.0e-06</text>
<text x="1816.7" y="1299" font-size="16.1" text-anchor="end">2.0e-06</text>
<path d="M1828.8 1103.8h-5.8M1828.8 1166.2h-5.8M1828.8 1229.4h-5.8M1828.8 1292h-5.8" stroke="#000" stroke-width="1.33"/>
<text x="1958.7" y="1362.3" font-size="19.5" text-anchor="middle">Target</text>
<text x="1743.6" y="1181" font-size="19.5" text-anchor="middle" transform="rotate(-90 1743.6 1181)">Generated</text>
<text x="1832.5" y="1072.6" font-size="16.1">CC = 0.99</text><text x="1832.5" y="1103.0" font-size="16.1">NRMSE = 0.05</text>
<rect x="2094.7" y="1050.4" width="13.0" height="260.3" fill="url(#jetg)" stroke="#000" stroke-width="1.33"/><path d="M2107.7 1310.7h5.8M2107.7 1280.1h3.3M2107.7 1262.3h3.3M2107.7 1249.6h3.3M2107.7 1239.8h3.3M2107.7 1231.7h3.3M2107.7 1224.9h3.3M2107.7 1219.0h3.3M2107.7 1213.8h3.3M2107.7 1209.2h5.8M2107.7 1178.6h3.3M2107.7 1160.8h3.3M2107.7 1148.1h3.3M2107.7 1138.3h3.3M2107.7 1130.2h3.3M2107.7 1123.4h3.3M2107.7 1117.5h3.3M2107.7 1112.3h3.3M2107.7 1107.7h5.8M2107.7 1077.1h3.3M2107.7 1059.3h3.3" stroke="#000" stroke-width="1.1"/><text x="2120.7" y="1318.7" font-size="16.1">10<tspan dy="-7" font-size="11.4">0</tspan></text><text x="2120.7" y="1217.2" font-size="16.1">10<tspan dy="-7" font-size="11.4">1</tspan></text><text x="2120.7" y="1115.7" font-size="16.1">10<tspan dy="-7" font-size="11.4">2</tspan></text></svg></div></body></html>
